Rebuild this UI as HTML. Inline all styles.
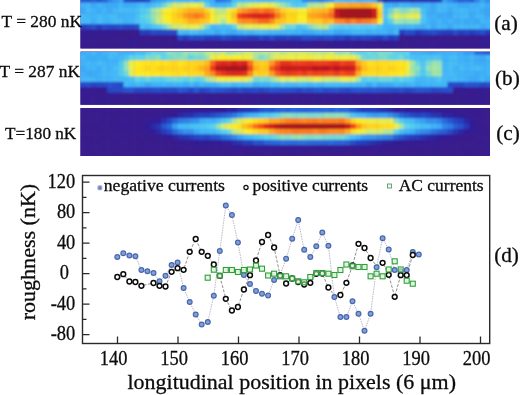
<!DOCTYPE html>
<html><head><meta charset="utf-8"><title>figure</title>
<style>html,body{margin:0;padding:0;background:#fff}body{width:520px;height:395px;overflow:hidden}</style></head>
<body>
<svg width="520" height="395" viewBox="0 0 520 395" style="display:block">
<rect width="520" height="395" fill="#fff"/>
<defs><clipPath id="ca"><rect x="80.5" y="0" width="409.5" height="48.5"/></clipPath><clipPath id="cb"><rect x="80.5" y="51.9" width="409.5" height="52.9"/></clipPath><clipPath id="cc"><rect x="80.5" y="108" width="409.5" height="48"/></clipPath><filter id="bl" x="-5%" y="-20%" width="110%" height="140%"><feGaussianBlur stdDeviation="1.1"/></filter></defs>
<rect x="80.5" y="0" width="409.5" height="48.3" fill="#3a1a8c"/>
<rect x="80.5" y="51.5" width="409.5" height="53.2" fill="#3a1a8c"/>
<rect x="80.5" y="108" width="409.5" height="48" fill="#3a1a8c"/>
<g clip-path="url(#ca)"><g filter="url(#bl)"><rect x="75.3" y="-5.2" width="10.8" height="8.1" fill="#2858d2"/><rect x="85.7" y="-5.2" width="5.8" height="8.1" fill="#2855d0"/><rect x="91.1" y="-5.2" width="5.8" height="8.1" fill="#2963d9"/><rect x="96.5" y="-5.2" width="5.8" height="8.1" fill="#2856d0"/><rect x="101.9" y="-5.2" width="5.8" height="8.1" fill="#2962d9"/><rect x="107.3" y="-5.2" width="5.8" height="8.1" fill="#3183e8"/><rect x="112.7" y="-5.2" width="5.8" height="8.1" fill="#389af0"/><rect x="118.1" y="-5.2" width="5.8" height="8.1" fill="#3ca6f4"/><rect x="123.5" y="-5.2" width="5.8" height="8.1" fill="#2750cc"/><rect x="128.9" y="-5.2" width="5.8" height="8.1" fill="#274ac8"/><rect x="134.3" y="-5.2" width="5.8" height="8.1" fill="#2642c3"/><rect x="139.7" y="-5.2" width="5.8" height="8.1" fill="#2744c4"/><rect x="145.1" y="-5.2" width="5.8" height="8.1" fill="#274ecb"/><rect x="150.5" y="-5.2" width="5.8" height="8.1" fill="#3592ed"/><rect x="155.9" y="-5.2" width="5.8" height="8.1" fill="#399df1"/><rect x="161.3" y="-5.2" width="5.8" height="8.1" fill="#3ba3f3"/><rect x="166.7" y="-5.2" width="5.8" height="8.1" fill="#3fb1f8"/><rect x="172.1" y="-5.2" width="5.8" height="8.1" fill="#43b8f8"/><rect x="177.5" y="-5.2" width="5.8" height="8.1" fill="#40b4f9"/><rect x="182.9" y="-5.2" width="5.8" height="8.1" fill="#3fb2f8"/><rect x="188.3" y="-5.2" width="5.8" height="8.1" fill="#46bcf6"/><rect x="193.7" y="-5.2" width="5.8" height="8.1" fill="#3eaef7"/><rect x="199.1" y="-5.2" width="5.8" height="8.1" fill="#47bdf6"/><rect x="204.5" y="-5.2" width="5.8" height="8.1" fill="#42b7f8"/><rect x="209.9" y="-5.2" width="5.8" height="8.1" fill="#3daaf6"/><rect x="215.3" y="-5.2" width="5.8" height="8.1" fill="#2b71e2"/><rect x="220.7" y="-5.2" width="5.8" height="8.1" fill="#2d77e4"/><rect x="226.1" y="-5.2" width="5.8" height="8.1" fill="#3185e9"/><rect x="231.5" y="-5.2" width="5.8" height="8.1" fill="#47bdf6"/><rect x="236.9" y="-5.2" width="5.8" height="8.1" fill="#4bc2f4"/><rect x="242.3" y="-5.2" width="5.8" height="8.1" fill="#4cc3f4"/><rect x="247.7" y="-5.2" width="5.8" height="8.1" fill="#49bff5"/><rect x="253.1" y="-5.2" width="5.8" height="8.1" fill="#4bc1f4"/><rect x="258.5" y="-5.2" width="5.8" height="8.1" fill="#46bbf7"/><rect x="263.9" y="-5.2" width="5.8" height="8.1" fill="#46bbf7"/><rect x="269.3" y="-5.2" width="5.8" height="8.1" fill="#47bdf6"/><rect x="274.7" y="-5.2" width="5.8" height="8.1" fill="#4cc3f4"/><rect x="280.1" y="-5.2" width="5.8" height="8.1" fill="#4ac0f5"/><rect x="285.5" y="-5.2" width="5.8" height="8.1" fill="#48bef5"/><rect x="290.9" y="-5.2" width="5.8" height="8.1" fill="#4bc2f4"/><rect x="296.3" y="-5.2" width="5.8" height="8.1" fill="#4ac0f5"/><rect x="301.7" y="-5.2" width="5.8" height="8.1" fill="#338aeb"/><rect x="307.1" y="-5.2" width="5.8" height="8.1" fill="#3287e9"/><rect x="312.5" y="-5.2" width="5.8" height="8.1" fill="#3287ea"/><rect x="317.9" y="-5.2" width="5.8" height="8.1" fill="#2f7de6"/><rect x="323.3" y="-5.2" width="5.8" height="8.1" fill="#338aeb"/><rect x="328.7" y="-5.2" width="5.8" height="8.1" fill="#399df1"/><rect x="334.1" y="-5.2" width="5.8" height="8.1" fill="#49bff5"/><rect x="339.5" y="-5.2" width="5.8" height="8.1" fill="#47bcf6"/><rect x="344.9" y="-5.2" width="5.8" height="8.1" fill="#41b6f8"/><rect x="350.3" y="-5.2" width="5.8" height="8.1" fill="#48bef6"/><rect x="355.7" y="-5.2" width="5.8" height="8.1" fill="#3faff7"/><rect x="361.1" y="-5.2" width="5.8" height="8.1" fill="#41b5f9"/><rect x="366.5" y="-5.2" width="5.8" height="8.1" fill="#44b8f8"/><rect x="371.9" y="-5.2" width="5.8" height="8.1" fill="#3dabf6"/><rect x="377.3" y="-5.2" width="5.8" height="8.1" fill="#2856d0"/><rect x="382.7" y="-5.2" width="5.8" height="8.1" fill="#2c2aa6"/><rect x="388.1" y="-5.2" width="5.8" height="8.1" fill="#2837b7"/><rect x="393.5" y="-5.2" width="5.8" height="8.1" fill="#2839ba"/><rect x="398.9" y="-5.2" width="5.8" height="8.1" fill="#2935b5"/><rect x="404.3" y="-5.2" width="5.8" height="8.1" fill="#273bbd"/><rect x="409.7" y="-5.2" width="5.8" height="8.1" fill="#2b2fae"/><rect x="415.1" y="-5.2" width="5.8" height="8.1" fill="#2837b8"/><rect x="420.5" y="-5.2" width="5.8" height="8.1" fill="#2935b5"/><rect x="425.9" y="-5.2" width="5.8" height="8.1" fill="#2935b5"/><rect x="431.3" y="-5.2" width="5.8" height="8.1" fill="#2a32b1"/><rect x="436.7" y="-5.2" width="5.8" height="8.1" fill="#273bbc"/><rect x="442.1" y="-5.2" width="5.8" height="8.1" fill="#399df1"/><rect x="447.5" y="-5.2" width="5.8" height="8.1" fill="#338aeb"/><rect x="452.9" y="-5.2" width="5.8" height="8.1" fill="#2b71e2"/><rect x="458.3" y="-5.2" width="5.8" height="8.1" fill="#295cd5"/><rect x="463.7" y="-5.2" width="5.8" height="8.1" fill="#2965db"/><rect x="469.1" y="-5.2" width="5.8" height="8.1" fill="#295dd5"/><rect x="474.5" y="-5.2" width="5.8" height="8.1" fill="#3185e9"/><rect x="479.9" y="-5.2" width="5.8" height="8.1" fill="#3ba4f4"/><rect x="485.3" y="-5.2" width="9.9" height="8.1" fill="#348eec"/><rect x="75.3" y="2.5" width="10.8" height="5.8" fill="#3fb1f8"/><rect x="85.7" y="2.5" width="5.8" height="5.8" fill="#42b6f8"/><rect x="91.1" y="2.5" width="5.8" height="5.8" fill="#3ca7f4"/><rect x="96.5" y="2.5" width="5.8" height="5.8" fill="#40b3f9"/><rect x="101.9" y="2.5" width="5.8" height="5.8" fill="#3dabf6"/><rect x="107.3" y="2.5" width="5.8" height="5.8" fill="#3daaf5"/><rect x="112.7" y="2.5" width="5.8" height="5.8" fill="#3ca8f5"/><rect x="118.1" y="2.5" width="5.8" height="5.8" fill="#43b8f8"/><rect x="123.5" y="2.5" width="5.8" height="5.8" fill="#3daaf6"/><rect x="128.9" y="2.5" width="5.8" height="5.8" fill="#3eaef7"/><rect x="134.3" y="2.5" width="5.8" height="5.8" fill="#40b5f9"/><rect x="139.7" y="2.5" width="5.8" height="5.8" fill="#47bdf6"/><rect x="145.1" y="2.5" width="5.8" height="5.8" fill="#41b5f9"/><rect x="150.5" y="2.5" width="5.8" height="5.8" fill="#48bef6"/><rect x="155.9" y="2.5" width="5.8" height="5.8" fill="#50c8f2"/><rect x="161.3" y="2.5" width="5.8" height="5.8" fill="#6cd8dd"/><rect x="166.7" y="2.5" width="5.8" height="5.8" fill="#a7e6a3"/><rect x="172.1" y="2.5" width="5.8" height="5.8" fill="#dbec60"/><rect x="177.5" y="2.5" width="5.8" height="5.8" fill="#cceb74"/><rect x="182.9" y="2.5" width="5.8" height="5.8" fill="#e3ed56"/><rect x="188.3" y="2.5" width="5.8" height="5.8" fill="#e8ee4f"/><rect x="193.7" y="2.5" width="5.8" height="5.8" fill="#eaee4c"/><rect x="199.1" y="2.5" width="5.8" height="5.8" fill="#d9ec62"/><rect x="204.5" y="2.5" width="5.8" height="5.8" fill="#5bd4ed"/><rect x="209.9" y="2.5" width="5.8" height="5.8" fill="#44b9f7"/><rect x="215.3" y="2.5" width="5.8" height="5.8" fill="#41b5f9"/><rect x="220.7" y="2.5" width="5.8" height="5.8" fill="#41b5f9"/><rect x="226.1" y="2.5" width="5.8" height="5.8" fill="#47bcf6"/><rect x="231.5" y="2.5" width="5.8" height="5.8" fill="#61d6e7"/><rect x="236.9" y="2.5" width="5.8" height="5.8" fill="#bae98a"/><rect x="242.3" y="2.5" width="5.8" height="5.8" fill="#bee985"/><rect x="247.7" y="2.5" width="5.8" height="5.8" fill="#dced5f"/><rect x="253.1" y="2.5" width="5.8" height="5.8" fill="#e1ed59"/><rect x="258.5" y="2.5" width="5.8" height="5.8" fill="#ebee4a"/><rect x="263.9" y="2.5" width="5.8" height="5.8" fill="#f1ed3c"/><rect x="269.3" y="2.5" width="5.8" height="5.8" fill="#ebee49"/><rect x="274.7" y="2.5" width="5.8" height="5.8" fill="#c3ea7f"/><rect x="280.1" y="2.5" width="5.8" height="5.8" fill="#a0e5aa"/><rect x="285.5" y="2.5" width="5.8" height="5.8" fill="#7cdccd"/><rect x="290.9" y="2.5" width="5.8" height="5.8" fill="#54ccf1"/><rect x="296.3" y="2.5" width="5.8" height="5.8" fill="#53cbf1"/><rect x="301.7" y="2.5" width="5.8" height="5.8" fill="#57d1ef"/><rect x="307.1" y="2.5" width="5.8" height="5.8" fill="#a8e6a2"/><rect x="312.5" y="2.5" width="5.8" height="5.8" fill="#b8e88d"/><rect x="317.9" y="2.5" width="5.8" height="5.8" fill="#b4e892"/><rect x="323.3" y="2.5" width="5.8" height="5.8" fill="#d7ec66"/><rect x="328.7" y="2.5" width="5.8" height="5.8" fill="#f8ed2e"/><rect x="334.1" y="2.5" width="5.8" height="5.8" fill="#ffaf1e"/><rect x="339.5" y="2.5" width="5.8" height="5.8" fill="#ffab1e"/><rect x="344.9" y="2.5" width="5.8" height="5.8" fill="#ffab1e"/><rect x="350.3" y="2.5" width="5.8" height="5.8" fill="#ffa71e"/><rect x="355.7" y="2.5" width="5.8" height="5.8" fill="#ffa81e"/><rect x="361.1" y="2.5" width="5.8" height="5.8" fill="#ffa31e"/><rect x="366.5" y="2.5" width="5.8" height="5.8" fill="#ffab1e"/><rect x="371.9" y="2.5" width="5.8" height="5.8" fill="#ffc61e"/><rect x="377.3" y="2.5" width="5.8" height="5.8" fill="#eeed42"/><rect x="382.7" y="2.5" width="5.8" height="5.8" fill="#3fb2f8"/><rect x="388.1" y="2.5" width="5.8" height="5.8" fill="#3fb1f8"/><rect x="393.5" y="2.5" width="5.8" height="5.8" fill="#3ca8f5"/><rect x="398.9" y="2.5" width="5.8" height="5.8" fill="#44b9f7"/><rect x="404.3" y="2.5" width="5.8" height="5.8" fill="#42b6f8"/><rect x="409.7" y="2.5" width="5.8" height="5.8" fill="#3dabf6"/><rect x="415.1" y="2.5" width="5.8" height="5.8" fill="#3eaef7"/><rect x="420.5" y="2.5" width="5.8" height="5.8" fill="#3fb0f8"/><rect x="425.9" y="2.5" width="5.8" height="5.8" fill="#3fb0f8"/><rect x="431.3" y="2.5" width="5.8" height="5.8" fill="#3da9f5"/><rect x="436.7" y="2.5" width="5.8" height="5.8" fill="#44b8f7"/><rect x="442.1" y="2.5" width="5.8" height="5.8" fill="#45baf7"/><rect x="447.5" y="2.5" width="5.8" height="5.8" fill="#40b3f9"/><rect x="452.9" y="2.5" width="5.8" height="5.8" fill="#40b4f9"/><rect x="458.3" y="2.5" width="5.8" height="5.8" fill="#3ca8f5"/><rect x="463.7" y="2.5" width="5.8" height="5.8" fill="#3ca9f5"/><rect x="469.1" y="2.5" width="5.8" height="5.8" fill="#3fb0f7"/><rect x="474.5" y="2.5" width="5.8" height="5.8" fill="#3eadf7"/><rect x="479.9" y="2.5" width="5.8" height="5.8" fill="#43b8f8"/><rect x="485.3" y="2.5" width="9.9" height="5.8" fill="#3dabf6"/><rect x="75.3" y="7.9" width="10.8" height="5.8" fill="#3ca7f5"/><rect x="85.7" y="7.9" width="5.8" height="5.8" fill="#45baf7"/><rect x="91.1" y="7.9" width="5.8" height="5.8" fill="#41b5f9"/><rect x="96.5" y="7.9" width="5.8" height="5.8" fill="#3eacf6"/><rect x="101.9" y="7.9" width="5.8" height="5.8" fill="#41b6f8"/><rect x="107.3" y="7.9" width="5.8" height="5.8" fill="#3daaf6"/><rect x="112.7" y="7.9" width="5.8" height="5.8" fill="#42b6f8"/><rect x="118.1" y="7.9" width="5.8" height="5.8" fill="#47bcf6"/><rect x="123.5" y="7.9" width="5.8" height="5.8" fill="#46bbf7"/><rect x="128.9" y="7.9" width="5.8" height="5.8" fill="#44b9f7"/><rect x="134.3" y="7.9" width="5.8" height="5.8" fill="#48bef6"/><rect x="139.7" y="7.9" width="5.8" height="5.8" fill="#52caf1"/><rect x="145.1" y="7.9" width="5.8" height="5.8" fill="#58d2ef"/><rect x="150.5" y="7.9" width="5.8" height="5.8" fill="#99e3b0"/><rect x="155.9" y="7.9" width="5.8" height="5.8" fill="#bee986"/><rect x="161.3" y="7.9" width="5.8" height="5.8" fill="#f0ed3f"/><rect x="166.7" y="7.9" width="5.8" height="5.8" fill="#fdec23"/><rect x="172.1" y="7.9" width="5.8" height="5.8" fill="#ffdf1e"/><rect x="177.5" y="7.9" width="5.8" height="5.8" fill="#ffce1e"/><rect x="182.9" y="7.9" width="5.8" height="5.8" fill="#ffbe1e"/><rect x="188.3" y="7.9" width="5.8" height="5.8" fill="#ffb01e"/><rect x="193.7" y="7.9" width="5.8" height="5.8" fill="#ffb11e"/><rect x="199.1" y="7.9" width="5.8" height="5.8" fill="#ffb41e"/><rect x="204.5" y="7.9" width="5.8" height="5.8" fill="#ffd31e"/><rect x="209.9" y="7.9" width="5.8" height="5.8" fill="#ebee4a"/><rect x="215.3" y="7.9" width="5.8" height="5.8" fill="#c0e983"/><rect x="220.7" y="7.9" width="5.8" height="5.8" fill="#b2e894"/><rect x="226.1" y="7.9" width="5.8" height="5.8" fill="#ebee4a"/><rect x="231.5" y="7.9" width="5.8" height="5.8" fill="#ffdc1e"/><rect x="236.9" y="7.9" width="5.8" height="5.8" fill="#ffac1e"/><rect x="242.3" y="7.9" width="5.8" height="5.8" fill="#ff931e"/><rect x="247.7" y="7.9" width="5.8" height="5.8" fill="#fd7f1e"/><rect x="253.1" y="7.9" width="5.8" height="5.8" fill="#fb711e"/><rect x="258.5" y="7.9" width="5.8" height="5.8" fill="#fd7d1e"/><rect x="263.9" y="7.9" width="5.8" height="5.8" fill="#fa671e"/><rect x="269.3" y="7.9" width="5.8" height="5.8" fill="#fc781e"/><rect x="274.7" y="7.9" width="5.8" height="5.8" fill="#ffa91e"/><rect x="280.1" y="7.9" width="5.8" height="5.8" fill="#ffd21e"/><rect x="285.5" y="7.9" width="5.8" height="5.8" fill="#ffdf1e"/><rect x="290.9" y="7.9" width="5.8" height="5.8" fill="#ffe11e"/><rect x="296.3" y="7.9" width="5.8" height="5.8" fill="#f5ed33"/><rect x="301.7" y="7.9" width="5.8" height="5.8" fill="#f5ed33"/><rect x="307.1" y="7.9" width="5.8" height="5.8" fill="#ffcd1e"/><rect x="312.5" y="7.9" width="5.8" height="5.8" fill="#ffbf1e"/><rect x="317.9" y="7.9" width="5.8" height="5.8" fill="#ffb91e"/><rect x="323.3" y="7.9" width="5.8" height="5.8" fill="#ffb91e"/><rect x="328.7" y="7.9" width="5.8" height="5.8" fill="#fe881e"/><rect x="334.1" y="7.9" width="5.8" height="5.8" fill="#c11a1d"/><rect x="339.5" y="7.9" width="5.8" height="5.8" fill="#ac151c"/><rect x="344.9" y="7.9" width="5.8" height="5.8" fill="#a5141c"/><rect x="350.3" y="7.9" width="5.8" height="5.8" fill="#a5141c"/><rect x="355.7" y="7.9" width="5.8" height="5.8" fill="#a5141c"/><rect x="361.1" y="7.9" width="5.8" height="5.8" fill="#a5141c"/><rect x="366.5" y="7.9" width="5.8" height="5.8" fill="#a5141c"/><rect x="371.9" y="7.9" width="5.8" height="5.8" fill="#d71f1e"/><rect x="377.3" y="7.9" width="5.8" height="5.8" fill="#ffd31e"/><rect x="382.7" y="7.9" width="5.8" height="5.8" fill="#4bc1f5"/><rect x="388.1" y="7.9" width="5.8" height="5.8" fill="#65d7e3"/><rect x="393.5" y="7.9" width="5.8" height="5.8" fill="#a6e6a4"/><rect x="398.9" y="7.9" width="5.8" height="5.8" fill="#88dfc1"/><rect x="404.3" y="7.9" width="5.8" height="5.8" fill="#8be0be"/><rect x="409.7" y="7.9" width="5.8" height="5.8" fill="#abe79d"/><rect x="415.1" y="7.9" width="5.8" height="5.8" fill="#a1e5a9"/><rect x="420.5" y="7.9" width="5.8" height="5.8" fill="#4ac1f5"/><rect x="425.9" y="7.9" width="5.8" height="5.8" fill="#3fb0f7"/><rect x="431.3" y="7.9" width="5.8" height="5.8" fill="#3daaf6"/><rect x="436.7" y="7.9" width="5.8" height="5.8" fill="#44b9f7"/><rect x="442.1" y="7.9" width="5.8" height="5.8" fill="#43b8f8"/><rect x="447.5" y="7.9" width="5.8" height="5.8" fill="#3daaf6"/><rect x="452.9" y="7.9" width="5.8" height="5.8" fill="#43b8f8"/><rect x="458.3" y="7.9" width="5.8" height="5.8" fill="#45baf7"/><rect x="463.7" y="7.9" width="5.8" height="5.8" fill="#42b6f8"/><rect x="469.1" y="7.9" width="5.8" height="5.8" fill="#3fb0f8"/><rect x="474.5" y="7.9" width="5.8" height="5.8" fill="#41b5f9"/><rect x="479.9" y="7.9" width="5.8" height="5.8" fill="#3daaf5"/><rect x="485.3" y="7.9" width="9.9" height="5.8" fill="#3ca6f4"/><rect x="75.3" y="13.3" width="10.8" height="5.8" fill="#45baf7"/><rect x="85.7" y="13.3" width="5.8" height="5.8" fill="#42b6f8"/><rect x="91.1" y="13.3" width="5.8" height="5.8" fill="#41b5f9"/><rect x="96.5" y="13.3" width="5.8" height="5.8" fill="#45bbf7"/><rect x="101.9" y="13.3" width="5.8" height="5.8" fill="#41b5f9"/><rect x="107.3" y="13.3" width="5.8" height="5.8" fill="#45bbf7"/><rect x="112.7" y="13.3" width="5.8" height="5.8" fill="#45baf7"/><rect x="118.1" y="13.3" width="5.8" height="5.8" fill="#3fb1f8"/><rect x="123.5" y="13.3" width="5.8" height="5.8" fill="#40b3f9"/><rect x="128.9" y="13.3" width="5.8" height="5.8" fill="#40b4f9"/><rect x="134.3" y="13.3" width="5.8" height="5.8" fill="#49bff5"/><rect x="139.7" y="13.3" width="5.8" height="5.8" fill="#57d1ef"/><rect x="145.1" y="13.3" width="5.8" height="5.8" fill="#68d7e0"/><rect x="150.5" y="13.3" width="5.8" height="5.8" fill="#9ae3b0"/><rect x="155.9" y="13.3" width="5.8" height="5.8" fill="#bae98a"/><rect x="161.3" y="13.3" width="5.8" height="5.8" fill="#f6ed32"/><rect x="166.7" y="13.3" width="5.8" height="5.8" fill="#ffea1e"/><rect x="172.1" y="13.3" width="5.8" height="5.8" fill="#ffd21e"/><rect x="177.5" y="13.3" width="5.8" height="5.8" fill="#ffbf1e"/><rect x="182.9" y="13.3" width="5.8" height="5.8" fill="#ff991e"/><rect x="188.3" y="13.3" width="5.8" height="5.8" fill="#ff891e"/><rect x="193.7" y="13.3" width="5.8" height="5.8" fill="#fc771e"/><rect x="199.1" y="13.3" width="5.8" height="5.8" fill="#ff8a1e"/><rect x="204.5" y="13.3" width="5.8" height="5.8" fill="#ffb91e"/><rect x="209.9" y="13.3" width="5.8" height="5.8" fill="#fbec26"/><rect x="215.3" y="13.3" width="5.8" height="5.8" fill="#d8ec64"/><rect x="220.7" y="13.3" width="5.8" height="5.8" fill="#e5ee53"/><rect x="226.1" y="13.3" width="5.8" height="5.8" fill="#faec29"/><rect x="231.5" y="13.3" width="5.8" height="5.8" fill="#ffc01e"/><rect x="236.9" y="13.3" width="5.8" height="5.8" fill="#f2421e"/><rect x="242.3" y="13.3" width="5.8" height="5.8" fill="#e7331e"/><rect x="247.7" y="13.3" width="5.8" height="5.8" fill="#e0291e"/><rect x="253.1" y="13.3" width="5.8" height="5.8" fill="#d9211e"/><rect x="258.5" y="13.3" width="5.8" height="5.8" fill="#d9211e"/><rect x="263.9" y="13.3" width="5.8" height="5.8" fill="#da221e"/><rect x="269.3" y="13.3" width="5.8" height="5.8" fill="#e5311e"/><rect x="274.7" y="13.3" width="5.8" height="5.8" fill="#fc791e"/><rect x="280.1" y="13.3" width="5.8" height="5.8" fill="#ffac1e"/><rect x="285.5" y="13.3" width="5.8" height="5.8" fill="#ffd41e"/><rect x="290.9" y="13.3" width="5.8" height="5.8" fill="#ffd01e"/><rect x="296.3" y="13.3" width="5.8" height="5.8" fill="#ffec1e"/><rect x="301.7" y="13.3" width="5.8" height="5.8" fill="#ffec1e"/><rect x="307.1" y="13.3" width="5.8" height="5.8" fill="#ffab1e"/><rect x="312.5" y="13.3" width="5.8" height="5.8" fill="#ffa31e"/><rect x="317.9" y="13.3" width="5.8" height="5.8" fill="#ff961e"/><rect x="323.3" y="13.3" width="5.8" height="5.8" fill="#ff891e"/><rect x="328.7" y="13.3" width="5.8" height="5.8" fill="#fa6c1e"/><rect x="334.1" y="13.3" width="5.8" height="5.8" fill="#c61b1d"/><rect x="339.5" y="13.3" width="5.8" height="5.8" fill="#a5141c"/><rect x="344.9" y="13.3" width="5.8" height="5.8" fill="#a5141c"/><rect x="350.3" y="13.3" width="5.8" height="5.8" fill="#a5141c"/><rect x="355.7" y="13.3" width="5.8" height="5.8" fill="#a5141c"/><rect x="361.1" y="13.3" width="5.8" height="5.8" fill="#a5141c"/><rect x="366.5" y="13.3" width="5.8" height="5.8" fill="#a5141c"/><rect x="371.9" y="13.3" width="5.8" height="5.8" fill="#cc1c1e"/><rect x="377.3" y="13.3" width="5.8" height="5.8" fill="#ffd01e"/><rect x="382.7" y="13.3" width="5.8" height="5.8" fill="#4fc7f3"/><rect x="388.1" y="13.3" width="5.8" height="5.8" fill="#9de4ad"/><rect x="393.5" y="13.3" width="5.8" height="5.8" fill="#e9ee4e"/><rect x="398.9" y="13.3" width="5.8" height="5.8" fill="#cbeb75"/><rect x="404.3" y="13.3" width="5.8" height="5.8" fill="#deed5c"/><rect x="409.7" y="13.3" width="5.8" height="5.8" fill="#ebee49"/><rect x="415.1" y="13.3" width="5.8" height="5.8" fill="#ebee4a"/><rect x="420.5" y="13.3" width="5.8" height="5.8" fill="#4fc7f2"/><rect x="425.9" y="13.3" width="5.8" height="5.8" fill="#3fb2f8"/><rect x="431.3" y="13.3" width="5.8" height="5.8" fill="#3fb2f8"/><rect x="436.7" y="13.3" width="5.8" height="5.8" fill="#3ca8f5"/><rect x="442.1" y="13.3" width="5.8" height="5.8" fill="#3eadf7"/><rect x="447.5" y="13.3" width="5.8" height="5.8" fill="#3ca8f5"/><rect x="452.9" y="13.3" width="5.8" height="5.8" fill="#42b6f8"/><rect x="458.3" y="13.3" width="5.8" height="5.8" fill="#43b8f8"/><rect x="463.7" y="13.3" width="5.8" height="5.8" fill="#44b9f7"/><rect x="469.1" y="13.3" width="5.8" height="5.8" fill="#3daaf6"/><rect x="474.5" y="13.3" width="5.8" height="5.8" fill="#42b7f8"/><rect x="479.9" y="13.3" width="5.8" height="5.8" fill="#42b6f8"/><rect x="485.3" y="13.3" width="9.9" height="5.8" fill="#3daaf6"/><rect x="75.3" y="18.7" width="10.8" height="5.8" fill="#44b9f7"/><rect x="85.7" y="18.7" width="5.8" height="5.8" fill="#45baf7"/><rect x="91.1" y="18.7" width="5.8" height="5.8" fill="#3eaef7"/><rect x="96.5" y="18.7" width="5.8" height="5.8" fill="#46bbf7"/><rect x="101.9" y="18.7" width="5.8" height="5.8" fill="#40b4f9"/><rect x="107.3" y="18.7" width="5.8" height="5.8" fill="#41b5f9"/><rect x="112.7" y="18.7" width="5.8" height="5.8" fill="#47bcf6"/><rect x="118.1" y="18.7" width="5.8" height="5.8" fill="#45baf7"/><rect x="123.5" y="18.7" width="5.8" height="5.8" fill="#3fb0f8"/><rect x="128.9" y="18.7" width="5.8" height="5.8" fill="#42b6f8"/><rect x="134.3" y="18.7" width="5.8" height="5.8" fill="#4bc2f4"/><rect x="139.7" y="18.7" width="5.8" height="5.8" fill="#53cbf1"/><rect x="145.1" y="18.7" width="5.8" height="5.8" fill="#59d3ee"/><rect x="150.5" y="18.7" width="5.8" height="5.8" fill="#86dec3"/><rect x="155.9" y="18.7" width="5.8" height="5.8" fill="#cdeb73"/><rect x="161.3" y="18.7" width="5.8" height="5.8" fill="#e6ee52"/><rect x="166.7" y="18.7" width="5.8" height="5.8" fill="#ffea1e"/><rect x="172.1" y="18.7" width="5.8" height="5.8" fill="#ffda1e"/><rect x="177.5" y="18.7" width="5.8" height="5.8" fill="#ffd81e"/><rect x="182.9" y="18.7" width="5.8" height="5.8" fill="#ffca1e"/><rect x="188.3" y="18.7" width="5.8" height="5.8" fill="#ffb11e"/><rect x="193.7" y="18.7" width="5.8" height="5.8" fill="#ffb41e"/><rect x="199.1" y="18.7" width="5.8" height="5.8" fill="#ffc51e"/><rect x="204.5" y="18.7" width="5.8" height="5.8" fill="#ffcd1e"/><rect x="209.9" y="18.7" width="5.8" height="5.8" fill="#f4ed37"/><rect x="215.3" y="18.7" width="5.8" height="5.8" fill="#e0ed5a"/><rect x="220.7" y="18.7" width="5.8" height="5.8" fill="#ace79d"/><rect x="226.1" y="18.7" width="5.8" height="5.8" fill="#efed40"/><rect x="231.5" y="18.7" width="5.8" height="5.8" fill="#ffda1e"/><rect x="236.9" y="18.7" width="5.8" height="5.8" fill="#ff971e"/><rect x="242.3" y="18.7" width="5.8" height="5.8" fill="#ff8c1e"/><rect x="247.7" y="18.7" width="5.8" height="5.8" fill="#ff8c1e"/><rect x="253.1" y="18.7" width="5.8" height="5.8" fill="#fd7d1e"/><rect x="258.5" y="18.7" width="5.8" height="5.8" fill="#fa671e"/><rect x="263.9" y="18.7" width="5.8" height="5.8" fill="#fa661e"/><rect x="269.3" y="18.7" width="5.8" height="5.8" fill="#ff8d1e"/><rect x="274.7" y="18.7" width="5.8" height="5.8" fill="#ffbf1e"/><rect x="280.1" y="18.7" width="5.8" height="5.8" fill="#ffc91e"/><rect x="285.5" y="18.7" width="5.8" height="5.8" fill="#ffd91e"/><rect x="290.9" y="18.7" width="5.8" height="5.8" fill="#ffda1e"/><rect x="296.3" y="18.7" width="5.8" height="5.8" fill="#f4ed35"/><rect x="301.7" y="18.7" width="5.8" height="5.8" fill="#f4ed36"/><rect x="307.1" y="18.7" width="5.8" height="5.8" fill="#ffcc1e"/><rect x="312.5" y="18.7" width="5.8" height="5.8" fill="#ffca1e"/><rect x="317.9" y="18.7" width="5.8" height="5.8" fill="#ffcc1e"/><rect x="323.3" y="18.7" width="5.8" height="5.8" fill="#ffb41e"/><rect x="328.7" y="18.7" width="5.8" height="5.8" fill="#ffc01e"/><rect x="334.1" y="18.7" width="5.8" height="5.8" fill="#ff8b1e"/><rect x="339.5" y="18.7" width="5.8" height="5.8" fill="#fe871e"/><rect x="344.9" y="18.7" width="5.8" height="5.8" fill="#fa6c1e"/><rect x="350.3" y="18.7" width="5.8" height="5.8" fill="#fe871e"/><rect x="355.7" y="18.7" width="5.8" height="5.8" fill="#fa6c1e"/><rect x="361.1" y="18.7" width="5.8" height="5.8" fill="#fc7a1e"/><rect x="366.5" y="18.7" width="5.8" height="5.8" fill="#fd7e1e"/><rect x="371.9" y="18.7" width="5.8" height="5.8" fill="#ff971e"/><rect x="377.3" y="18.7" width="5.8" height="5.8" fill="#feec20"/><rect x="382.7" y="18.7" width="5.8" height="5.8" fill="#47bdf6"/><rect x="388.1" y="18.7" width="5.8" height="5.8" fill="#58d2ef"/><rect x="393.5" y="18.7" width="5.8" height="5.8" fill="#a5e6a5"/><rect x="398.9" y="18.7" width="5.8" height="5.8" fill="#98e3b2"/><rect x="404.3" y="18.7" width="5.8" height="5.8" fill="#93e2b6"/><rect x="409.7" y="18.7" width="5.8" height="5.8" fill="#99e3b1"/><rect x="415.1" y="18.7" width="5.8" height="5.8" fill="#95e2b4"/><rect x="420.5" y="18.7" width="5.8" height="5.8" fill="#4cc3f4"/><rect x="425.9" y="18.7" width="5.8" height="5.8" fill="#41b5f9"/><rect x="431.3" y="18.7" width="5.8" height="5.8" fill="#3eaff7"/><rect x="436.7" y="18.7" width="5.8" height="5.8" fill="#43b7f8"/><rect x="442.1" y="18.7" width="5.8" height="5.8" fill="#3eaef7"/><rect x="447.5" y="18.7" width="5.8" height="5.8" fill="#40b4f9"/><rect x="452.9" y="18.7" width="5.8" height="5.8" fill="#3dabf6"/><rect x="458.3" y="18.7" width="5.8" height="5.8" fill="#3fb0f8"/><rect x="463.7" y="18.7" width="5.8" height="5.8" fill="#3ca7f4"/><rect x="469.1" y="18.7" width="5.8" height="5.8" fill="#3eadf7"/><rect x="474.5" y="18.7" width="5.8" height="5.8" fill="#3ca6f4"/><rect x="479.9" y="18.7" width="5.8" height="5.8" fill="#42b7f8"/><rect x="485.3" y="18.7" width="9.9" height="5.8" fill="#41b5f9"/><rect x="75.3" y="24.1" width="10.8" height="5.8" fill="#263fc0"/><rect x="85.7" y="24.1" width="5.8" height="5.8" fill="#2746c5"/><rect x="91.1" y="24.1" width="5.8" height="5.8" fill="#2851cd"/><rect x="96.5" y="24.1" width="5.8" height="5.8" fill="#263ec0"/><rect x="101.9" y="24.1" width="5.8" height="5.8" fill="#274fcc"/><rect x="107.3" y="24.1" width="5.8" height="5.8" fill="#2746c6"/><rect x="112.7" y="24.1" width="5.8" height="5.8" fill="#2748c7"/><rect x="118.1" y="24.1" width="5.8" height="5.8" fill="#2851cd"/><rect x="123.5" y="24.1" width="5.8" height="5.8" fill="#2747c6"/><rect x="128.9" y="24.1" width="5.8" height="5.8" fill="#274ac8"/><rect x="134.3" y="24.1" width="5.8" height="5.8" fill="#274fcc"/><rect x="139.7" y="24.1" width="5.8" height="5.8" fill="#49c0f5"/><rect x="145.1" y="24.1" width="5.8" height="5.8" fill="#45baf7"/><rect x="150.5" y="24.1" width="5.8" height="5.8" fill="#4ec6f3"/><rect x="155.9" y="24.1" width="5.8" height="5.8" fill="#54cdf0"/><rect x="161.3" y="24.1" width="5.8" height="5.8" fill="#6fd9d9"/><rect x="166.7" y="24.1" width="5.8" height="5.8" fill="#a3e6a7"/><rect x="172.1" y="24.1" width="5.8" height="5.8" fill="#d3eb6b"/><rect x="177.5" y="24.1" width="5.8" height="5.8" fill="#d3ec6a"/><rect x="182.9" y="24.1" width="5.8" height="5.8" fill="#e7ee51"/><rect x="188.3" y="24.1" width="5.8" height="5.8" fill="#e9ee4d"/><rect x="193.7" y="24.1" width="5.8" height="5.8" fill="#edee46"/><rect x="199.1" y="24.1" width="5.8" height="5.8" fill="#c8ea79"/><rect x="204.5" y="24.1" width="5.8" height="5.8" fill="#6ed9da"/><rect x="209.9" y="24.1" width="5.8" height="5.8" fill="#45baf7"/><rect x="215.3" y="24.1" width="5.8" height="5.8" fill="#48bef5"/><rect x="220.7" y="24.1" width="5.8" height="5.8" fill="#48bef5"/><rect x="226.1" y="24.1" width="5.8" height="5.8" fill="#4ac0f5"/><rect x="231.5" y="24.1" width="5.8" height="5.8" fill="#5ed5ea"/><rect x="236.9" y="24.1" width="5.8" height="5.8" fill="#c7ea7a"/><rect x="242.3" y="24.1" width="5.8" height="5.8" fill="#dbec60"/><rect x="247.7" y="24.1" width="5.8" height="5.8" fill="#e9ee4f"/><rect x="253.1" y="24.1" width="5.8" height="5.8" fill="#e1ed58"/><rect x="258.5" y="24.1" width="5.8" height="5.8" fill="#ecee48"/><rect x="263.9" y="24.1" width="5.8" height="5.8" fill="#ebee4a"/><rect x="269.3" y="24.1" width="5.8" height="5.8" fill="#f1ed3d"/><rect x="274.7" y="24.1" width="5.8" height="5.8" fill="#e3ed56"/><rect x="280.1" y="24.1" width="5.8" height="5.8" fill="#a3e5a7"/><rect x="285.5" y="24.1" width="5.8" height="5.8" fill="#6ad8de"/><rect x="290.9" y="24.1" width="5.8" height="5.8" fill="#6ed9da"/><rect x="296.3" y="24.1" width="5.8" height="5.8" fill="#4dc4f3"/><rect x="301.7" y="24.1" width="5.8" height="5.8" fill="#53ccf1"/><rect x="307.1" y="24.1" width="5.8" height="5.8" fill="#7adcce"/><rect x="312.5" y="24.1" width="5.8" height="5.8" fill="#a3e5a7"/><rect x="317.9" y="24.1" width="5.8" height="5.8" fill="#b9e88b"/><rect x="323.3" y="24.1" width="5.8" height="5.8" fill="#bae88b"/><rect x="328.7" y="24.1" width="5.8" height="5.8" fill="#6cd8dd"/><rect x="334.1" y="24.1" width="5.8" height="5.8" fill="#58d2ef"/><rect x="339.5" y="24.1" width="5.8" height="5.8" fill="#54ccf1"/><rect x="344.9" y="24.1" width="5.8" height="5.8" fill="#56cff0"/><rect x="350.3" y="24.1" width="5.8" height="5.8" fill="#54cdf0"/><rect x="355.7" y="24.1" width="5.8" height="5.8" fill="#58d1ef"/><rect x="361.1" y="24.1" width="5.8" height="5.8" fill="#54ccf1"/><rect x="366.5" y="24.1" width="5.8" height="5.8" fill="#54ccf1"/><rect x="371.9" y="24.1" width="5.8" height="5.8" fill="#56cff0"/><rect x="377.3" y="24.1" width="5.8" height="5.8" fill="#4dc4f3"/><rect x="382.7" y="24.1" width="5.8" height="5.8" fill="#41b6f8"/><rect x="388.1" y="24.1" width="5.8" height="5.8" fill="#41b5f9"/><rect x="393.5" y="24.1" width="5.8" height="5.8" fill="#44b9f7"/><rect x="398.9" y="24.1" width="5.8" height="5.8" fill="#43b7f8"/><rect x="404.3" y="24.1" width="5.8" height="5.8" fill="#43b8f8"/><rect x="409.7" y="24.1" width="5.8" height="5.8" fill="#45baf7"/><rect x="415.1" y="24.1" width="5.8" height="5.8" fill="#40b4f9"/><rect x="420.5" y="24.1" width="5.8" height="5.8" fill="#3fb0f8"/><rect x="425.9" y="24.1" width="5.8" height="5.8" fill="#45baf7"/><rect x="431.3" y="24.1" width="5.8" height="5.8" fill="#3daaf6"/><rect x="436.7" y="24.1" width="5.8" height="5.8" fill="#42b7f8"/><rect x="442.1" y="24.1" width="5.8" height="5.8" fill="#41b6f8"/><rect x="447.5" y="24.1" width="5.8" height="5.8" fill="#3ca7f5"/><rect x="452.9" y="24.1" width="5.8" height="5.8" fill="#43b8f8"/><rect x="458.3" y="24.1" width="5.8" height="5.8" fill="#44b9f7"/><rect x="463.7" y="24.1" width="5.8" height="5.8" fill="#41b6f8"/><rect x="469.1" y="24.1" width="5.8" height="5.8" fill="#42b7f8"/><rect x="474.5" y="24.1" width="5.8" height="5.8" fill="#43b8f8"/><rect x="479.9" y="24.1" width="5.8" height="5.8" fill="#3daaf6"/><rect x="485.3" y="24.1" width="9.9" height="5.8" fill="#40b4f9"/><rect x="75.3" y="29.5" width="10.8" height="5.8" fill="#371b8f"/><rect x="85.7" y="29.5" width="5.8" height="5.8" fill="#351c92"/><rect x="91.1" y="29.5" width="5.8" height="5.8" fill="#351c91"/><rect x="96.5" y="29.5" width="5.8" height="5.8" fill="#351c92"/><rect x="101.9" y="29.5" width="5.8" height="5.8" fill="#371b90"/><rect x="107.3" y="29.5" width="5.8" height="5.8" fill="#351c92"/><rect x="112.7" y="29.5" width="5.8" height="5.8" fill="#361b90"/><rect x="118.1" y="29.5" width="5.8" height="5.8" fill="#361c91"/><rect x="123.5" y="29.5" width="5.8" height="5.8" fill="#391a8d"/><rect x="128.9" y="29.5" width="5.8" height="5.8" fill="#3a1a8c"/><rect x="134.3" y="29.5" width="5.8" height="5.8" fill="#3a1a8c"/><rect x="139.7" y="29.5" width="5.8" height="5.8" fill="#2641c2"/><rect x="145.1" y="29.5" width="5.8" height="5.8" fill="#273bbc"/><rect x="150.5" y="29.5" width="5.8" height="5.8" fill="#274cca"/><rect x="155.9" y="29.5" width="5.8" height="5.8" fill="#2746c5"/><rect x="161.3" y="29.5" width="5.8" height="5.8" fill="#2748c7"/><rect x="166.7" y="29.5" width="5.8" height="5.8" fill="#2748c7"/><rect x="172.1" y="29.5" width="5.8" height="5.8" fill="#274bc9"/><rect x="177.5" y="29.5" width="5.8" height="5.8" fill="#47bcf6"/><rect x="182.9" y="29.5" width="5.8" height="5.8" fill="#43b7f8"/><rect x="188.3" y="29.5" width="5.8" height="5.8" fill="#4bc2f4"/><rect x="193.7" y="29.5" width="5.8" height="5.8" fill="#48bef6"/><rect x="199.1" y="29.5" width="5.8" height="5.8" fill="#43b8f8"/><rect x="204.5" y="29.5" width="5.8" height="5.8" fill="#41b5f9"/><rect x="209.9" y="29.5" width="5.8" height="5.8" fill="#42b6f8"/><rect x="215.3" y="29.5" width="5.8" height="5.8" fill="#3ca8f5"/><rect x="220.7" y="29.5" width="5.8" height="5.8" fill="#42b7f8"/><rect x="226.1" y="29.5" width="5.8" height="5.8" fill="#3eadf7"/><rect x="231.5" y="29.5" width="5.8" height="5.8" fill="#3da9f5"/><rect x="236.9" y="29.5" width="5.8" height="5.8" fill="#41b5f9"/><rect x="242.3" y="29.5" width="5.8" height="5.8" fill="#47bcf6"/><rect x="247.7" y="29.5" width="5.8" height="5.8" fill="#41b6f8"/><rect x="253.1" y="29.5" width="5.8" height="5.8" fill="#47bdf6"/><rect x="258.5" y="29.5" width="5.8" height="5.8" fill="#4ac1f5"/><rect x="263.9" y="29.5" width="5.8" height="5.8" fill="#46bbf7"/><rect x="269.3" y="29.5" width="5.8" height="5.8" fill="#44b9f7"/><rect x="274.7" y="29.5" width="5.8" height="5.8" fill="#43b7f8"/><rect x="280.1" y="29.5" width="5.8" height="5.8" fill="#43b8f8"/><rect x="285.5" y="29.5" width="5.8" height="5.8" fill="#43b8f8"/><rect x="290.9" y="29.5" width="5.8" height="5.8" fill="#41b6f8"/><rect x="296.3" y="29.5" width="5.8" height="5.8" fill="#42b6f8"/><rect x="301.7" y="29.5" width="5.8" height="5.8" fill="#3ca9f5"/><rect x="307.1" y="29.5" width="5.8" height="5.8" fill="#3eadf7"/><rect x="312.5" y="29.5" width="5.8" height="5.8" fill="#3fb1f8"/><rect x="317.9" y="29.5" width="5.8" height="5.8" fill="#45baf7"/><rect x="323.3" y="29.5" width="5.8" height="5.8" fill="#40b4f9"/><rect x="328.7" y="29.5" width="5.8" height="5.8" fill="#42b6f8"/><rect x="334.1" y="29.5" width="5.8" height="5.8" fill="#3ca7f5"/><rect x="339.5" y="29.5" width="5.8" height="5.8" fill="#3ca8f5"/><rect x="344.9" y="29.5" width="5.8" height="5.8" fill="#3eaef7"/><rect x="350.3" y="29.5" width="5.8" height="5.8" fill="#42b7f8"/><rect x="355.7" y="29.5" width="5.8" height="5.8" fill="#42b7f8"/><rect x="361.1" y="29.5" width="5.8" height="5.8" fill="#42b7f8"/><rect x="366.5" y="29.5" width="5.8" height="5.8" fill="#3eaff7"/><rect x="371.9" y="29.5" width="5.8" height="5.8" fill="#40b5f9"/><rect x="377.3" y="29.5" width="5.8" height="5.8" fill="#40b3f9"/><rect x="382.7" y="29.5" width="5.8" height="5.8" fill="#40b3f9"/><rect x="388.1" y="29.5" width="5.8" height="5.8" fill="#3da9f5"/><rect x="393.5" y="29.5" width="5.8" height="5.8" fill="#44b9f7"/><rect x="398.9" y="29.5" width="5.8" height="5.8" fill="#263dbf"/><rect x="404.3" y="29.5" width="5.8" height="5.8" fill="#274fcc"/><rect x="409.7" y="29.5" width="5.8" height="5.8" fill="#274ecb"/><rect x="415.1" y="29.5" width="5.8" height="5.8" fill="#2839ba"/><rect x="420.5" y="29.5" width="5.8" height="5.8" fill="#2643c3"/><rect x="425.9" y="29.5" width="5.8" height="5.8" fill="#274cc9"/><rect x="431.3" y="29.5" width="5.8" height="5.8" fill="#274fcc"/><rect x="436.7" y="29.5" width="5.8" height="5.8" fill="#2643c3"/><rect x="442.1" y="29.5" width="5.8" height="5.8" fill="#263ec0"/><rect x="447.5" y="29.5" width="5.8" height="5.8" fill="#263dbf"/><rect x="452.9" y="29.5" width="5.8" height="5.8" fill="#274fcb"/><rect x="458.3" y="29.5" width="5.8" height="5.8" fill="#263dbf"/><rect x="463.7" y="29.5" width="5.8" height="5.8" fill="#2746c5"/><rect x="469.1" y="29.5" width="5.8" height="5.8" fill="#273cbd"/><rect x="474.5" y="29.5" width="5.8" height="5.8" fill="#2745c5"/><rect x="479.9" y="29.5" width="5.8" height="5.8" fill="#274fcc"/><rect x="485.3" y="29.5" width="9.9" height="5.8" fill="#273bbd"/><rect x="75.3" y="34.9" width="10.8" height="5.8" fill="#351c92"/><rect x="85.7" y="34.9" width="5.8" height="5.8" fill="#371b8f"/><rect x="91.1" y="34.9" width="5.8" height="5.8" fill="#351c92"/><rect x="96.5" y="34.9" width="5.8" height="5.8" fill="#361c91"/><rect x="101.9" y="34.9" width="5.8" height="5.8" fill="#391a8d"/><rect x="107.3" y="34.9" width="5.8" height="5.8" fill="#351c92"/><rect x="112.7" y="34.9" width="5.8" height="5.8" fill="#381b8f"/><rect x="118.1" y="34.9" width="5.8" height="5.8" fill="#3a1a8c"/><rect x="123.5" y="34.9" width="5.8" height="5.8" fill="#3a1a8c"/><rect x="128.9" y="34.9" width="5.8" height="5.8" fill="#381b8f"/><rect x="134.3" y="34.9" width="5.8" height="5.8" fill="#381b8f"/><rect x="139.7" y="34.9" width="5.8" height="5.8" fill="#391a8d"/><rect x="145.1" y="34.9" width="5.8" height="5.8" fill="#3a1a8c"/><rect x="150.5" y="34.9" width="5.8" height="5.8" fill="#391b8e"/><rect x="155.9" y="34.9" width="5.8" height="5.8" fill="#391b8e"/><rect x="161.3" y="34.9" width="5.8" height="5.8" fill="#351c92"/><rect x="166.7" y="34.9" width="5.8" height="5.8" fill="#3a1a8c"/><rect x="172.1" y="34.9" width="5.8" height="5.8" fill="#361c91"/><rect x="177.5" y="34.9" width="5.8" height="5.8" fill="#274cca"/><rect x="182.9" y="34.9" width="5.8" height="5.8" fill="#273bbd"/><rect x="188.3" y="34.9" width="5.8" height="5.8" fill="#274ecb"/><rect x="193.7" y="34.9" width="5.8" height="5.8" fill="#2749c8"/><rect x="199.1" y="34.9" width="5.8" height="5.8" fill="#274ecb"/><rect x="204.5" y="34.9" width="5.8" height="5.8" fill="#263fc1"/><rect x="209.9" y="34.9" width="5.8" height="5.8" fill="#2641c2"/><rect x="215.3" y="34.9" width="5.8" height="5.8" fill="#2641c2"/><rect x="220.7" y="34.9" width="5.8" height="5.8" fill="#2750cc"/><rect x="226.1" y="34.9" width="5.8" height="5.8" fill="#2746c6"/><rect x="231.5" y="34.9" width="5.8" height="5.8" fill="#2641c2"/><rect x="236.9" y="34.9" width="5.8" height="5.8" fill="#2642c3"/><rect x="242.3" y="34.9" width="5.8" height="5.8" fill="#263fc0"/><rect x="247.7" y="34.9" width="5.8" height="5.8" fill="#273abb"/><rect x="253.1" y="34.9" width="5.8" height="5.8" fill="#273bbc"/><rect x="258.5" y="34.9" width="5.8" height="5.8" fill="#274cca"/><rect x="263.9" y="34.9" width="5.8" height="5.8" fill="#263fc1"/><rect x="269.3" y="34.9" width="5.8" height="5.8" fill="#274ecb"/><rect x="274.7" y="34.9" width="5.8" height="5.8" fill="#263ec0"/><rect x="280.1" y="34.9" width="5.8" height="5.8" fill="#263ec0"/><rect x="285.5" y="34.9" width="5.8" height="5.8" fill="#2744c4"/><rect x="290.9" y="34.9" width="5.8" height="5.8" fill="#263dbe"/><rect x="296.3" y="34.9" width="5.8" height="5.8" fill="#2641c2"/><rect x="301.7" y="34.9" width="5.8" height="5.8" fill="#274fcc"/><rect x="307.1" y="34.9" width="5.8" height="5.8" fill="#274dca"/><rect x="312.5" y="34.9" width="5.8" height="5.8" fill="#274bc9"/><rect x="317.9" y="34.9" width="5.8" height="5.8" fill="#2747c6"/><rect x="323.3" y="34.9" width="5.8" height="5.8" fill="#274ecb"/><rect x="328.7" y="34.9" width="5.8" height="5.8" fill="#274fcb"/><rect x="334.1" y="34.9" width="5.8" height="5.8" fill="#2745c5"/><rect x="339.5" y="34.9" width="5.8" height="5.8" fill="#2749c8"/><rect x="344.9" y="34.9" width="5.8" height="5.8" fill="#273abb"/><rect x="350.3" y="34.9" width="5.8" height="5.8" fill="#274ac8"/><rect x="355.7" y="34.9" width="5.8" height="5.8" fill="#2643c3"/><rect x="361.1" y="34.9" width="5.8" height="5.8" fill="#274ac8"/><rect x="366.5" y="34.9" width="5.8" height="5.8" fill="#2747c7"/><rect x="371.9" y="34.9" width="5.8" height="5.8" fill="#263fc1"/><rect x="377.3" y="34.9" width="5.8" height="5.8" fill="#273abb"/><rect x="382.7" y="34.9" width="5.8" height="5.8" fill="#274ecb"/><rect x="388.1" y="34.9" width="5.8" height="5.8" fill="#273bbd"/><rect x="393.5" y="34.9" width="5.8" height="5.8" fill="#2643c4"/><rect x="398.9" y="34.9" width="5.8" height="5.8" fill="#391b8e"/><rect x="404.3" y="34.9" width="5.8" height="5.8" fill="#391a8d"/><rect x="409.7" y="34.9" width="5.8" height="5.8" fill="#361c91"/><rect x="415.1" y="34.9" width="5.8" height="5.8" fill="#341c93"/><rect x="420.5" y="34.9" width="5.8" height="5.8" fill="#391a8d"/><rect x="425.9" y="34.9" width="5.8" height="5.8" fill="#361b90"/><rect x="431.3" y="34.9" width="5.8" height="5.8" fill="#391a8d"/><rect x="436.7" y="34.9" width="5.8" height="5.8" fill="#371b8f"/><rect x="442.1" y="34.9" width="5.8" height="5.8" fill="#381b8e"/><rect x="447.5" y="34.9" width="5.8" height="5.8" fill="#3a1a8c"/><rect x="452.9" y="34.9" width="5.8" height="5.8" fill="#3a1a8c"/><rect x="458.3" y="34.9" width="5.8" height="5.8" fill="#391a8d"/><rect x="463.7" y="34.9" width="5.8" height="5.8" fill="#351c92"/><rect x="469.1" y="34.9" width="5.8" height="5.8" fill="#381b8f"/><rect x="474.5" y="34.9" width="5.8" height="5.8" fill="#391a8d"/><rect x="479.9" y="34.9" width="5.8" height="5.8" fill="#351c92"/><rect x="485.3" y="34.9" width="9.9" height="5.8" fill="#341c93"/><rect x="75.3" y="40.3" width="10.8" height="5.8" fill="#381b8f"/><rect x="85.7" y="40.3" width="5.8" height="5.8" fill="#3a1a8c"/><rect x="91.1" y="40.3" width="5.8" height="5.8" fill="#3a1a8d"/><rect x="96.5" y="40.3" width="5.8" height="5.8" fill="#3a1a8c"/><rect x="101.9" y="40.3" width="5.8" height="5.8" fill="#391b8e"/><rect x="107.3" y="40.3" width="5.8" height="5.8" fill="#3a1a8c"/><rect x="112.7" y="40.3" width="5.8" height="5.8" fill="#391a8d"/><rect x="118.1" y="40.3" width="5.8" height="5.8" fill="#391a8d"/><rect x="123.5" y="40.3" width="5.8" height="5.8" fill="#371b90"/><rect x="128.9" y="40.3" width="5.8" height="5.8" fill="#351c92"/><rect x="134.3" y="40.3" width="5.8" height="5.8" fill="#361c91"/><rect x="139.7" y="40.3" width="5.8" height="5.8" fill="#381b8e"/><rect x="145.1" y="40.3" width="5.8" height="5.8" fill="#381b8e"/><rect x="150.5" y="40.3" width="5.8" height="5.8" fill="#371b8f"/><rect x="155.9" y="40.3" width="5.8" height="5.8" fill="#381b8e"/><rect x="161.3" y="40.3" width="5.8" height="5.8" fill="#391b8e"/><rect x="166.7" y="40.3" width="5.8" height="5.8" fill="#3a1a8c"/><rect x="172.1" y="40.3" width="5.8" height="5.8" fill="#391a8d"/><rect x="177.5" y="40.3" width="5.8" height="5.8" fill="#341c93"/><rect x="182.9" y="40.3" width="5.8" height="5.8" fill="#3a1a8c"/><rect x="188.3" y="40.3" width="5.8" height="5.8" fill="#371b8f"/><rect x="193.7" y="40.3" width="5.8" height="5.8" fill="#371b90"/><rect x="199.1" y="40.3" width="5.8" height="5.8" fill="#351c92"/><rect x="204.5" y="40.3" width="5.8" height="5.8" fill="#391a8d"/><rect x="209.9" y="40.3" width="5.8" height="5.8" fill="#391a8d"/><rect x="215.3" y="40.3" width="5.8" height="5.8" fill="#391a8d"/><rect x="220.7" y="40.3" width="5.8" height="5.8" fill="#381b8e"/><rect x="226.1" y="40.3" width="5.8" height="5.8" fill="#381b8f"/><rect x="231.5" y="40.3" width="5.8" height="5.8" fill="#341c93"/><rect x="236.9" y="40.3" width="5.8" height="5.8" fill="#351c92"/><rect x="242.3" y="40.3" width="5.8" height="5.8" fill="#351c92"/><rect x="247.7" y="40.3" width="5.8" height="5.8" fill="#3a1a8c"/><rect x="253.1" y="40.3" width="5.8" height="5.8" fill="#3a1a8c"/><rect x="258.5" y="40.3" width="5.8" height="5.8" fill="#361c91"/><rect x="263.9" y="40.3" width="5.8" height="5.8" fill="#351c92"/><rect x="269.3" y="40.3" width="5.8" height="5.8" fill="#381b8f"/><rect x="274.7" y="40.3" width="5.8" height="5.8" fill="#371b90"/><rect x="280.1" y="40.3" width="5.8" height="5.8" fill="#3a1a8c"/><rect x="285.5" y="40.3" width="5.8" height="5.8" fill="#381b8e"/><rect x="290.9" y="40.3" width="5.8" height="5.8" fill="#351c92"/><rect x="296.3" y="40.3" width="5.8" height="5.8" fill="#351c92"/><rect x="301.7" y="40.3" width="5.8" height="5.8" fill="#351c92"/><rect x="307.1" y="40.3" width="5.8" height="5.8" fill="#341c93"/><rect x="312.5" y="40.3" width="5.8" height="5.8" fill="#391a8d"/><rect x="317.9" y="40.3" width="5.8" height="5.8" fill="#3a1a8c"/><rect x="323.3" y="40.3" width="5.8" height="5.8" fill="#3a1a8c"/><rect x="328.7" y="40.3" width="5.8" height="5.8" fill="#371b8f"/><rect x="334.1" y="40.3" width="5.8" height="5.8" fill="#361b90"/><rect x="339.5" y="40.3" width="5.8" height="5.8" fill="#351c93"/><rect x="344.9" y="40.3" width="5.8" height="5.8" fill="#361c91"/><rect x="350.3" y="40.3" width="5.8" height="5.8" fill="#371b90"/><rect x="355.7" y="40.3" width="5.8" height="5.8" fill="#361c91"/><rect x="361.1" y="40.3" width="5.8" height="5.8" fill="#381b8f"/><rect x="366.5" y="40.3" width="5.8" height="5.8" fill="#371b8f"/><rect x="371.9" y="40.3" width="5.8" height="5.8" fill="#3a1a8c"/><rect x="377.3" y="40.3" width="5.8" height="5.8" fill="#361c91"/><rect x="382.7" y="40.3" width="5.8" height="5.8" fill="#391a8d"/><rect x="388.1" y="40.3" width="5.8" height="5.8" fill="#351c92"/><rect x="393.5" y="40.3" width="5.8" height="5.8" fill="#371b90"/><rect x="398.9" y="40.3" width="5.8" height="5.8" fill="#391a8d"/><rect x="404.3" y="40.3" width="5.8" height="5.8" fill="#3a1a8c"/><rect x="409.7" y="40.3" width="5.8" height="5.8" fill="#391a8d"/><rect x="415.1" y="40.3" width="5.8" height="5.8" fill="#371b90"/><rect x="420.5" y="40.3" width="5.8" height="5.8" fill="#361c91"/><rect x="425.9" y="40.3" width="5.8" height="5.8" fill="#3a1a8c"/><rect x="431.3" y="40.3" width="5.8" height="5.8" fill="#3a1a8c"/><rect x="436.7" y="40.3" width="5.8" height="5.8" fill="#371b8f"/><rect x="442.1" y="40.3" width="5.8" height="5.8" fill="#371b90"/><rect x="447.5" y="40.3" width="5.8" height="5.8" fill="#381b8e"/><rect x="452.9" y="40.3" width="5.8" height="5.8" fill="#391a8d"/><rect x="458.3" y="40.3" width="5.8" height="5.8" fill="#371b90"/><rect x="463.7" y="40.3" width="5.8" height="5.8" fill="#3a1a8c"/><rect x="469.1" y="40.3" width="5.8" height="5.8" fill="#391a8d"/><rect x="474.5" y="40.3" width="5.8" height="5.8" fill="#381b8f"/><rect x="479.9" y="40.3" width="5.8" height="5.8" fill="#341c93"/><rect x="485.3" y="40.3" width="9.9" height="5.8" fill="#371b90"/><rect x="75.3" y="45.7" width="10.8" height="8.0" fill="#351c92"/><rect x="85.7" y="45.7" width="5.8" height="8.0" fill="#381b8f"/><rect x="91.1" y="45.7" width="5.8" height="8.0" fill="#391a8d"/><rect x="96.5" y="45.7" width="5.8" height="8.0" fill="#391a8d"/><rect x="101.9" y="45.7" width="5.8" height="8.0" fill="#341c93"/><rect x="107.3" y="45.7" width="5.8" height="8.0" fill="#361c91"/><rect x="112.7" y="45.7" width="5.8" height="8.0" fill="#391a8d"/><rect x="118.1" y="45.7" width="5.8" height="8.0" fill="#3a1a8c"/><rect x="123.5" y="45.7" width="5.8" height="8.0" fill="#381b8f"/><rect x="128.9" y="45.7" width="5.8" height="8.0" fill="#361b90"/><rect x="134.3" y="45.7" width="5.8" height="8.0" fill="#381b8e"/><rect x="139.7" y="45.7" width="5.8" height="8.0" fill="#391a8d"/><rect x="145.1" y="45.7" width="5.8" height="8.0" fill="#361b90"/><rect x="150.5" y="45.7" width="5.8" height="8.0" fill="#351c92"/><rect x="155.9" y="45.7" width="5.8" height="8.0" fill="#391a8d"/><rect x="161.3" y="45.7" width="5.8" height="8.0" fill="#3a1a8c"/><rect x="166.7" y="45.7" width="5.8" height="8.0" fill="#391b8e"/><rect x="172.1" y="45.7" width="5.8" height="8.0" fill="#381b8e"/><rect x="177.5" y="45.7" width="5.8" height="8.0" fill="#361b90"/><rect x="182.9" y="45.7" width="5.8" height="8.0" fill="#3a1a8d"/><rect x="188.3" y="45.7" width="5.8" height="8.0" fill="#361c91"/><rect x="193.7" y="45.7" width="5.8" height="8.0" fill="#361c91"/><rect x="199.1" y="45.7" width="5.8" height="8.0" fill="#371b8f"/><rect x="204.5" y="45.7" width="5.8" height="8.0" fill="#391a8d"/><rect x="209.9" y="45.7" width="5.8" height="8.0" fill="#341c93"/><rect x="215.3" y="45.7" width="5.8" height="8.0" fill="#391a8d"/><rect x="220.7" y="45.7" width="5.8" height="8.0" fill="#351c92"/><rect x="226.1" y="45.7" width="5.8" height="8.0" fill="#391a8d"/><rect x="231.5" y="45.7" width="5.8" height="8.0" fill="#391a8d"/><rect x="236.9" y="45.7" width="5.8" height="8.0" fill="#361c91"/><rect x="242.3" y="45.7" width="5.8" height="8.0" fill="#391a8d"/><rect x="247.7" y="45.7" width="5.8" height="8.0" fill="#341c93"/><rect x="253.1" y="45.7" width="5.8" height="8.0" fill="#381b8f"/><rect x="258.5" y="45.7" width="5.8" height="8.0" fill="#3a1a8c"/><rect x="263.9" y="45.7" width="5.8" height="8.0" fill="#391a8d"/><rect x="269.3" y="45.7" width="5.8" height="8.0" fill="#381b8e"/><rect x="274.7" y="45.7" width="5.8" height="8.0" fill="#361b90"/><rect x="280.1" y="45.7" width="5.8" height="8.0" fill="#351c93"/><rect x="285.5" y="45.7" width="5.8" height="8.0" fill="#3a1a8c"/><rect x="290.9" y="45.7" width="5.8" height="8.0" fill="#381b8e"/><rect x="296.3" y="45.7" width="5.8" height="8.0" fill="#391a8d"/><rect x="301.7" y="45.7" width="5.8" height="8.0" fill="#341c93"/><rect x="307.1" y="45.7" width="5.8" height="8.0" fill="#3a1a8c"/><rect x="312.5" y="45.7" width="5.8" height="8.0" fill="#3a1a8c"/><rect x="317.9" y="45.7" width="5.8" height="8.0" fill="#3a1a8c"/><rect x="323.3" y="45.7" width="5.8" height="8.0" fill="#381b8e"/><rect x="328.7" y="45.7" width="5.8" height="8.0" fill="#351c92"/><rect x="334.1" y="45.7" width="5.8" height="8.0" fill="#351c92"/><rect x="339.5" y="45.7" width="5.8" height="8.0" fill="#361c91"/><rect x="344.9" y="45.7" width="5.8" height="8.0" fill="#341c93"/><rect x="350.3" y="45.7" width="5.8" height="8.0" fill="#351c92"/><rect x="355.7" y="45.7" width="5.8" height="8.0" fill="#391b8e"/><rect x="361.1" y="45.7" width="5.8" height="8.0" fill="#3a1a8c"/><rect x="366.5" y="45.7" width="5.8" height="8.0" fill="#351c92"/><rect x="371.9" y="45.7" width="5.8" height="8.0" fill="#361c91"/><rect x="377.3" y="45.7" width="5.8" height="8.0" fill="#3a1a8c"/><rect x="382.7" y="45.7" width="5.8" height="8.0" fill="#361b90"/><rect x="388.1" y="45.7" width="5.8" height="8.0" fill="#381b8e"/><rect x="393.5" y="45.7" width="5.8" height="8.0" fill="#381b8e"/><rect x="398.9" y="45.7" width="5.8" height="8.0" fill="#391b8e"/><rect x="404.3" y="45.7" width="5.8" height="8.0" fill="#3a1a8c"/><rect x="409.7" y="45.7" width="5.8" height="8.0" fill="#3a1a8c"/><rect x="415.1" y="45.7" width="5.8" height="8.0" fill="#391a8d"/><rect x="420.5" y="45.7" width="5.8" height="8.0" fill="#381b8e"/><rect x="425.9" y="45.7" width="5.8" height="8.0" fill="#341c93"/><rect x="431.3" y="45.7" width="5.8" height="8.0" fill="#3a1a8c"/><rect x="436.7" y="45.7" width="5.8" height="8.0" fill="#341c93"/><rect x="442.1" y="45.7" width="5.8" height="8.0" fill="#391a8d"/><rect x="447.5" y="45.7" width="5.8" height="8.0" fill="#381b8e"/><rect x="452.9" y="45.7" width="5.8" height="8.0" fill="#351c92"/><rect x="458.3" y="45.7" width="5.8" height="8.0" fill="#351c92"/><rect x="463.7" y="45.7" width="5.8" height="8.0" fill="#381b8e"/><rect x="469.1" y="45.7" width="5.8" height="8.0" fill="#3a1a8c"/><rect x="474.5" y="45.7" width="5.8" height="8.0" fill="#381b8f"/><rect x="479.9" y="45.7" width="5.8" height="8.0" fill="#381b8e"/><rect x="485.3" y="45.7" width="9.9" height="8.0" fill="#351c92"/></g></g>
<g clip-path="url(#cb)"><g filter="url(#bl)"><rect x="75.3" y="46.7" width="10.8" height="8.6" fill="#3eacf6"/><rect x="85.7" y="46.7" width="5.8" height="8.6" fill="#3fb2f8"/><rect x="91.1" y="46.7" width="5.8" height="8.6" fill="#45bbf7"/><rect x="96.5" y="46.7" width="5.8" height="8.6" fill="#3dabf6"/><rect x="101.9" y="46.7" width="5.8" height="8.6" fill="#41b6f8"/><rect x="107.3" y="46.7" width="5.8" height="8.6" fill="#46bbf7"/><rect x="112.7" y="46.7" width="5.8" height="8.6" fill="#46bbf7"/><rect x="118.1" y="46.7" width="5.8" height="8.6" fill="#3fb1f8"/><rect x="123.5" y="46.7" width="5.8" height="8.6" fill="#3fb2f8"/><rect x="128.9" y="46.7" width="5.8" height="8.6" fill="#40b4f9"/><rect x="134.3" y="46.7" width="5.8" height="8.6" fill="#49bff5"/><rect x="139.7" y="46.7" width="5.8" height="8.6" fill="#46bcf6"/><rect x="145.1" y="46.7" width="5.8" height="8.6" fill="#53cbf1"/><rect x="150.5" y="46.7" width="5.8" height="8.6" fill="#64d6e4"/><rect x="155.9" y="46.7" width="5.8" height="8.6" fill="#5ad4ee"/><rect x="161.3" y="46.7" width="5.8" height="8.6" fill="#5ed5ea"/><rect x="166.7" y="46.7" width="5.8" height="8.6" fill="#8ee0bc"/><rect x="172.1" y="46.7" width="5.8" height="8.6" fill="#85dec4"/><rect x="177.5" y="46.7" width="5.8" height="8.6" fill="#7bdcce"/><rect x="182.9" y="46.7" width="5.8" height="8.6" fill="#9ee4ac"/><rect x="188.3" y="46.7" width="5.8" height="8.6" fill="#92e1b8"/><rect x="193.7" y="46.7" width="5.8" height="8.6" fill="#99e3b0"/><rect x="199.1" y="46.7" width="5.8" height="8.6" fill="#91e1b8"/><rect x="204.5" y="46.7" width="5.8" height="8.6" fill="#bbe989"/><rect x="209.9" y="46.7" width="5.8" height="8.6" fill="#c5ea7d"/><rect x="215.3" y="46.7" width="5.8" height="8.6" fill="#b7e88f"/><rect x="220.7" y="46.7" width="5.8" height="8.6" fill="#c8ea78"/><rect x="226.1" y="46.7" width="5.8" height="8.6" fill="#98e3b2"/><rect x="231.5" y="46.7" width="5.8" height="8.6" fill="#a5e6a5"/><rect x="236.9" y="46.7" width="5.8" height="8.6" fill="#b3e894"/><rect x="242.3" y="46.7" width="5.8" height="8.6" fill="#ceeb72"/><rect x="247.7" y="46.7" width="5.8" height="8.6" fill="#ceeb70"/><rect x="253.1" y="46.7" width="5.8" height="8.6" fill="#b1e796"/><rect x="258.5" y="46.7" width="5.8" height="8.6" fill="#abe79d"/><rect x="263.9" y="46.7" width="5.8" height="8.6" fill="#b6e890"/><rect x="269.3" y="46.7" width="5.8" height="8.6" fill="#bae98a"/><rect x="274.7" y="46.7" width="5.8" height="8.6" fill="#d3eb6b"/><rect x="280.1" y="46.7" width="5.8" height="8.6" fill="#ace79c"/><rect x="285.5" y="46.7" width="5.8" height="8.6" fill="#ceeb71"/><rect x="290.9" y="46.7" width="5.8" height="8.6" fill="#cceb74"/><rect x="296.3" y="46.7" width="5.8" height="8.6" fill="#d1eb6d"/><rect x="301.7" y="46.7" width="5.8" height="8.6" fill="#d0eb6f"/><rect x="307.1" y="46.7" width="5.8" height="8.6" fill="#c8ea78"/><rect x="312.5" y="46.7" width="5.8" height="8.6" fill="#bae98a"/><rect x="317.9" y="46.7" width="5.8" height="8.6" fill="#bbe989"/><rect x="323.3" y="46.7" width="5.8" height="8.6" fill="#bee985"/><rect x="328.7" y="46.7" width="5.8" height="8.6" fill="#d1eb6d"/><rect x="334.1" y="46.7" width="5.8" height="8.6" fill="#9de4ad"/><rect x="339.5" y="46.7" width="5.8" height="8.6" fill="#95e2b5"/><rect x="344.9" y="46.7" width="5.8" height="8.6" fill="#a4e6a6"/><rect x="350.3" y="46.7" width="5.8" height="8.6" fill="#7adccf"/><rect x="355.7" y="46.7" width="5.8" height="8.6" fill="#61d6e7"/><rect x="361.1" y="46.7" width="5.8" height="8.6" fill="#5ad4ee"/><rect x="366.5" y="46.7" width="5.8" height="8.6" fill="#71dad7"/><rect x="371.9" y="46.7" width="5.8" height="8.6" fill="#61d6e7"/><rect x="377.3" y="46.7" width="5.8" height="8.6" fill="#81ddc8"/><rect x="382.7" y="46.7" width="5.8" height="8.6" fill="#78dbd1"/><rect x="388.1" y="46.7" width="5.8" height="8.6" fill="#7adccf"/><rect x="393.5" y="46.7" width="5.8" height="8.6" fill="#58d1ef"/><rect x="398.9" y="46.7" width="5.8" height="8.6" fill="#58d1ef"/><rect x="404.3" y="46.7" width="5.8" height="8.6" fill="#5dd5eb"/><rect x="409.7" y="46.7" width="5.8" height="8.6" fill="#40b4f9"/><rect x="415.1" y="46.7" width="5.8" height="8.6" fill="#42b6f8"/><rect x="420.5" y="46.7" width="5.8" height="8.6" fill="#3fb0f8"/><rect x="425.9" y="46.7" width="5.8" height="8.6" fill="#3ca9f5"/><rect x="431.3" y="46.7" width="5.8" height="8.6" fill="#3eacf6"/><rect x="436.7" y="46.7" width="5.8" height="8.6" fill="#3fb1f8"/><rect x="442.1" y="46.7" width="5.8" height="8.6" fill="#3fb1f8"/><rect x="447.5" y="46.7" width="5.8" height="8.6" fill="#3fb2f8"/><rect x="452.9" y="46.7" width="5.8" height="8.6" fill="#40b3f9"/><rect x="458.3" y="46.7" width="5.8" height="8.6" fill="#3eadf7"/><rect x="463.7" y="46.7" width="5.8" height="8.6" fill="#399cf1"/><rect x="469.1" y="46.7" width="5.8" height="8.6" fill="#3aa2f3"/><rect x="474.5" y="46.7" width="5.8" height="8.6" fill="#2a6de0"/><rect x="479.9" y="46.7" width="5.8" height="8.6" fill="#2a68dd"/><rect x="485.3" y="46.7" width="9.9" height="8.6" fill="#295cd5"/><rect x="75.3" y="54.9" width="10.8" height="5.8" fill="#43b7f8"/><rect x="85.7" y="54.9" width="5.8" height="5.8" fill="#3eadf6"/><rect x="91.1" y="54.9" width="5.8" height="5.8" fill="#3eaff7"/><rect x="96.5" y="54.9" width="5.8" height="5.8" fill="#3faff7"/><rect x="101.9" y="54.9" width="5.8" height="5.8" fill="#3eaef7"/><rect x="107.3" y="54.9" width="5.8" height="5.8" fill="#45bbf7"/><rect x="112.7" y="54.9" width="5.8" height="5.8" fill="#43b7f8"/><rect x="118.1" y="54.9" width="5.8" height="5.8" fill="#44b9f7"/><rect x="123.5" y="54.9" width="5.8" height="5.8" fill="#4cc3f4"/><rect x="128.9" y="54.9" width="5.8" height="5.8" fill="#5bd4ed"/><rect x="134.3" y="54.9" width="5.8" height="5.8" fill="#5ed5ea"/><rect x="139.7" y="54.9" width="5.8" height="5.8" fill="#5ad4ee"/><rect x="145.1" y="54.9" width="5.8" height="5.8" fill="#7fddca"/><rect x="150.5" y="54.9" width="5.8" height="5.8" fill="#7adccf"/><rect x="155.9" y="54.9" width="5.8" height="5.8" fill="#8de0bc"/><rect x="161.3" y="54.9" width="5.8" height="5.8" fill="#5ed5ea"/><rect x="166.7" y="54.9" width="5.8" height="5.8" fill="#73dad6"/><rect x="172.1" y="54.9" width="5.8" height="5.8" fill="#87dfc2"/><rect x="177.5" y="54.9" width="5.8" height="5.8" fill="#89dfc0"/><rect x="182.9" y="54.9" width="5.8" height="5.8" fill="#8ee0bc"/><rect x="188.3" y="54.9" width="5.8" height="5.8" fill="#5fd5e9"/><rect x="193.7" y="54.9" width="5.8" height="5.8" fill="#73dad6"/><rect x="199.1" y="54.9" width="5.8" height="5.8" fill="#7adccf"/><rect x="204.5" y="54.9" width="5.8" height="5.8" fill="#9be4ae"/><rect x="209.9" y="54.9" width="5.8" height="5.8" fill="#ebee4a"/><rect x="215.3" y="54.9" width="5.8" height="5.8" fill="#f2ed3b"/><rect x="220.7" y="54.9" width="5.8" height="5.8" fill="#fbec27"/><rect x="226.1" y="54.9" width="5.8" height="5.8" fill="#f4ed35"/><rect x="231.5" y="54.9" width="5.8" height="5.8" fill="#faec28"/><rect x="236.9" y="54.9" width="5.8" height="5.8" fill="#f5ed33"/><rect x="242.3" y="54.9" width="5.8" height="5.8" fill="#f2ed3a"/><rect x="247.7" y="54.9" width="5.8" height="5.8" fill="#e9ee4e"/><rect x="253.1" y="54.9" width="5.8" height="5.8" fill="#abe79d"/><rect x="258.5" y="54.9" width="5.8" height="5.8" fill="#7bdccd"/><rect x="263.9" y="54.9" width="5.8" height="5.8" fill="#94e2b6"/><rect x="269.3" y="54.9" width="5.8" height="5.8" fill="#cbeb74"/><rect x="274.7" y="54.9" width="5.8" height="5.8" fill="#e3ed57"/><rect x="280.1" y="54.9" width="5.8" height="5.8" fill="#efed41"/><rect x="285.5" y="54.9" width="5.8" height="5.8" fill="#ecee47"/><rect x="290.9" y="54.9" width="5.8" height="5.8" fill="#edee46"/><rect x="296.3" y="54.9" width="5.8" height="5.8" fill="#edee44"/><rect x="301.7" y="54.9" width="5.8" height="5.8" fill="#f2ed3b"/><rect x="307.1" y="54.9" width="5.8" height="5.8" fill="#f2ed3a"/><rect x="312.5" y="54.9" width="5.8" height="5.8" fill="#edee46"/><rect x="317.9" y="54.9" width="5.8" height="5.8" fill="#eaee4b"/><rect x="323.3" y="54.9" width="5.8" height="5.8" fill="#eeed43"/><rect x="328.7" y="54.9" width="5.8" height="5.8" fill="#f3ed39"/><rect x="334.1" y="54.9" width="5.8" height="5.8" fill="#ecee46"/><rect x="339.5" y="54.9" width="5.8" height="5.8" fill="#eeed43"/><rect x="344.9" y="54.9" width="5.8" height="5.8" fill="#edee46"/><rect x="350.3" y="54.9" width="5.8" height="5.8" fill="#f1ed3d"/><rect x="355.7" y="54.9" width="5.8" height="5.8" fill="#c2e980"/><rect x="361.1" y="54.9" width="5.8" height="5.8" fill="#72dad7"/><rect x="366.5" y="54.9" width="5.8" height="5.8" fill="#64d6e5"/><rect x="371.9" y="54.9" width="5.8" height="5.8" fill="#71d9d8"/><rect x="377.3" y="54.9" width="5.8" height="5.8" fill="#78dbd1"/><rect x="382.7" y="54.9" width="5.8" height="5.8" fill="#7cdccd"/><rect x="388.1" y="54.9" width="5.8" height="5.8" fill="#5dd5eb"/><rect x="393.5" y="54.9" width="5.8" height="5.8" fill="#5fd5e9"/><rect x="398.9" y="54.9" width="5.8" height="5.8" fill="#74dad4"/><rect x="404.3" y="54.9" width="5.8" height="5.8" fill="#56cff0"/><rect x="409.7" y="54.9" width="5.8" height="5.8" fill="#4cc3f4"/><rect x="415.1" y="54.9" width="5.8" height="5.8" fill="#49bff5"/><rect x="420.5" y="54.9" width="5.8" height="5.8" fill="#4bc1f4"/><rect x="425.9" y="54.9" width="5.8" height="5.8" fill="#4cc3f4"/><rect x="431.3" y="54.9" width="5.8" height="5.8" fill="#4ec6f3"/><rect x="436.7" y="54.9" width="5.8" height="5.8" fill="#4cc3f4"/><rect x="442.1" y="54.9" width="5.8" height="5.8" fill="#41b5f9"/><rect x="447.5" y="54.9" width="5.8" height="5.8" fill="#45bbf7"/><rect x="452.9" y="54.9" width="5.8" height="5.8" fill="#47bcf6"/><rect x="458.3" y="54.9" width="5.8" height="5.8" fill="#40b3f9"/><rect x="463.7" y="54.9" width="5.8" height="5.8" fill="#3eaef7"/><rect x="469.1" y="54.9" width="5.8" height="5.8" fill="#43b8f8"/><rect x="474.5" y="54.9" width="5.8" height="5.8" fill="#3eadf7"/><rect x="479.9" y="54.9" width="5.8" height="5.8" fill="#3ca7f5"/><rect x="485.3" y="54.9" width="9.9" height="5.8" fill="#44b9f7"/><rect x="75.3" y="60.3" width="10.8" height="5.8" fill="#40b3f9"/><rect x="85.7" y="60.3" width="5.8" height="5.8" fill="#44b9f7"/><rect x="91.1" y="60.3" width="5.8" height="5.8" fill="#41b5f9"/><rect x="96.5" y="60.3" width="5.8" height="5.8" fill="#46bcf6"/><rect x="101.9" y="60.3" width="5.8" height="5.8" fill="#43b7f8"/><rect x="107.3" y="60.3" width="5.8" height="5.8" fill="#40b4f9"/><rect x="112.7" y="60.3" width="5.8" height="5.8" fill="#40b3f9"/><rect x="118.1" y="60.3" width="5.8" height="5.8" fill="#50c8f2"/><rect x="123.5" y="60.3" width="5.8" height="5.8" fill="#91e1b8"/><rect x="128.9" y="60.3" width="5.8" height="5.8" fill="#f0ed3e"/><rect x="134.3" y="60.3" width="5.8" height="5.8" fill="#f8ed2d"/><rect x="139.7" y="60.3" width="5.8" height="5.8" fill="#ffe51e"/><rect x="145.1" y="60.3" width="5.8" height="5.8" fill="#ffe41e"/><rect x="150.5" y="60.3" width="5.8" height="5.8" fill="#ffe01e"/><rect x="155.9" y="60.3" width="5.8" height="5.8" fill="#ffe51e"/><rect x="161.3" y="60.3" width="5.8" height="5.8" fill="#ffe21e"/><rect x="166.7" y="60.3" width="5.8" height="5.8" fill="#ffde1e"/><rect x="172.1" y="60.3" width="5.8" height="5.8" fill="#ffd81e"/><rect x="177.5" y="60.3" width="5.8" height="5.8" fill="#ffe31e"/><rect x="182.9" y="60.3" width="5.8" height="5.8" fill="#ffdd1e"/><rect x="188.3" y="60.3" width="5.8" height="5.8" fill="#ffd71e"/><rect x="193.7" y="60.3" width="5.8" height="5.8" fill="#ffd21e"/><rect x="199.1" y="60.3" width="5.8" height="5.8" fill="#ffd31e"/><rect x="204.5" y="60.3" width="5.8" height="5.8" fill="#ffbe1e"/><rect x="209.9" y="60.3" width="5.8" height="5.8" fill="#fa681e"/><rect x="215.3" y="60.3" width="5.8" height="5.8" fill="#e4301e"/><rect x="220.7" y="60.3" width="5.8" height="5.8" fill="#de281e"/><rect x="226.1" y="60.3" width="5.8" height="5.8" fill="#e42f1e"/><rect x="231.5" y="60.3" width="5.8" height="5.8" fill="#d71e1e"/><rect x="236.9" y="60.3" width="5.8" height="5.8" fill="#df291e"/><rect x="242.3" y="60.3" width="5.8" height="5.8" fill="#d9201e"/><rect x="247.7" y="60.3" width="5.8" height="5.8" fill="#fb6f1e"/><rect x="253.1" y="60.3" width="5.8" height="5.8" fill="#ffc71e"/><rect x="258.5" y="60.3" width="5.8" height="5.8" fill="#ffd21e"/><rect x="263.9" y="60.3" width="5.8" height="5.8" fill="#ffca1e"/><rect x="269.3" y="60.3" width="5.8" height="5.8" fill="#ff9d1e"/><rect x="274.7" y="60.3" width="5.8" height="5.8" fill="#f85a1e"/><rect x="280.1" y="60.3" width="5.8" height="5.8" fill="#e7331e"/><rect x="285.5" y="60.3" width="5.8" height="5.8" fill="#e7331e"/><rect x="290.9" y="60.3" width="5.8" height="5.8" fill="#f1401e"/><rect x="296.3" y="60.3" width="5.8" height="5.8" fill="#f03f1e"/><rect x="301.7" y="60.3" width="5.8" height="5.8" fill="#ed3c1e"/><rect x="307.1" y="60.3" width="5.8" height="5.8" fill="#ec391e"/><rect x="312.5" y="60.3" width="5.8" height="5.8" fill="#ee3c1e"/><rect x="317.9" y="60.3" width="5.8" height="5.8" fill="#f2411e"/><rect x="323.3" y="60.3" width="5.8" height="5.8" fill="#f03f1e"/><rect x="328.7" y="60.3" width="5.8" height="5.8" fill="#e9351e"/><rect x="334.1" y="60.3" width="5.8" height="5.8" fill="#e6321e"/><rect x="339.5" y="60.3" width="5.8" height="5.8" fill="#f3431e"/><rect x="344.9" y="60.3" width="5.8" height="5.8" fill="#eb391e"/><rect x="350.3" y="60.3" width="5.8" height="5.8" fill="#f0401e"/><rect x="355.7" y="60.3" width="5.8" height="5.8" fill="#ffa91e"/><rect x="361.1" y="60.3" width="5.8" height="5.8" fill="#ffcd1e"/><rect x="366.5" y="60.3" width="5.8" height="5.8" fill="#ffe11e"/><rect x="371.9" y="60.3" width="5.8" height="5.8" fill="#ffdc1e"/><rect x="377.3" y="60.3" width="5.8" height="5.8" fill="#ffdd1e"/><rect x="382.7" y="60.3" width="5.8" height="5.8" fill="#ffdd1e"/><rect x="388.1" y="60.3" width="5.8" height="5.8" fill="#ffe21e"/><rect x="393.5" y="60.3" width="5.8" height="5.8" fill="#ffe21e"/><rect x="398.9" y="60.3" width="5.8" height="5.8" fill="#ffe51e"/><rect x="404.3" y="60.3" width="5.8" height="5.8" fill="#f0ed3e"/><rect x="409.7" y="60.3" width="5.8" height="5.8" fill="#a7e6a3"/><rect x="415.1" y="60.3" width="5.8" height="5.8" fill="#64d6e5"/><rect x="420.5" y="60.3" width="5.8" height="5.8" fill="#50c7f2"/><rect x="425.9" y="60.3" width="5.8" height="5.8" fill="#78dbd1"/><rect x="431.3" y="60.3" width="5.8" height="5.8" fill="#99e3b1"/><rect x="436.7" y="60.3" width="5.8" height="5.8" fill="#92e1b8"/><rect x="442.1" y="60.3" width="5.8" height="5.8" fill="#42b7f8"/><rect x="447.5" y="60.3" width="5.8" height="5.8" fill="#47bdf6"/><rect x="452.9" y="60.3" width="5.8" height="5.8" fill="#47bcf6"/><rect x="458.3" y="60.3" width="5.8" height="5.8" fill="#43b7f8"/><rect x="463.7" y="60.3" width="5.8" height="5.8" fill="#3fb2f8"/><rect x="469.1" y="60.3" width="5.8" height="5.8" fill="#42b6f8"/><rect x="474.5" y="60.3" width="5.8" height="5.8" fill="#3eadf6"/><rect x="479.9" y="60.3" width="5.8" height="5.8" fill="#3dacf6"/><rect x="485.3" y="60.3" width="9.9" height="5.8" fill="#40b3f9"/><rect x="75.3" y="65.7" width="10.8" height="5.8" fill="#3daaf5"/><rect x="85.7" y="65.7" width="5.8" height="5.8" fill="#41b5f9"/><rect x="91.1" y="65.7" width="5.8" height="5.8" fill="#42b6f8"/><rect x="96.5" y="65.7" width="5.8" height="5.8" fill="#3eaef7"/><rect x="101.9" y="65.7" width="5.8" height="5.8" fill="#45baf7"/><rect x="107.3" y="65.7" width="5.8" height="5.8" fill="#40b3f9"/><rect x="112.7" y="65.7" width="5.8" height="5.8" fill="#47bdf6"/><rect x="118.1" y="65.7" width="5.8" height="5.8" fill="#53ccf1"/><rect x="123.5" y="65.7" width="5.8" height="5.8" fill="#96e2b4"/><rect x="128.9" y="65.7" width="5.8" height="5.8" fill="#eaee4c"/><rect x="134.3" y="65.7" width="5.8" height="5.8" fill="#ffe81e"/><rect x="139.7" y="65.7" width="5.8" height="5.8" fill="#ffe21e"/><rect x="145.1" y="65.7" width="5.8" height="5.8" fill="#ffd51e"/><rect x="150.5" y="65.7" width="5.8" height="5.8" fill="#ffdf1e"/><rect x="155.9" y="65.7" width="5.8" height="5.8" fill="#ffd41e"/><rect x="161.3" y="65.7" width="5.8" height="5.8" fill="#ffd11e"/><rect x="166.7" y="65.7" width="5.8" height="5.8" fill="#ffd41e"/><rect x="172.1" y="65.7" width="5.8" height="5.8" fill="#ffd21e"/><rect x="177.5" y="65.7" width="5.8" height="5.8" fill="#ffda1e"/><rect x="182.9" y="65.7" width="5.8" height="5.8" fill="#ffce1e"/><rect x="188.3" y="65.7" width="5.8" height="5.8" fill="#ffd51e"/><rect x="193.7" y="65.7" width="5.8" height="5.8" fill="#ffca1e"/><rect x="199.1" y="65.7" width="5.8" height="5.8" fill="#ffb31e"/><rect x="204.5" y="65.7" width="5.8" height="5.8" fill="#ff9d1e"/><rect x="209.9" y="65.7" width="5.8" height="5.8" fill="#ee3d1e"/><rect x="215.3" y="65.7" width="5.8" height="5.8" fill="#b9181d"/><rect x="220.7" y="65.7" width="5.8" height="5.8" fill="#b2171d"/><rect x="226.1" y="65.7" width="5.8" height="5.8" fill="#a9151c"/><rect x="231.5" y="65.7" width="5.8" height="5.8" fill="#a5141c"/><rect x="236.9" y="65.7" width="5.8" height="5.8" fill="#ae161c"/><rect x="242.3" y="65.7" width="5.8" height="5.8" fill="#a5141c"/><rect x="247.7" y="65.7" width="5.8" height="5.8" fill="#f4441e"/><rect x="253.1" y="65.7" width="5.8" height="5.8" fill="#ffb01e"/><rect x="258.5" y="65.7" width="5.8" height="5.8" fill="#ffc71e"/><rect x="263.9" y="65.7" width="5.8" height="5.8" fill="#ffc01e"/><rect x="269.3" y="65.7" width="5.8" height="5.8" fill="#f8591e"/><rect x="274.7" y="65.7" width="5.8" height="5.8" fill="#e5301e"/><rect x="280.1" y="65.7" width="5.8" height="5.8" fill="#ca1b1d"/><rect x="285.5" y="65.7" width="5.8" height="5.8" fill="#c41a1d"/><rect x="290.9" y="65.7" width="5.8" height="5.8" fill="#c91b1d"/><rect x="296.3" y="65.7" width="5.8" height="5.8" fill="#d01d1e"/><rect x="301.7" y="65.7" width="5.8" height="5.8" fill="#cc1c1e"/><rect x="307.1" y="65.7" width="5.8" height="5.8" fill="#cd1c1e"/><rect x="312.5" y="65.7" width="5.8" height="5.8" fill="#b9181d"/><rect x="317.9" y="65.7" width="5.8" height="5.8" fill="#c0191d"/><rect x="323.3" y="65.7" width="5.8" height="5.8" fill="#ba181d"/><rect x="328.7" y="65.7" width="5.8" height="5.8" fill="#cd1c1e"/><rect x="334.1" y="65.7" width="5.8" height="5.8" fill="#bd191d"/><rect x="339.5" y="65.7" width="5.8" height="5.8" fill="#ce1c1e"/><rect x="344.9" y="65.7" width="5.8" height="5.8" fill="#c41a1d"/><rect x="350.3" y="65.7" width="5.8" height="5.8" fill="#d31d1e"/><rect x="355.7" y="65.7" width="5.8" height="5.8" fill="#fc751e"/><rect x="361.1" y="65.7" width="5.8" height="5.8" fill="#ffbc1e"/><rect x="366.5" y="65.7" width="5.8" height="5.8" fill="#ffd31e"/><rect x="371.9" y="65.7" width="5.8" height="5.8" fill="#ffd51e"/><rect x="377.3" y="65.7" width="5.8" height="5.8" fill="#ffd11e"/><rect x="382.7" y="65.7" width="5.8" height="5.8" fill="#ffdd1e"/><rect x="388.1" y="65.7" width="5.8" height="5.8" fill="#ffd11e"/><rect x="393.5" y="65.7" width="5.8" height="5.8" fill="#ffd81e"/><rect x="398.9" y="65.7" width="5.8" height="5.8" fill="#ffe11e"/><rect x="404.3" y="65.7" width="5.8" height="5.8" fill="#f9ec2a"/><rect x="409.7" y="65.7" width="5.8" height="5.8" fill="#9ee4ac"/><rect x="415.1" y="65.7" width="5.8" height="5.8" fill="#8be0bf"/><rect x="420.5" y="65.7" width="5.8" height="5.8" fill="#52caf1"/><rect x="425.9" y="65.7" width="5.8" height="5.8" fill="#97e3b3"/><rect x="431.3" y="65.7" width="5.8" height="5.8" fill="#ace79c"/><rect x="436.7" y="65.7" width="5.8" height="5.8" fill="#9be4af"/><rect x="442.1" y="65.7" width="5.8" height="5.8" fill="#42b6f8"/><rect x="447.5" y="65.7" width="5.8" height="5.8" fill="#47bdf6"/><rect x="452.9" y="65.7" width="5.8" height="5.8" fill="#3fb2f8"/><rect x="458.3" y="65.7" width="5.8" height="5.8" fill="#47bcf6"/><rect x="463.7" y="65.7" width="5.8" height="5.8" fill="#40b4f9"/><rect x="469.1" y="65.7" width="5.8" height="5.8" fill="#44b8f8"/><rect x="474.5" y="65.7" width="5.8" height="5.8" fill="#46bcf6"/><rect x="479.9" y="65.7" width="5.8" height="5.8" fill="#42b6f8"/><rect x="485.3" y="65.7" width="9.9" height="5.8" fill="#42b6f8"/><rect x="75.3" y="71.1" width="10.8" height="5.8" fill="#3fb0f8"/><rect x="85.7" y="71.1" width="5.8" height="5.8" fill="#3da9f5"/><rect x="91.1" y="71.1" width="5.8" height="5.8" fill="#3dacf6"/><rect x="96.5" y="71.1" width="5.8" height="5.8" fill="#3fb1f8"/><rect x="101.9" y="71.1" width="5.8" height="5.8" fill="#44b9f7"/><rect x="107.3" y="71.1" width="5.8" height="5.8" fill="#43b8f8"/><rect x="112.7" y="71.1" width="5.8" height="5.8" fill="#45baf7"/><rect x="118.1" y="71.1" width="5.8" height="5.8" fill="#53ccf1"/><rect x="123.5" y="71.1" width="5.8" height="5.8" fill="#72dad7"/><rect x="128.9" y="71.1" width="5.8" height="5.8" fill="#e2ed58"/><rect x="134.3" y="71.1" width="5.8" height="5.8" fill="#fdec22"/><rect x="139.7" y="71.1" width="5.8" height="5.8" fill="#fbec26"/><rect x="145.1" y="71.1" width="5.8" height="5.8" fill="#ffec1e"/><rect x="150.5" y="71.1" width="5.8" height="5.8" fill="#ffe51e"/><rect x="155.9" y="71.1" width="5.8" height="5.8" fill="#ffe81e"/><rect x="161.3" y="71.1" width="5.8" height="5.8" fill="#ffe41e"/><rect x="166.7" y="71.1" width="5.8" height="5.8" fill="#ffe51e"/><rect x="172.1" y="71.1" width="5.8" height="5.8" fill="#ffdf1e"/><rect x="177.5" y="71.1" width="5.8" height="5.8" fill="#ffde1e"/><rect x="182.9" y="71.1" width="5.8" height="5.8" fill="#ffe31e"/><rect x="188.3" y="71.1" width="5.8" height="5.8" fill="#ffdc1e"/><rect x="193.7" y="71.1" width="5.8" height="5.8" fill="#ffdb1e"/><rect x="199.1" y="71.1" width="5.8" height="5.8" fill="#ffd71e"/><rect x="204.5" y="71.1" width="5.8" height="5.8" fill="#ffad1e"/><rect x="209.9" y="71.1" width="5.8" height="5.8" fill="#ff8c1e"/><rect x="215.3" y="71.1" width="5.8" height="5.8" fill="#f64a1e"/><rect x="220.7" y="71.1" width="5.8" height="5.8" fill="#eb381e"/><rect x="226.1" y="71.1" width="5.8" height="5.8" fill="#e22c1e"/><rect x="231.5" y="71.1" width="5.8" height="5.8" fill="#de281e"/><rect x="236.9" y="71.1" width="5.8" height="5.8" fill="#df291e"/><rect x="242.3" y="71.1" width="5.8" height="5.8" fill="#e7331e"/><rect x="247.7" y="71.1" width="5.8" height="5.8" fill="#fe871e"/><rect x="253.1" y="71.1" width="5.8" height="5.8" fill="#ffd61e"/><rect x="258.5" y="71.1" width="5.8" height="5.8" fill="#ffce1e"/><rect x="263.9" y="71.1" width="5.8" height="5.8" fill="#ffd11e"/><rect x="269.3" y="71.1" width="5.8" height="5.8" fill="#ffa21e"/><rect x="274.7" y="71.1" width="5.8" height="5.8" fill="#f85e1e"/><rect x="280.1" y="71.1" width="5.8" height="5.8" fill="#f3431e"/><rect x="285.5" y="71.1" width="5.8" height="5.8" fill="#eb391e"/><rect x="290.9" y="71.1" width="5.8" height="5.8" fill="#ee3d1e"/><rect x="296.3" y="71.1" width="5.8" height="5.8" fill="#f5471e"/><rect x="301.7" y="71.1" width="5.8" height="5.8" fill="#ec3a1e"/><rect x="307.1" y="71.1" width="5.8" height="5.8" fill="#f64e1e"/><rect x="312.5" y="71.1" width="5.8" height="5.8" fill="#f1411e"/><rect x="317.9" y="71.1" width="5.8" height="5.8" fill="#f3441e"/><rect x="323.3" y="71.1" width="5.8" height="5.8" fill="#f5481e"/><rect x="328.7" y="71.1" width="5.8" height="5.8" fill="#f64e1e"/><rect x="334.1" y="71.1" width="5.8" height="5.8" fill="#ee3c1e"/><rect x="339.5" y="71.1" width="5.8" height="5.8" fill="#f6501e"/><rect x="344.9" y="71.1" width="5.8" height="5.8" fill="#f1411e"/><rect x="350.3" y="71.1" width="5.8" height="5.8" fill="#f3441e"/><rect x="355.7" y="71.1" width="5.8" height="5.8" fill="#ffae1e"/><rect x="361.1" y="71.1" width="5.8" height="5.8" fill="#ffd91e"/><rect x="366.5" y="71.1" width="5.8" height="5.8" fill="#ffdc1e"/><rect x="371.9" y="71.1" width="5.8" height="5.8" fill="#ffdf1e"/><rect x="377.3" y="71.1" width="5.8" height="5.8" fill="#ffde1e"/><rect x="382.7" y="71.1" width="5.8" height="5.8" fill="#ffdd1e"/><rect x="388.1" y="71.1" width="5.8" height="5.8" fill="#ffe71e"/><rect x="393.5" y="71.1" width="5.8" height="5.8" fill="#ffe51e"/><rect x="398.9" y="71.1" width="5.8" height="5.8" fill="#ffeb1e"/><rect x="404.3" y="71.1" width="5.8" height="5.8" fill="#eaee4b"/><rect x="409.7" y="71.1" width="5.8" height="5.8" fill="#afe798"/><rect x="415.1" y="71.1" width="5.8" height="5.8" fill="#73dad6"/><rect x="420.5" y="71.1" width="5.8" height="5.8" fill="#52caf1"/><rect x="425.9" y="71.1" width="5.8" height="5.8" fill="#73dad5"/><rect x="431.3" y="71.1" width="5.8" height="5.8" fill="#a1e5a9"/><rect x="436.7" y="71.1" width="5.8" height="5.8" fill="#9ce4ae"/><rect x="442.1" y="71.1" width="5.8" height="5.8" fill="#44b9f7"/><rect x="447.5" y="71.1" width="5.8" height="5.8" fill="#47bcf6"/><rect x="452.9" y="71.1" width="5.8" height="5.8" fill="#43b8f8"/><rect x="458.3" y="71.1" width="5.8" height="5.8" fill="#40b4f9"/><rect x="463.7" y="71.1" width="5.8" height="5.8" fill="#3fb0f8"/><rect x="469.1" y="71.1" width="5.8" height="5.8" fill="#3fb2f8"/><rect x="474.5" y="71.1" width="5.8" height="5.8" fill="#3dabf6"/><rect x="479.9" y="71.1" width="5.8" height="5.8" fill="#3fb1f8"/><rect x="485.3" y="71.1" width="9.9" height="5.8" fill="#43b7f8"/><rect x="75.3" y="76.5" width="10.8" height="5.8" fill="#42b7f8"/><rect x="85.7" y="76.5" width="5.8" height="5.8" fill="#44b9f7"/><rect x="91.1" y="76.5" width="5.8" height="5.8" fill="#43b7f8"/><rect x="96.5" y="76.5" width="5.8" height="5.8" fill="#3fb0f7"/><rect x="101.9" y="76.5" width="5.8" height="5.8" fill="#42b6f8"/><rect x="107.3" y="76.5" width="5.8" height="5.8" fill="#41b5f9"/><rect x="112.7" y="76.5" width="5.8" height="5.8" fill="#44b9f7"/><rect x="118.1" y="76.5" width="5.8" height="5.8" fill="#45baf7"/><rect x="123.5" y="76.5" width="5.8" height="5.8" fill="#45bbf7"/><rect x="128.9" y="76.5" width="5.8" height="5.8" fill="#49bff5"/><rect x="134.3" y="76.5" width="5.8" height="5.8" fill="#62d6e6"/><rect x="139.7" y="76.5" width="5.8" height="5.8" fill="#55cef0"/><rect x="145.1" y="76.5" width="5.8" height="5.8" fill="#6bd8dd"/><rect x="150.5" y="76.5" width="5.8" height="5.8" fill="#55cef0"/><rect x="155.9" y="76.5" width="5.8" height="5.8" fill="#57d1ef"/><rect x="161.3" y="76.5" width="5.8" height="5.8" fill="#57d1ef"/><rect x="166.7" y="76.5" width="5.8" height="5.8" fill="#69d8e0"/><rect x="172.1" y="76.5" width="5.8" height="5.8" fill="#75dad4"/><rect x="177.5" y="76.5" width="5.8" height="5.8" fill="#6bd8de"/><rect x="182.9" y="76.5" width="5.8" height="5.8" fill="#59d3ee"/><rect x="188.3" y="76.5" width="5.8" height="5.8" fill="#73dad5"/><rect x="193.7" y="76.5" width="5.8" height="5.8" fill="#5bd4ee"/><rect x="199.1" y="76.5" width="5.8" height="5.8" fill="#65d7e3"/><rect x="204.5" y="76.5" width="5.8" height="5.8" fill="#a5e6a5"/><rect x="209.9" y="76.5" width="5.8" height="5.8" fill="#c1e982"/><rect x="215.3" y="76.5" width="5.8" height="5.8" fill="#ebee4a"/><rect x="220.7" y="76.5" width="5.8" height="5.8" fill="#efed41"/><rect x="226.1" y="76.5" width="5.8" height="5.8" fill="#f3ed38"/><rect x="231.5" y="76.5" width="5.8" height="5.8" fill="#edee46"/><rect x="236.9" y="76.5" width="5.8" height="5.8" fill="#f1ed3c"/><rect x="242.3" y="76.5" width="5.8" height="5.8" fill="#efed41"/><rect x="247.7" y="76.5" width="5.8" height="5.8" fill="#d0eb6f"/><rect x="253.1" y="76.5" width="5.8" height="5.8" fill="#74dad5"/><rect x="258.5" y="76.5" width="5.8" height="5.8" fill="#82dec7"/><rect x="263.9" y="76.5" width="5.8" height="5.8" fill="#77dbd2"/><rect x="269.3" y="76.5" width="5.8" height="5.8" fill="#9be4ae"/><rect x="274.7" y="76.5" width="5.8" height="5.8" fill="#c0e983"/><rect x="280.1" y="76.5" width="5.8" height="5.8" fill="#eaee4d"/><rect x="285.5" y="76.5" width="5.8" height="5.8" fill="#d1eb6d"/><rect x="290.9" y="76.5" width="5.8" height="5.8" fill="#edee45"/><rect x="296.3" y="76.5" width="5.8" height="5.8" fill="#d5ec68"/><rect x="301.7" y="76.5" width="5.8" height="5.8" fill="#cfeb70"/><rect x="307.1" y="76.5" width="5.8" height="5.8" fill="#d3eb6b"/><rect x="312.5" y="76.5" width="5.8" height="5.8" fill="#edee45"/><rect x="317.9" y="76.5" width="5.8" height="5.8" fill="#e0ed5a"/><rect x="323.3" y="76.5" width="5.8" height="5.8" fill="#d5ec68"/><rect x="328.7" y="76.5" width="5.8" height="5.8" fill="#cfeb70"/><rect x="334.1" y="76.5" width="5.8" height="5.8" fill="#d0eb6f"/><rect x="339.5" y="76.5" width="5.8" height="5.8" fill="#eaee4b"/><rect x="344.9" y="76.5" width="5.8" height="5.8" fill="#eaee4c"/><rect x="350.3" y="76.5" width="5.8" height="5.8" fill="#e6ee53"/><rect x="355.7" y="76.5" width="5.8" height="5.8" fill="#aee79a"/><rect x="361.1" y="76.5" width="5.8" height="5.8" fill="#59d3ee"/><rect x="366.5" y="76.5" width="5.8" height="5.8" fill="#65d7e4"/><rect x="371.9" y="76.5" width="5.8" height="5.8" fill="#59d3ee"/><rect x="377.3" y="76.5" width="5.8" height="5.8" fill="#6ed9db"/><rect x="382.7" y="76.5" width="5.8" height="5.8" fill="#6dd8dc"/><rect x="388.1" y="76.5" width="5.8" height="5.8" fill="#70d9d9"/><rect x="393.5" y="76.5" width="5.8" height="5.8" fill="#55cef0"/><rect x="398.9" y="76.5" width="5.8" height="5.8" fill="#66d7e2"/><rect x="404.3" y="76.5" width="5.8" height="5.8" fill="#58d1ef"/><rect x="409.7" y="76.5" width="5.8" height="5.8" fill="#51c9f2"/><rect x="415.1" y="76.5" width="5.8" height="5.8" fill="#45baf7"/><rect x="420.5" y="76.5" width="5.8" height="5.8" fill="#42b7f8"/><rect x="425.9" y="76.5" width="5.8" height="5.8" fill="#48bdf6"/><rect x="431.3" y="76.5" width="5.8" height="5.8" fill="#47bcf6"/><rect x="436.7" y="76.5" width="5.8" height="5.8" fill="#4fc7f3"/><rect x="442.1" y="76.5" width="5.8" height="5.8" fill="#45baf7"/><rect x="447.5" y="76.5" width="5.8" height="5.8" fill="#43b7f8"/><rect x="452.9" y="76.5" width="5.8" height="5.8" fill="#45baf7"/><rect x="458.3" y="76.5" width="5.8" height="5.8" fill="#42b7f8"/><rect x="463.7" y="76.5" width="5.8" height="5.8" fill="#3fb0f8"/><rect x="469.1" y="76.5" width="5.8" height="5.8" fill="#3daaf6"/><rect x="474.5" y="76.5" width="5.8" height="5.8" fill="#3daaf6"/><rect x="479.9" y="76.5" width="5.8" height="5.8" fill="#43b8f8"/><rect x="485.3" y="76.5" width="9.9" height="5.8" fill="#3dacf6"/><rect x="75.3" y="81.9" width="10.8" height="5.8" fill="#274cc9"/><rect x="85.7" y="81.9" width="5.8" height="5.8" fill="#274ecb"/><rect x="91.1" y="81.9" width="5.8" height="5.8" fill="#2745c5"/><rect x="96.5" y="81.9" width="5.8" height="5.8" fill="#274ac8"/><rect x="101.9" y="81.9" width="5.8" height="5.8" fill="#274bc9"/><rect x="107.3" y="81.9" width="5.8" height="5.8" fill="#2855d0"/><rect x="112.7" y="81.9" width="5.8" height="5.8" fill="#274dca"/><rect x="118.1" y="81.9" width="5.8" height="5.8" fill="#274cc9"/><rect x="123.5" y="81.9" width="5.8" height="5.8" fill="#45baf7"/><rect x="128.9" y="81.9" width="5.8" height="5.8" fill="#40b4f9"/><rect x="134.3" y="81.9" width="5.8" height="5.8" fill="#44b9f7"/><rect x="139.7" y="81.9" width="5.8" height="5.8" fill="#41b6f8"/><rect x="145.1" y="81.9" width="5.8" height="5.8" fill="#3ca7f5"/><rect x="150.5" y="81.9" width="5.8" height="5.8" fill="#3fb2f8"/><rect x="155.9" y="81.9" width="5.8" height="5.8" fill="#40b3f9"/><rect x="161.3" y="81.9" width="5.8" height="5.8" fill="#43b8f8"/><rect x="166.7" y="81.9" width="5.8" height="5.8" fill="#3fb0f8"/><rect x="172.1" y="81.9" width="5.8" height="5.8" fill="#42b7f8"/><rect x="177.5" y="81.9" width="5.8" height="5.8" fill="#41b5f9"/><rect x="182.9" y="81.9" width="5.8" height="5.8" fill="#3eadf6"/><rect x="188.3" y="81.9" width="5.8" height="5.8" fill="#44b9f7"/><rect x="193.7" y="81.9" width="5.8" height="5.8" fill="#3daaf5"/><rect x="199.1" y="81.9" width="5.8" height="5.8" fill="#45baf7"/><rect x="204.5" y="81.9" width="5.8" height="5.8" fill="#3fb2f8"/><rect x="209.9" y="81.9" width="5.8" height="5.8" fill="#40b3f9"/><rect x="215.3" y="81.9" width="5.8" height="5.8" fill="#44b9f7"/><rect x="220.7" y="81.9" width="5.8" height="5.8" fill="#4bc1f5"/><rect x="226.1" y="81.9" width="5.8" height="5.8" fill="#4dc4f4"/><rect x="231.5" y="81.9" width="5.8" height="5.8" fill="#43b7f8"/><rect x="236.9" y="81.9" width="5.8" height="5.8" fill="#48bdf6"/><rect x="242.3" y="81.9" width="5.8" height="5.8" fill="#48bdf6"/><rect x="247.7" y="81.9" width="5.8" height="5.8" fill="#48bef6"/><rect x="253.1" y="81.9" width="5.8" height="5.8" fill="#3eaff7"/><rect x="258.5" y="81.9" width="5.8" height="5.8" fill="#41b5f8"/><rect x="263.9" y="81.9" width="5.8" height="5.8" fill="#40b3f9"/><rect x="269.3" y="81.9" width="5.8" height="5.8" fill="#47bdf6"/><rect x="274.7" y="81.9" width="5.8" height="5.8" fill="#43b8f8"/><rect x="280.1" y="81.9" width="5.8" height="5.8" fill="#4cc2f4"/><rect x="285.5" y="81.9" width="5.8" height="5.8" fill="#45baf7"/><rect x="290.9" y="81.9" width="5.8" height="5.8" fill="#44b9f7"/><rect x="296.3" y="81.9" width="5.8" height="5.8" fill="#49bff5"/><rect x="301.7" y="81.9" width="5.8" height="5.8" fill="#47bdf6"/><rect x="307.1" y="81.9" width="5.8" height="5.8" fill="#43b8f8"/><rect x="312.5" y="81.9" width="5.8" height="5.8" fill="#48bef5"/><rect x="317.9" y="81.9" width="5.8" height="5.8" fill="#43b7f8"/><rect x="323.3" y="81.9" width="5.8" height="5.8" fill="#4ac0f5"/><rect x="328.7" y="81.9" width="5.8" height="5.8" fill="#49bff5"/><rect x="334.1" y="81.9" width="5.8" height="5.8" fill="#4ac0f5"/><rect x="339.5" y="81.9" width="5.8" height="5.8" fill="#48bef5"/><rect x="344.9" y="81.9" width="5.8" height="5.8" fill="#46bbf7"/><rect x="350.3" y="81.9" width="5.8" height="5.8" fill="#45bbf7"/><rect x="355.7" y="81.9" width="5.8" height="5.8" fill="#42b7f8"/><rect x="361.1" y="81.9" width="5.8" height="5.8" fill="#45baf7"/><rect x="366.5" y="81.9" width="5.8" height="5.8" fill="#3da9f5"/><rect x="371.9" y="81.9" width="5.8" height="5.8" fill="#44b9f7"/><rect x="377.3" y="81.9" width="5.8" height="5.8" fill="#3ca7f5"/><rect x="382.7" y="81.9" width="5.8" height="5.8" fill="#3eacf6"/><rect x="388.1" y="81.9" width="5.8" height="5.8" fill="#3eaef7"/><rect x="393.5" y="81.9" width="5.8" height="5.8" fill="#44b9f7"/><rect x="398.9" y="81.9" width="5.8" height="5.8" fill="#40b4f9"/><rect x="404.3" y="81.9" width="5.8" height="5.8" fill="#3fb1f8"/><rect x="409.7" y="81.9" width="5.8" height="5.8" fill="#44b9f7"/><rect x="415.1" y="81.9" width="5.8" height="5.8" fill="#3eadf7"/><rect x="420.5" y="81.9" width="5.8" height="5.8" fill="#40b3f9"/><rect x="425.9" y="81.9" width="5.8" height="5.8" fill="#40b5f9"/><rect x="431.3" y="81.9" width="5.8" height="5.8" fill="#43b7f8"/><rect x="436.7" y="81.9" width="5.8" height="5.8" fill="#43b7f8"/><rect x="442.1" y="81.9" width="5.8" height="5.8" fill="#42b6f8"/><rect x="447.5" y="81.9" width="5.8" height="5.8" fill="#274cca"/><rect x="452.9" y="81.9" width="5.8" height="5.8" fill="#274cca"/><rect x="458.3" y="81.9" width="5.8" height="5.8" fill="#2748c7"/><rect x="463.7" y="81.9" width="5.8" height="5.8" fill="#2858d2"/><rect x="469.1" y="81.9" width="5.8" height="5.8" fill="#2854cf"/><rect x="474.5" y="81.9" width="5.8" height="5.8" fill="#2856d0"/><rect x="479.9" y="81.9" width="5.8" height="5.8" fill="#2748c7"/><rect x="485.3" y="81.9" width="9.9" height="5.8" fill="#274fcb"/><rect x="75.3" y="87.3" width="10.8" height="5.8" fill="#361c91"/><rect x="85.7" y="87.3" width="5.8" height="5.8" fill="#371b90"/><rect x="91.1" y="87.3" width="5.8" height="5.8" fill="#3a1a8c"/><rect x="96.5" y="87.3" width="5.8" height="5.8" fill="#381b8f"/><rect x="101.9" y="87.3" width="5.8" height="5.8" fill="#351c92"/><rect x="107.3" y="87.3" width="5.8" height="5.8" fill="#274ac8"/><rect x="112.7" y="87.3" width="5.8" height="5.8" fill="#2749c7"/><rect x="118.1" y="87.3" width="5.8" height="5.8" fill="#274bc9"/><rect x="123.5" y="87.3" width="5.8" height="5.8" fill="#2855d0"/><rect x="128.9" y="87.3" width="5.8" height="5.8" fill="#2858d2"/><rect x="134.3" y="87.3" width="5.8" height="5.8" fill="#2748c7"/><rect x="139.7" y="87.3" width="5.8" height="5.8" fill="#2748c7"/><rect x="145.1" y="87.3" width="5.8" height="5.8" fill="#274ac8"/><rect x="150.5" y="87.3" width="5.8" height="5.8" fill="#274cca"/><rect x="155.9" y="87.3" width="5.8" height="5.8" fill="#2851cd"/><rect x="161.3" y="87.3" width="5.8" height="5.8" fill="#2748c7"/><rect x="166.7" y="87.3" width="5.8" height="5.8" fill="#274cca"/><rect x="172.1" y="87.3" width="5.8" height="5.8" fill="#2749c7"/><rect x="177.5" y="87.3" width="5.8" height="5.8" fill="#285bd4"/><rect x="182.9" y="87.3" width="5.8" height="5.8" fill="#2855d0"/><rect x="188.3" y="87.3" width="5.8" height="5.8" fill="#2746c6"/><rect x="193.7" y="87.3" width="5.8" height="5.8" fill="#285bd4"/><rect x="199.1" y="87.3" width="5.8" height="5.8" fill="#2746c6"/><rect x="204.5" y="87.3" width="5.8" height="5.8" fill="#274dca"/><rect x="209.9" y="87.3" width="5.8" height="5.8" fill="#285cd4"/><rect x="215.3" y="87.3" width="5.8" height="5.8" fill="#2857d1"/><rect x="220.7" y="87.3" width="5.8" height="5.8" fill="#2856d0"/><rect x="226.1" y="87.3" width="5.8" height="5.8" fill="#274ecb"/><rect x="231.5" y="87.3" width="5.8" height="5.8" fill="#2749c7"/><rect x="236.9" y="87.3" width="5.8" height="5.8" fill="#2853cf"/><rect x="242.3" y="87.3" width="5.8" height="5.8" fill="#2747c6"/><rect x="247.7" y="87.3" width="5.8" height="5.8" fill="#2749c8"/><rect x="253.1" y="87.3" width="5.8" height="5.8" fill="#274dcb"/><rect x="258.5" y="87.3" width="5.8" height="5.8" fill="#2745c5"/><rect x="263.9" y="87.3" width="5.8" height="5.8" fill="#274ecb"/><rect x="269.3" y="87.3" width="5.8" height="5.8" fill="#2857d1"/><rect x="274.7" y="87.3" width="5.8" height="5.8" fill="#2855d0"/><rect x="280.1" y="87.3" width="5.8" height="5.8" fill="#2850cc"/><rect x="285.5" y="87.3" width="5.8" height="5.8" fill="#2853cf"/><rect x="290.9" y="87.3" width="5.8" height="5.8" fill="#274fcc"/><rect x="296.3" y="87.3" width="5.8" height="5.8" fill="#2747c6"/><rect x="301.7" y="87.3" width="5.8" height="5.8" fill="#2852ce"/><rect x="307.1" y="87.3" width="5.8" height="5.8" fill="#274ecb"/><rect x="312.5" y="87.3" width="5.8" height="5.8" fill="#2856d0"/><rect x="317.9" y="87.3" width="5.8" height="5.8" fill="#285ad3"/><rect x="323.3" y="87.3" width="5.8" height="5.8" fill="#274ecb"/><rect x="328.7" y="87.3" width="5.8" height="5.8" fill="#2852ce"/><rect x="334.1" y="87.3" width="5.8" height="5.8" fill="#2856d0"/><rect x="339.5" y="87.3" width="5.8" height="5.8" fill="#274ecb"/><rect x="344.9" y="87.3" width="5.8" height="5.8" fill="#2749c8"/><rect x="350.3" y="87.3" width="5.8" height="5.8" fill="#2855d0"/><rect x="355.7" y="87.3" width="5.8" height="5.8" fill="#2859d3"/><rect x="361.1" y="87.3" width="5.8" height="5.8" fill="#2857d1"/><rect x="366.5" y="87.3" width="5.8" height="5.8" fill="#2855d0"/><rect x="371.9" y="87.3" width="5.8" height="5.8" fill="#2858d2"/><rect x="377.3" y="87.3" width="5.8" height="5.8" fill="#2854cf"/><rect x="382.7" y="87.3" width="5.8" height="5.8" fill="#2853cf"/><rect x="388.1" y="87.3" width="5.8" height="5.8" fill="#274fcc"/><rect x="393.5" y="87.3" width="5.8" height="5.8" fill="#274cc9"/><rect x="398.9" y="87.3" width="5.8" height="5.8" fill="#2853ce"/><rect x="404.3" y="87.3" width="5.8" height="5.8" fill="#2746c6"/><rect x="409.7" y="87.3" width="5.8" height="5.8" fill="#274ecb"/><rect x="415.1" y="87.3" width="5.8" height="5.8" fill="#2857d1"/><rect x="420.5" y="87.3" width="5.8" height="5.8" fill="#2855d0"/><rect x="425.9" y="87.3" width="5.8" height="5.8" fill="#2853cf"/><rect x="431.3" y="87.3" width="5.8" height="5.8" fill="#274ac8"/><rect x="436.7" y="87.3" width="5.8" height="5.8" fill="#274ecb"/><rect x="442.1" y="87.3" width="5.8" height="5.8" fill="#274fcc"/><rect x="447.5" y="87.3" width="5.8" height="5.8" fill="#2853ce"/><rect x="452.9" y="87.3" width="5.8" height="5.8" fill="#381b8e"/><rect x="458.3" y="87.3" width="5.8" height="5.8" fill="#361b90"/><rect x="463.7" y="87.3" width="5.8" height="5.8" fill="#351c92"/><rect x="469.1" y="87.3" width="5.8" height="5.8" fill="#3a1a8c"/><rect x="474.5" y="87.3" width="5.8" height="5.8" fill="#361b90"/><rect x="479.9" y="87.3" width="5.8" height="5.8" fill="#361c91"/><rect x="485.3" y="87.3" width="9.9" height="5.8" fill="#381b8e"/><rect x="75.3" y="92.7" width="10.8" height="5.8" fill="#381b8f"/><rect x="85.7" y="92.7" width="5.8" height="5.8" fill="#341c93"/><rect x="91.1" y="92.7" width="5.8" height="5.8" fill="#3a1a8c"/><rect x="96.5" y="92.7" width="5.8" height="5.8" fill="#371b8f"/><rect x="101.9" y="92.7" width="5.8" height="5.8" fill="#3a1a8c"/><rect x="107.3" y="92.7" width="5.8" height="5.8" fill="#361c91"/><rect x="112.7" y="92.7" width="5.8" height="5.8" fill="#351c93"/><rect x="118.1" y="92.7" width="5.8" height="5.8" fill="#371b8f"/><rect x="123.5" y="92.7" width="5.8" height="5.8" fill="#3a1a8c"/><rect x="128.9" y="92.7" width="5.8" height="5.8" fill="#371b90"/><rect x="134.3" y="92.7" width="5.8" height="5.8" fill="#371b8f"/><rect x="139.7" y="92.7" width="5.8" height="5.8" fill="#361c91"/><rect x="145.1" y="92.7" width="5.8" height="5.8" fill="#371b8f"/><rect x="150.5" y="92.7" width="5.8" height="5.8" fill="#371b90"/><rect x="155.9" y="92.7" width="5.8" height="5.8" fill="#351c92"/><rect x="161.3" y="92.7" width="5.8" height="5.8" fill="#371b8f"/><rect x="166.7" y="92.7" width="5.8" height="5.8" fill="#381b8e"/><rect x="172.1" y="92.7" width="5.8" height="5.8" fill="#351c93"/><rect x="177.5" y="92.7" width="5.8" height="5.8" fill="#391a8d"/><rect x="182.9" y="92.7" width="5.8" height="5.8" fill="#361b90"/><rect x="188.3" y="92.7" width="5.8" height="5.8" fill="#381b8e"/><rect x="193.7" y="92.7" width="5.8" height="5.8" fill="#361c91"/><rect x="199.1" y="92.7" width="5.8" height="5.8" fill="#3a1a8c"/><rect x="204.5" y="92.7" width="5.8" height="5.8" fill="#341c93"/><rect x="209.9" y="92.7" width="5.8" height="5.8" fill="#381b8e"/><rect x="215.3" y="92.7" width="5.8" height="5.8" fill="#3a1a8c"/><rect x="220.7" y="92.7" width="5.8" height="5.8" fill="#391a8d"/><rect x="226.1" y="92.7" width="5.8" height="5.8" fill="#381b8e"/><rect x="231.5" y="92.7" width="5.8" height="5.8" fill="#3a1a8c"/><rect x="236.9" y="92.7" width="5.8" height="5.8" fill="#381b8e"/><rect x="242.3" y="92.7" width="5.8" height="5.8" fill="#381b8e"/><rect x="247.7" y="92.7" width="5.8" height="5.8" fill="#361c91"/><rect x="253.1" y="92.7" width="5.8" height="5.8" fill="#381b8e"/><rect x="258.5" y="92.7" width="5.8" height="5.8" fill="#391a8d"/><rect x="263.9" y="92.7" width="5.8" height="5.8" fill="#391a8d"/><rect x="269.3" y="92.7" width="5.8" height="5.8" fill="#361c91"/><rect x="274.7" y="92.7" width="5.8" height="5.8" fill="#351c93"/><rect x="280.1" y="92.7" width="5.8" height="5.8" fill="#371b8f"/><rect x="285.5" y="92.7" width="5.8" height="5.8" fill="#391a8d"/><rect x="290.9" y="92.7" width="5.8" height="5.8" fill="#351c91"/><rect x="296.3" y="92.7" width="5.8" height="5.8" fill="#381b8e"/><rect x="301.7" y="92.7" width="5.8" height="5.8" fill="#391a8d"/><rect x="307.1" y="92.7" width="5.8" height="5.8" fill="#3a1a8c"/><rect x="312.5" y="92.7" width="5.8" height="5.8" fill="#361c91"/><rect x="317.9" y="92.7" width="5.8" height="5.8" fill="#351c91"/><rect x="323.3" y="92.7" width="5.8" height="5.8" fill="#371b90"/><rect x="328.7" y="92.7" width="5.8" height="5.8" fill="#381b8f"/><rect x="334.1" y="92.7" width="5.8" height="5.8" fill="#371b8f"/><rect x="339.5" y="92.7" width="5.8" height="5.8" fill="#391a8d"/><rect x="344.9" y="92.7" width="5.8" height="5.8" fill="#341c93"/><rect x="350.3" y="92.7" width="5.8" height="5.8" fill="#381b8e"/><rect x="355.7" y="92.7" width="5.8" height="5.8" fill="#371b90"/><rect x="361.1" y="92.7" width="5.8" height="5.8" fill="#351c92"/><rect x="366.5" y="92.7" width="5.8" height="5.8" fill="#351c92"/><rect x="371.9" y="92.7" width="5.8" height="5.8" fill="#381b8f"/><rect x="377.3" y="92.7" width="5.8" height="5.8" fill="#391a8d"/><rect x="382.7" y="92.7" width="5.8" height="5.8" fill="#371b8f"/><rect x="388.1" y="92.7" width="5.8" height="5.8" fill="#3a1a8c"/><rect x="393.5" y="92.7" width="5.8" height="5.8" fill="#351c92"/><rect x="398.9" y="92.7" width="5.8" height="5.8" fill="#381b8e"/><rect x="404.3" y="92.7" width="5.8" height="5.8" fill="#351c92"/><rect x="409.7" y="92.7" width="5.8" height="5.8" fill="#391a8d"/><rect x="415.1" y="92.7" width="5.8" height="5.8" fill="#381b8e"/><rect x="420.5" y="92.7" width="5.8" height="5.8" fill="#391a8d"/><rect x="425.9" y="92.7" width="5.8" height="5.8" fill="#381b8e"/><rect x="431.3" y="92.7" width="5.8" height="5.8" fill="#3a1a8c"/><rect x="436.7" y="92.7" width="5.8" height="5.8" fill="#3a1a8c"/><rect x="442.1" y="92.7" width="5.8" height="5.8" fill="#361c91"/><rect x="447.5" y="92.7" width="5.8" height="5.8" fill="#391a8d"/><rect x="452.9" y="92.7" width="5.8" height="5.8" fill="#391a8d"/><rect x="458.3" y="92.7" width="5.8" height="5.8" fill="#391a8d"/><rect x="463.7" y="92.7" width="5.8" height="5.8" fill="#381b8f"/><rect x="469.1" y="92.7" width="5.8" height="5.8" fill="#381b8e"/><rect x="474.5" y="92.7" width="5.8" height="5.8" fill="#371b90"/><rect x="479.9" y="92.7" width="5.8" height="5.8" fill="#361b90"/><rect x="485.3" y="92.7" width="9.9" height="5.8" fill="#381b8e"/><rect x="75.3" y="98.1" width="10.8" height="5.8" fill="#351c92"/><rect x="85.7" y="98.1" width="5.8" height="5.8" fill="#351c92"/><rect x="91.1" y="98.1" width="5.8" height="5.8" fill="#3a1a8c"/><rect x="96.5" y="98.1" width="5.8" height="5.8" fill="#351c92"/><rect x="101.9" y="98.1" width="5.8" height="5.8" fill="#351c92"/><rect x="107.3" y="98.1" width="5.8" height="5.8" fill="#361c91"/><rect x="112.7" y="98.1" width="5.8" height="5.8" fill="#3a1a8c"/><rect x="118.1" y="98.1" width="5.8" height="5.8" fill="#351c92"/><rect x="123.5" y="98.1" width="5.8" height="5.8" fill="#371b90"/><rect x="128.9" y="98.1" width="5.8" height="5.8" fill="#3a1a8c"/><rect x="134.3" y="98.1" width="5.8" height="5.8" fill="#3a1a8c"/><rect x="139.7" y="98.1" width="5.8" height="5.8" fill="#341c93"/><rect x="145.1" y="98.1" width="5.8" height="5.8" fill="#361b90"/><rect x="150.5" y="98.1" width="5.8" height="5.8" fill="#391a8d"/><rect x="155.9" y="98.1" width="5.8" height="5.8" fill="#3a1a8c"/><rect x="161.3" y="98.1" width="5.8" height="5.8" fill="#3a1a8c"/><rect x="166.7" y="98.1" width="5.8" height="5.8" fill="#391a8d"/><rect x="172.1" y="98.1" width="5.8" height="5.8" fill="#361c91"/><rect x="177.5" y="98.1" width="5.8" height="5.8" fill="#391b8e"/><rect x="182.9" y="98.1" width="5.8" height="5.8" fill="#3a1a8c"/><rect x="188.3" y="98.1" width="5.8" height="5.8" fill="#351c92"/><rect x="193.7" y="98.1" width="5.8" height="5.8" fill="#361c91"/><rect x="199.1" y="98.1" width="5.8" height="5.8" fill="#3a1a8c"/><rect x="204.5" y="98.1" width="5.8" height="5.8" fill="#351c92"/><rect x="209.9" y="98.1" width="5.8" height="5.8" fill="#371b90"/><rect x="215.3" y="98.1" width="5.8" height="5.8" fill="#361c91"/><rect x="220.7" y="98.1" width="5.8" height="5.8" fill="#361b90"/><rect x="226.1" y="98.1" width="5.8" height="5.8" fill="#351c92"/><rect x="231.5" y="98.1" width="5.8" height="5.8" fill="#361c91"/><rect x="236.9" y="98.1" width="5.8" height="5.8" fill="#351c92"/><rect x="242.3" y="98.1" width="5.8" height="5.8" fill="#3a1a8d"/><rect x="247.7" y="98.1" width="5.8" height="5.8" fill="#361c91"/><rect x="253.1" y="98.1" width="5.8" height="5.8" fill="#371b8f"/><rect x="258.5" y="98.1" width="5.8" height="5.8" fill="#361c91"/><rect x="263.9" y="98.1" width="5.8" height="5.8" fill="#381b8f"/><rect x="269.3" y="98.1" width="5.8" height="5.8" fill="#351c92"/><rect x="274.7" y="98.1" width="5.8" height="5.8" fill="#371b8f"/><rect x="280.1" y="98.1" width="5.8" height="5.8" fill="#391a8d"/><rect x="285.5" y="98.1" width="5.8" height="5.8" fill="#391a8d"/><rect x="290.9" y="98.1" width="5.8" height="5.8" fill="#3a1a8c"/><rect x="296.3" y="98.1" width="5.8" height="5.8" fill="#381b8f"/><rect x="301.7" y="98.1" width="5.8" height="5.8" fill="#3a1a8c"/><rect x="307.1" y="98.1" width="5.8" height="5.8" fill="#381b8f"/><rect x="312.5" y="98.1" width="5.8" height="5.8" fill="#3a1a8c"/><rect x="317.9" y="98.1" width="5.8" height="5.8" fill="#381b8f"/><rect x="323.3" y="98.1" width="5.8" height="5.8" fill="#381b8f"/><rect x="328.7" y="98.1" width="5.8" height="5.8" fill="#371b8f"/><rect x="334.1" y="98.1" width="5.8" height="5.8" fill="#351c92"/><rect x="339.5" y="98.1" width="5.8" height="5.8" fill="#3a1a8c"/><rect x="344.9" y="98.1" width="5.8" height="5.8" fill="#351c92"/><rect x="350.3" y="98.1" width="5.8" height="5.8" fill="#381b8f"/><rect x="355.7" y="98.1" width="5.8" height="5.8" fill="#371b90"/><rect x="361.1" y="98.1" width="5.8" height="5.8" fill="#361b90"/><rect x="366.5" y="98.1" width="5.8" height="5.8" fill="#351c92"/><rect x="371.9" y="98.1" width="5.8" height="5.8" fill="#381b8e"/><rect x="377.3" y="98.1" width="5.8" height="5.8" fill="#381b8e"/><rect x="382.7" y="98.1" width="5.8" height="5.8" fill="#341c93"/><rect x="388.1" y="98.1" width="5.8" height="5.8" fill="#3a1a8c"/><rect x="393.5" y="98.1" width="5.8" height="5.8" fill="#371b90"/><rect x="398.9" y="98.1" width="5.8" height="5.8" fill="#371b90"/><rect x="404.3" y="98.1" width="5.8" height="5.8" fill="#3a1a8c"/><rect x="409.7" y="98.1" width="5.8" height="5.8" fill="#371b90"/><rect x="415.1" y="98.1" width="5.8" height="5.8" fill="#361b90"/><rect x="420.5" y="98.1" width="5.8" height="5.8" fill="#351c92"/><rect x="425.9" y="98.1" width="5.8" height="5.8" fill="#391b8e"/><rect x="431.3" y="98.1" width="5.8" height="5.8" fill="#341c93"/><rect x="436.7" y="98.1" width="5.8" height="5.8" fill="#371b8f"/><rect x="442.1" y="98.1" width="5.8" height="5.8" fill="#381b8f"/><rect x="447.5" y="98.1" width="5.8" height="5.8" fill="#351c92"/><rect x="452.9" y="98.1" width="5.8" height="5.8" fill="#3a1a8c"/><rect x="458.3" y="98.1" width="5.8" height="5.8" fill="#361c91"/><rect x="463.7" y="98.1" width="5.8" height="5.8" fill="#371b90"/><rect x="469.1" y="98.1" width="5.8" height="5.8" fill="#391b8e"/><rect x="474.5" y="98.1" width="5.8" height="5.8" fill="#351c92"/><rect x="479.9" y="98.1" width="5.8" height="5.8" fill="#381b8e"/><rect x="485.3" y="98.1" width="9.9" height="5.8" fill="#381b8f"/><rect x="75.3" y="103.5" width="10.8" height="6.5" fill="#371b8f"/><rect x="85.7" y="103.5" width="5.8" height="6.5" fill="#361c91"/><rect x="91.1" y="103.5" width="5.8" height="6.5" fill="#391a8d"/><rect x="96.5" y="103.5" width="5.8" height="6.5" fill="#381b8e"/><rect x="101.9" y="103.5" width="5.8" height="6.5" fill="#381b8e"/><rect x="107.3" y="103.5" width="5.8" height="6.5" fill="#371b8f"/><rect x="112.7" y="103.5" width="5.8" height="6.5" fill="#351c92"/><rect x="118.1" y="103.5" width="5.8" height="6.5" fill="#391a8d"/><rect x="123.5" y="103.5" width="5.8" height="6.5" fill="#351c92"/><rect x="128.9" y="103.5" width="5.8" height="6.5" fill="#381b8e"/><rect x="134.3" y="103.5" width="5.8" height="6.5" fill="#371b8f"/><rect x="139.7" y="103.5" width="5.8" height="6.5" fill="#391a8d"/><rect x="145.1" y="103.5" width="5.8" height="6.5" fill="#371b8f"/><rect x="150.5" y="103.5" width="5.8" height="6.5" fill="#341c93"/><rect x="155.9" y="103.5" width="5.8" height="6.5" fill="#361b90"/><rect x="161.3" y="103.5" width="5.8" height="6.5" fill="#361c91"/><rect x="166.7" y="103.5" width="5.8" height="6.5" fill="#391b8e"/><rect x="172.1" y="103.5" width="5.8" height="6.5" fill="#391b8e"/><rect x="177.5" y="103.5" width="5.8" height="6.5" fill="#391a8d"/><rect x="182.9" y="103.5" width="5.8" height="6.5" fill="#371b90"/><rect x="188.3" y="103.5" width="5.8" height="6.5" fill="#371b90"/><rect x="193.7" y="103.5" width="5.8" height="6.5" fill="#361c91"/><rect x="199.1" y="103.5" width="5.8" height="6.5" fill="#3a1a8c"/><rect x="204.5" y="103.5" width="5.8" height="6.5" fill="#361c91"/><rect x="209.9" y="103.5" width="5.8" height="6.5" fill="#351c92"/><rect x="215.3" y="103.5" width="5.8" height="6.5" fill="#371b8f"/><rect x="220.7" y="103.5" width="5.8" height="6.5" fill="#3a1a8c"/><rect x="226.1" y="103.5" width="5.8" height="6.5" fill="#391a8d"/><rect x="231.5" y="103.5" width="5.8" height="6.5" fill="#3a1a8c"/><rect x="236.9" y="103.5" width="5.8" height="6.5" fill="#3a1a8d"/><rect x="242.3" y="103.5" width="5.8" height="6.5" fill="#351c92"/><rect x="247.7" y="103.5" width="5.8" height="6.5" fill="#371b90"/><rect x="253.1" y="103.5" width="5.8" height="6.5" fill="#361b90"/><rect x="258.5" y="103.5" width="5.8" height="6.5" fill="#361c91"/><rect x="263.9" y="103.5" width="5.8" height="6.5" fill="#351c92"/><rect x="269.3" y="103.5" width="5.8" height="6.5" fill="#371b90"/><rect x="274.7" y="103.5" width="5.8" height="6.5" fill="#371b90"/><rect x="280.1" y="103.5" width="5.8" height="6.5" fill="#371b90"/><rect x="285.5" y="103.5" width="5.8" height="6.5" fill="#361c91"/><rect x="290.9" y="103.5" width="5.8" height="6.5" fill="#371b90"/><rect x="296.3" y="103.5" width="5.8" height="6.5" fill="#361b90"/><rect x="301.7" y="103.5" width="5.8" height="6.5" fill="#391a8d"/><rect x="307.1" y="103.5" width="5.8" height="6.5" fill="#361b90"/><rect x="312.5" y="103.5" width="5.8" height="6.5" fill="#381b8f"/><rect x="317.9" y="103.5" width="5.8" height="6.5" fill="#361c91"/><rect x="323.3" y="103.5" width="5.8" height="6.5" fill="#3a1a8c"/><rect x="328.7" y="103.5" width="5.8" height="6.5" fill="#3a1a8c"/><rect x="334.1" y="103.5" width="5.8" height="6.5" fill="#3a1a8c"/><rect x="339.5" y="103.5" width="5.8" height="6.5" fill="#361c91"/><rect x="344.9" y="103.5" width="5.8" height="6.5" fill="#351c92"/><rect x="350.3" y="103.5" width="5.8" height="6.5" fill="#361b90"/><rect x="355.7" y="103.5" width="5.8" height="6.5" fill="#381b8e"/><rect x="361.1" y="103.5" width="5.8" height="6.5" fill="#351c92"/><rect x="366.5" y="103.5" width="5.8" height="6.5" fill="#361c91"/><rect x="371.9" y="103.5" width="5.8" height="6.5" fill="#371b8f"/><rect x="377.3" y="103.5" width="5.8" height="6.5" fill="#391a8d"/><rect x="382.7" y="103.5" width="5.8" height="6.5" fill="#391a8d"/><rect x="388.1" y="103.5" width="5.8" height="6.5" fill="#381b8e"/><rect x="393.5" y="103.5" width="5.8" height="6.5" fill="#391b8e"/><rect x="398.9" y="103.5" width="5.8" height="6.5" fill="#381b8e"/><rect x="404.3" y="103.5" width="5.8" height="6.5" fill="#371b90"/><rect x="409.7" y="103.5" width="5.8" height="6.5" fill="#351c92"/><rect x="415.1" y="103.5" width="5.8" height="6.5" fill="#3a1a8c"/><rect x="420.5" y="103.5" width="5.8" height="6.5" fill="#371b90"/><rect x="425.9" y="103.5" width="5.8" height="6.5" fill="#3a1a8c"/><rect x="431.3" y="103.5" width="5.8" height="6.5" fill="#3a1a8c"/><rect x="436.7" y="103.5" width="5.8" height="6.5" fill="#351c91"/><rect x="442.1" y="103.5" width="5.8" height="6.5" fill="#371b90"/><rect x="447.5" y="103.5" width="5.8" height="6.5" fill="#351c92"/><rect x="452.9" y="103.5" width="5.8" height="6.5" fill="#381b8f"/><rect x="458.3" y="103.5" width="5.8" height="6.5" fill="#3a1a8c"/><rect x="463.7" y="103.5" width="5.8" height="6.5" fill="#381b8e"/><rect x="469.1" y="103.5" width="5.8" height="6.5" fill="#371b90"/><rect x="474.5" y="103.5" width="5.8" height="6.5" fill="#351c93"/><rect x="479.9" y="103.5" width="5.8" height="6.5" fill="#341c93"/><rect x="485.3" y="103.5" width="9.9" height="6.5" fill="#381b8f"/></g></g>
<g clip-path="url(#cc)"><g filter="url(#bl)"><rect x="75.3" y="102.8" width="10.8" height="10.4" fill="#3a1a8c"/><rect x="85.7" y="102.8" width="5.8" height="10.4" fill="#3a1a8c"/><rect x="91.1" y="102.8" width="5.8" height="10.4" fill="#391a8d"/><rect x="96.5" y="102.8" width="5.8" height="10.4" fill="#3a1a8c"/><rect x="101.9" y="102.8" width="5.8" height="10.4" fill="#3a1a8c"/><rect x="107.3" y="102.8" width="5.8" height="10.4" fill="#3a1a8c"/><rect x="112.7" y="102.8" width="5.8" height="10.4" fill="#3a1a8c"/><rect x="118.1" y="102.8" width="5.8" height="10.4" fill="#391a8d"/><rect x="123.5" y="102.8" width="5.8" height="10.4" fill="#3a1a8c"/><rect x="128.9" y="102.8" width="5.8" height="10.4" fill="#381b8e"/><rect x="134.3" y="102.8" width="5.8" height="10.4" fill="#3a1a8c"/><rect x="139.7" y="102.8" width="5.8" height="10.4" fill="#381b8e"/><rect x="145.1" y="102.8" width="5.8" height="10.4" fill="#3a1a8c"/><rect x="150.5" y="102.8" width="5.8" height="10.4" fill="#3a1a8c"/><rect x="155.9" y="102.8" width="5.8" height="10.4" fill="#391a8d"/><rect x="161.3" y="102.8" width="5.8" height="10.4" fill="#3a1a8c"/><rect x="166.7" y="102.8" width="5.8" height="10.4" fill="#381b8e"/><rect x="172.1" y="102.8" width="5.8" height="10.4" fill="#3a1a8c"/><rect x="177.5" y="102.8" width="5.8" height="10.4" fill="#3a1a8c"/><rect x="182.9" y="102.8" width="5.8" height="10.4" fill="#361c91"/><rect x="188.3" y="102.8" width="5.8" height="10.4" fill="#361c91"/><rect x="193.7" y="102.8" width="5.8" height="10.4" fill="#341c93"/><rect x="199.1" y="102.8" width="5.8" height="10.4" fill="#341c93"/><rect x="204.5" y="102.8" width="5.8" height="10.4" fill="#361c91"/><rect x="209.9" y="102.8" width="5.8" height="10.4" fill="#331d94"/><rect x="215.3" y="102.8" width="5.8" height="10.4" fill="#321d96"/><rect x="220.7" y="102.8" width="5.8" height="10.4" fill="#311d96"/><rect x="226.1" y="102.8" width="5.8" height="10.4" fill="#2e25a0"/><rect x="231.5" y="102.8" width="5.8" height="10.4" fill="#2f229d"/><rect x="236.9" y="102.8" width="5.8" height="10.4" fill="#2a32b0"/><rect x="242.3" y="102.8" width="5.8" height="10.4" fill="#2837b7"/><rect x="247.7" y="102.8" width="5.8" height="10.4" fill="#2837b8"/><rect x="253.1" y="102.8" width="5.8" height="10.4" fill="#2640c2"/><rect x="258.5" y="102.8" width="5.8" height="10.4" fill="#2853ce"/><rect x="263.9" y="102.8" width="5.8" height="10.4" fill="#285cd5"/><rect x="269.3" y="102.8" width="5.8" height="10.4" fill="#2857d1"/><rect x="274.7" y="102.8" width="5.8" height="10.4" fill="#295ed6"/><rect x="280.1" y="102.8" width="5.8" height="10.4" fill="#2967dc"/><rect x="285.5" y="102.8" width="5.8" height="10.4" fill="#2960d8"/><rect x="290.9" y="102.8" width="5.8" height="10.4" fill="#2a6adf"/><rect x="296.3" y="102.8" width="5.8" height="10.4" fill="#2965db"/><rect x="301.7" y="102.8" width="5.8" height="10.4" fill="#2960d7"/><rect x="307.1" y="102.8" width="5.8" height="10.4" fill="#2965db"/><rect x="312.5" y="102.8" width="5.8" height="10.4" fill="#2a68dd"/><rect x="317.9" y="102.8" width="5.8" height="10.4" fill="#2967dc"/><rect x="323.3" y="102.8" width="5.8" height="10.4" fill="#2a6bdf"/><rect x="328.7" y="102.8" width="5.8" height="10.4" fill="#2964da"/><rect x="334.1" y="102.8" width="5.8" height="10.4" fill="#2a6ee1"/><rect x="339.5" y="102.8" width="5.8" height="10.4" fill="#2a68dd"/><rect x="344.9" y="102.8" width="5.8" height="10.4" fill="#2967dc"/><rect x="350.3" y="102.8" width="5.8" height="10.4" fill="#2859d2"/><rect x="355.7" y="102.8" width="5.8" height="10.4" fill="#2749c7"/><rect x="361.1" y="102.8" width="5.8" height="10.4" fill="#263ec0"/><rect x="366.5" y="102.8" width="5.8" height="10.4" fill="#263dbf"/><rect x="371.9" y="102.8" width="5.8" height="10.4" fill="#273cbd"/><rect x="377.3" y="102.8" width="5.8" height="10.4" fill="#2936b6"/><rect x="382.7" y="102.8" width="5.8" height="10.4" fill="#2b30ae"/><rect x="388.1" y="102.8" width="5.8" height="10.4" fill="#2d29a5"/><rect x="393.5" y="102.8" width="5.8" height="10.4" fill="#301e98"/><rect x="398.9" y="102.8" width="5.8" height="10.4" fill="#2f229d"/><rect x="404.3" y="102.8" width="5.8" height="10.4" fill="#311d96"/><rect x="409.7" y="102.8" width="5.8" height="10.4" fill="#311d96"/><rect x="415.1" y="102.8" width="5.8" height="10.4" fill="#341c93"/><rect x="420.5" y="102.8" width="5.8" height="10.4" fill="#341c93"/><rect x="425.9" y="102.8" width="5.8" height="10.4" fill="#331d94"/><rect x="431.3" y="102.8" width="5.8" height="10.4" fill="#351c92"/><rect x="436.7" y="102.8" width="5.8" height="10.4" fill="#361b90"/><rect x="442.1" y="102.8" width="5.8" height="10.4" fill="#381b8e"/><rect x="447.5" y="102.8" width="5.8" height="10.4" fill="#381b8e"/><rect x="452.9" y="102.8" width="5.8" height="10.4" fill="#371b8f"/><rect x="458.3" y="102.8" width="5.8" height="10.4" fill="#3a1a8c"/><rect x="463.7" y="102.8" width="5.8" height="10.4" fill="#391b8e"/><rect x="469.1" y="102.8" width="5.8" height="10.4" fill="#391a8d"/><rect x="474.5" y="102.8" width="5.8" height="10.4" fill="#381b8e"/><rect x="479.9" y="102.8" width="5.8" height="10.4" fill="#391b8e"/><rect x="485.3" y="102.8" width="9.9" height="10.4" fill="#3a1a8c"/><rect x="75.3" y="112.8" width="10.8" height="5.8" fill="#3a1a8c"/><rect x="85.7" y="112.8" width="5.8" height="5.8" fill="#3a1a8c"/><rect x="91.1" y="112.8" width="5.8" height="5.8" fill="#3a1a8c"/><rect x="96.5" y="112.8" width="5.8" height="5.8" fill="#3a1a8c"/><rect x="101.9" y="112.8" width="5.8" height="5.8" fill="#391b8e"/><rect x="107.3" y="112.8" width="5.8" height="5.8" fill="#381b8e"/><rect x="112.7" y="112.8" width="5.8" height="5.8" fill="#3a1a8c"/><rect x="118.1" y="112.8" width="5.8" height="5.8" fill="#381b8e"/><rect x="123.5" y="112.8" width="5.8" height="5.8" fill="#391b8e"/><rect x="128.9" y="112.8" width="5.8" height="5.8" fill="#381b8e"/><rect x="134.3" y="112.8" width="5.8" height="5.8" fill="#391a8d"/><rect x="139.7" y="112.8" width="5.8" height="5.8" fill="#3a1a8c"/><rect x="145.1" y="112.8" width="5.8" height="5.8" fill="#381b8f"/><rect x="150.5" y="112.8" width="5.8" height="5.8" fill="#371b8f"/><rect x="155.9" y="112.8" width="5.8" height="5.8" fill="#371b90"/><rect x="161.3" y="112.8" width="5.8" height="5.8" fill="#341c93"/><rect x="166.7" y="112.8" width="5.8" height="5.8" fill="#341c93"/><rect x="172.1" y="112.8" width="5.8" height="5.8" fill="#321d95"/><rect x="177.5" y="112.8" width="5.8" height="5.8" fill="#2d26a2"/><rect x="182.9" y="112.8" width="5.8" height="5.8" fill="#2b2fae"/><rect x="188.3" y="112.8" width="5.8" height="5.8" fill="#2b2eac"/><rect x="193.7" y="112.8" width="5.8" height="5.8" fill="#273cbe"/><rect x="199.1" y="112.8" width="5.8" height="5.8" fill="#2745c5"/><rect x="204.5" y="112.8" width="5.8" height="5.8" fill="#2640c2"/><rect x="209.9" y="112.8" width="5.8" height="5.8" fill="#274bc9"/><rect x="215.3" y="112.8" width="5.8" height="5.8" fill="#2856d0"/><rect x="220.7" y="112.8" width="5.8" height="5.8" fill="#2960d8"/><rect x="226.1" y="112.8" width="5.8" height="5.8" fill="#2a6adf"/><rect x="231.5" y="112.8" width="5.8" height="5.8" fill="#2e7ae5"/><rect x="236.9" y="112.8" width="5.8" height="5.8" fill="#3693ee"/><rect x="242.3" y="112.8" width="5.8" height="5.8" fill="#3da9f5"/><rect x="247.7" y="112.8" width="5.8" height="5.8" fill="#42b6f8"/><rect x="253.1" y="112.8" width="5.8" height="5.8" fill="#46bbf7"/><rect x="258.5" y="112.8" width="5.8" height="5.8" fill="#50c8f2"/><rect x="263.9" y="112.8" width="5.8" height="5.8" fill="#55cef0"/><rect x="269.3" y="112.8" width="5.8" height="5.8" fill="#57d1ef"/><rect x="274.7" y="112.8" width="5.8" height="5.8" fill="#68d7e0"/><rect x="280.1" y="112.8" width="5.8" height="5.8" fill="#84dec5"/><rect x="285.5" y="112.8" width="5.8" height="5.8" fill="#8be0be"/><rect x="290.9" y="112.8" width="5.8" height="5.8" fill="#80ddc9"/><rect x="296.3" y="112.8" width="5.8" height="5.8" fill="#7fddca"/><rect x="301.7" y="112.8" width="5.8" height="5.8" fill="#85dec4"/><rect x="307.1" y="112.8" width="5.8" height="5.8" fill="#7adccf"/><rect x="312.5" y="112.8" width="5.8" height="5.8" fill="#7ddccc"/><rect x="317.9" y="112.8" width="5.8" height="5.8" fill="#7fddca"/><rect x="323.3" y="112.8" width="5.8" height="5.8" fill="#92e1b7"/><rect x="328.7" y="112.8" width="5.8" height="5.8" fill="#8adfc0"/><rect x="334.1" y="112.8" width="5.8" height="5.8" fill="#93e2b7"/><rect x="339.5" y="112.8" width="5.8" height="5.8" fill="#90e1ba"/><rect x="344.9" y="112.8" width="5.8" height="5.8" fill="#74dad5"/><rect x="350.3" y="112.8" width="5.8" height="5.8" fill="#50c8f2"/><rect x="355.7" y="112.8" width="5.8" height="5.8" fill="#45baf7"/><rect x="361.1" y="112.8" width="5.8" height="5.8" fill="#44b8f7"/><rect x="366.5" y="112.8" width="5.8" height="5.8" fill="#3ca7f4"/><rect x="371.9" y="112.8" width="5.8" height="5.8" fill="#399ef2"/><rect x="377.3" y="112.8" width="5.8" height="5.8" fill="#3ba3f3"/><rect x="382.7" y="112.8" width="5.8" height="5.8" fill="#3aa1f3"/><rect x="388.1" y="112.8" width="5.8" height="5.8" fill="#3592ed"/><rect x="393.5" y="112.8" width="5.8" height="5.8" fill="#2f7ee6"/><rect x="398.9" y="112.8" width="5.8" height="5.8" fill="#2963d9"/><rect x="404.3" y="112.8" width="5.8" height="5.8" fill="#2856d0"/><rect x="409.7" y="112.8" width="5.8" height="5.8" fill="#2749c7"/><rect x="415.1" y="112.8" width="5.8" height="5.8" fill="#2643c4"/><rect x="420.5" y="112.8" width="5.8" height="5.8" fill="#274ac8"/><rect x="425.9" y="112.8" width="5.8" height="5.8" fill="#2640c2"/><rect x="431.3" y="112.8" width="5.8" height="5.8" fill="#2935b5"/><rect x="436.7" y="112.8" width="5.8" height="5.8" fill="#2a30ae"/><rect x="442.1" y="112.8" width="5.8" height="5.8" fill="#2e239f"/><rect x="447.5" y="112.8" width="5.8" height="5.8" fill="#2f229d"/><rect x="452.9" y="112.8" width="5.8" height="5.8" fill="#321d95"/><rect x="458.3" y="112.8" width="5.8" height="5.8" fill="#321d95"/><rect x="463.7" y="112.8" width="5.8" height="5.8" fill="#351c92"/><rect x="469.1" y="112.8" width="5.8" height="5.8" fill="#371b90"/><rect x="474.5" y="112.8" width="5.8" height="5.8" fill="#371b8f"/><rect x="479.9" y="112.8" width="5.8" height="5.8" fill="#3a1a8c"/><rect x="485.3" y="112.8" width="9.9" height="5.8" fill="#3a1a8c"/><rect x="75.3" y="118.2" width="10.8" height="5.8" fill="#3a1a8c"/><rect x="85.7" y="118.2" width="5.8" height="5.8" fill="#3a1a8c"/><rect x="91.1" y="118.2" width="5.8" height="5.8" fill="#3a1a8c"/><rect x="96.5" y="118.2" width="5.8" height="5.8" fill="#3a1a8c"/><rect x="101.9" y="118.2" width="5.8" height="5.8" fill="#391a8d"/><rect x="107.3" y="118.2" width="5.8" height="5.8" fill="#381b8f"/><rect x="112.7" y="118.2" width="5.8" height="5.8" fill="#391a8d"/><rect x="118.1" y="118.2" width="5.8" height="5.8" fill="#371b90"/><rect x="123.5" y="118.2" width="5.8" height="5.8" fill="#371b90"/><rect x="128.9" y="118.2" width="5.8" height="5.8" fill="#3a1a8c"/><rect x="134.3" y="118.2" width="5.8" height="5.8" fill="#381b8f"/><rect x="139.7" y="118.2" width="5.8" height="5.8" fill="#381b8f"/><rect x="145.1" y="118.2" width="5.8" height="5.8" fill="#371b90"/><rect x="150.5" y="118.2" width="5.8" height="5.8" fill="#311e97"/><rect x="155.9" y="118.2" width="5.8" height="5.8" fill="#301e98"/><rect x="161.3" y="118.2" width="5.8" height="5.8" fill="#2a31b0"/><rect x="166.7" y="118.2" width="5.8" height="5.8" fill="#2747c6"/><rect x="172.1" y="118.2" width="5.8" height="5.8" fill="#2964da"/><rect x="177.5" y="118.2" width="5.8" height="5.8" fill="#2e7ae5"/><rect x="182.9" y="118.2" width="5.8" height="5.8" fill="#3080e7"/><rect x="188.3" y="118.2" width="5.8" height="5.8" fill="#338ceb"/><rect x="193.7" y="118.2" width="5.8" height="5.8" fill="#3592ed"/><rect x="199.1" y="118.2" width="5.8" height="5.8" fill="#3daaf6"/><rect x="204.5" y="118.2" width="5.8" height="5.8" fill="#40b3f9"/><rect x="209.9" y="118.2" width="5.8" height="5.8" fill="#3faff7"/><rect x="215.3" y="118.2" width="5.8" height="5.8" fill="#45baf7"/><rect x="220.7" y="118.2" width="5.8" height="5.8" fill="#51c9f2"/><rect x="226.1" y="118.2" width="5.8" height="5.8" fill="#64d6e4"/><rect x="231.5" y="118.2" width="5.8" height="5.8" fill="#a6e6a4"/><rect x="236.9" y="118.2" width="5.8" height="5.8" fill="#d4ec6a"/><rect x="242.3" y="118.2" width="5.8" height="5.8" fill="#f2ed3b"/><rect x="247.7" y="118.2" width="5.8" height="5.8" fill="#faec28"/><rect x="253.1" y="118.2" width="5.8" height="5.8" fill="#ffdf1e"/><rect x="258.5" y="118.2" width="5.8" height="5.8" fill="#ffd41e"/><rect x="263.9" y="118.2" width="5.8" height="5.8" fill="#ffc91e"/><rect x="269.3" y="118.2" width="5.8" height="5.8" fill="#ffa81e"/><rect x="274.7" y="118.2" width="5.8" height="5.8" fill="#ffa81e"/><rect x="280.1" y="118.2" width="5.8" height="5.8" fill="#ff951e"/><rect x="285.5" y="118.2" width="5.8" height="5.8" fill="#fe821e"/><rect x="290.9" y="118.2" width="5.8" height="5.8" fill="#fd7d1e"/><rect x="296.3" y="118.2" width="5.8" height="5.8" fill="#fe821e"/><rect x="301.7" y="118.2" width="5.8" height="5.8" fill="#ff891e"/><rect x="307.1" y="118.2" width="5.8" height="5.8" fill="#fd811e"/><rect x="312.5" y="118.2" width="5.8" height="5.8" fill="#fd7c1e"/><rect x="317.9" y="118.2" width="5.8" height="5.8" fill="#fe881e"/><rect x="323.3" y="118.2" width="5.8" height="5.8" fill="#fd811e"/><rect x="328.7" y="118.2" width="5.8" height="5.8" fill="#fd811e"/><rect x="334.1" y="118.2" width="5.8" height="5.8" fill="#fe821e"/><rect x="339.5" y="118.2" width="5.8" height="5.8" fill="#fc791e"/><rect x="344.9" y="118.2" width="5.8" height="5.8" fill="#ffa11e"/><rect x="350.3" y="118.2" width="5.8" height="5.8" fill="#ffd31e"/><rect x="355.7" y="118.2" width="5.8" height="5.8" fill="#ffeb1e"/><rect x="361.1" y="118.2" width="5.8" height="5.8" fill="#f7ed30"/><rect x="366.5" y="118.2" width="5.8" height="5.8" fill="#eaee4c"/><rect x="371.9" y="118.2" width="5.8" height="5.8" fill="#eeed43"/><rect x="377.3" y="118.2" width="5.8" height="5.8" fill="#e9ee4e"/><rect x="382.7" y="118.2" width="5.8" height="5.8" fill="#e1ed59"/><rect x="388.1" y="118.2" width="5.8" height="5.8" fill="#ecee48"/><rect x="393.5" y="118.2" width="5.8" height="5.8" fill="#80ddc9"/><rect x="398.9" y="118.2" width="5.8" height="5.8" fill="#55cdf0"/><rect x="404.3" y="118.2" width="5.8" height="5.8" fill="#48bef6"/><rect x="409.7" y="118.2" width="5.8" height="5.8" fill="#44b9f7"/><rect x="415.1" y="118.2" width="5.8" height="5.8" fill="#3ca7f5"/><rect x="420.5" y="118.2" width="5.8" height="5.8" fill="#3aa0f2"/><rect x="425.9" y="118.2" width="5.8" height="5.8" fill="#348eec"/><rect x="431.3" y="118.2" width="5.8" height="5.8" fill="#3590ed"/><rect x="436.7" y="118.2" width="5.8" height="5.8" fill="#3082e8"/><rect x="442.1" y="118.2" width="5.8" height="5.8" fill="#2a6bdf"/><rect x="447.5" y="118.2" width="5.8" height="5.8" fill="#2857d2"/><rect x="452.9" y="118.2" width="5.8" height="5.8" fill="#2745c5"/><rect x="458.3" y="118.2" width="5.8" height="5.8" fill="#273cbd"/><rect x="463.7" y="118.2" width="5.8" height="5.8" fill="#2d27a3"/><rect x="469.1" y="118.2" width="5.8" height="5.8" fill="#331d95"/><rect x="474.5" y="118.2" width="5.8" height="5.8" fill="#391a8d"/><rect x="479.9" y="118.2" width="5.8" height="5.8" fill="#3a1a8c"/><rect x="485.3" y="118.2" width="9.9" height="5.8" fill="#3a1a8c"/><rect x="75.3" y="123.6" width="10.8" height="5.8" fill="#391a8d"/><rect x="85.7" y="123.6" width="5.8" height="5.8" fill="#391a8d"/><rect x="91.1" y="123.6" width="5.8" height="5.8" fill="#3a1a8c"/><rect x="96.5" y="123.6" width="5.8" height="5.8" fill="#371b8f"/><rect x="101.9" y="123.6" width="5.8" height="5.8" fill="#3a1a8d"/><rect x="107.3" y="123.6" width="5.8" height="5.8" fill="#391b8e"/><rect x="112.7" y="123.6" width="5.8" height="5.8" fill="#391a8d"/><rect x="118.1" y="123.6" width="5.8" height="5.8" fill="#391b8e"/><rect x="123.5" y="123.6" width="5.8" height="5.8" fill="#361c91"/><rect x="128.9" y="123.6" width="5.8" height="5.8" fill="#381b8f"/><rect x="134.3" y="123.6" width="5.8" height="5.8" fill="#381b8e"/><rect x="139.7" y="123.6" width="5.8" height="5.8" fill="#351c92"/><rect x="145.1" y="123.6" width="5.8" height="5.8" fill="#321d96"/><rect x="150.5" y="123.6" width="5.8" height="5.8" fill="#2c2aa7"/><rect x="155.9" y="123.6" width="5.8" height="5.8" fill="#2934b3"/><rect x="161.3" y="123.6" width="5.8" height="5.8" fill="#2859d2"/><rect x="166.7" y="123.6" width="5.8" height="5.8" fill="#2a6bdf"/><rect x="172.1" y="123.6" width="5.8" height="5.8" fill="#399ef2"/><rect x="177.5" y="123.6" width="5.8" height="5.8" fill="#44b9f7"/><rect x="182.9" y="123.6" width="5.8" height="5.8" fill="#45baf7"/><rect x="188.3" y="123.6" width="5.8" height="5.8" fill="#4ac0f5"/><rect x="193.7" y="123.6" width="5.8" height="5.8" fill="#4cc3f4"/><rect x="199.1" y="123.6" width="5.8" height="5.8" fill="#50c7f2"/><rect x="204.5" y="123.6" width="5.8" height="5.8" fill="#53cbf1"/><rect x="209.9" y="123.6" width="5.8" height="5.8" fill="#58d1ef"/><rect x="215.3" y="123.6" width="5.8" height="5.8" fill="#92e1b7"/><rect x="220.7" y="123.6" width="5.8" height="5.8" fill="#d5ec68"/><rect x="226.1" y="123.6" width="5.8" height="5.8" fill="#f2ed3a"/><rect x="231.5" y="123.6" width="5.8" height="5.8" fill="#faec29"/><rect x="236.9" y="123.6" width="5.8" height="5.8" fill="#ffe01e"/><rect x="242.3" y="123.6" width="5.8" height="5.8" fill="#ffbf1e"/><rect x="247.7" y="123.6" width="5.8" height="5.8" fill="#ffa01e"/><rect x="253.1" y="123.6" width="5.8" height="5.8" fill="#fb6d1e"/><rect x="258.5" y="123.6" width="5.8" height="5.8" fill="#f64f1e"/><rect x="263.9" y="123.6" width="5.8" height="5.8" fill="#e12b1e"/><rect x="269.3" y="123.6" width="5.8" height="5.8" fill="#d71f1e"/><rect x="274.7" y="123.6" width="5.8" height="5.8" fill="#ba181d"/><rect x="280.1" y="123.6" width="5.8" height="5.8" fill="#ae161c"/><rect x="285.5" y="123.6" width="5.8" height="5.8" fill="#ab151c"/><rect x="290.9" y="123.6" width="5.8" height="5.8" fill="#ad161c"/><rect x="296.3" y="123.6" width="5.8" height="5.8" fill="#a5141c"/><rect x="301.7" y="123.6" width="5.8" height="5.8" fill="#a5141c"/><rect x="307.1" y="123.6" width="5.8" height="5.8" fill="#aa151c"/><rect x="312.5" y="123.6" width="5.8" height="5.8" fill="#a6141c"/><rect x="317.9" y="123.6" width="5.8" height="5.8" fill="#a5141c"/><rect x="323.3" y="123.6" width="5.8" height="5.8" fill="#a9151c"/><rect x="328.7" y="123.6" width="5.8" height="5.8" fill="#a5141c"/><rect x="334.1" y="123.6" width="5.8" height="5.8" fill="#ab151c"/><rect x="339.5" y="123.6" width="5.8" height="5.8" fill="#aa151c"/><rect x="344.9" y="123.6" width="5.8" height="5.8" fill="#c41a1d"/><rect x="350.3" y="123.6" width="5.8" height="5.8" fill="#f5461e"/><rect x="355.7" y="123.6" width="5.8" height="5.8" fill="#ff981e"/><rect x="361.1" y="123.6" width="5.8" height="5.8" fill="#ffc71e"/><rect x="366.5" y="123.6" width="5.8" height="5.8" fill="#ffd41e"/><rect x="371.9" y="123.6" width="5.8" height="5.8" fill="#ffd31e"/><rect x="377.3" y="123.6" width="5.8" height="5.8" fill="#ffd71e"/><rect x="382.7" y="123.6" width="5.8" height="5.8" fill="#ffdc1e"/><rect x="388.1" y="123.6" width="5.8" height="5.8" fill="#ffe01e"/><rect x="393.5" y="123.6" width="5.8" height="5.8" fill="#f1ed3d"/><rect x="398.9" y="123.6" width="5.8" height="5.8" fill="#a7e6a2"/><rect x="404.3" y="123.6" width="5.8" height="5.8" fill="#5dd5eb"/><rect x="409.7" y="123.6" width="5.8" height="5.8" fill="#54cdf0"/><rect x="415.1" y="123.6" width="5.8" height="5.8" fill="#4dc4f4"/><rect x="420.5" y="123.6" width="5.8" height="5.8" fill="#47bdf6"/><rect x="425.9" y="123.6" width="5.8" height="5.8" fill="#46bcf6"/><rect x="431.3" y="123.6" width="5.8" height="5.8" fill="#3fb2f8"/><rect x="436.7" y="123.6" width="5.8" height="5.8" fill="#3daaf5"/><rect x="442.1" y="123.6" width="5.8" height="5.8" fill="#3287ea"/><rect x="447.5" y="123.6" width="5.8" height="5.8" fill="#2e7ce6"/><rect x="452.9" y="123.6" width="5.8" height="5.8" fill="#295ed6"/><rect x="458.3" y="123.6" width="5.8" height="5.8" fill="#2851cd"/><rect x="463.7" y="123.6" width="5.8" height="5.8" fill="#273abb"/><rect x="469.1" y="123.6" width="5.8" height="5.8" fill="#311e97"/><rect x="474.5" y="123.6" width="5.8" height="5.8" fill="#391a8d"/><rect x="479.9" y="123.6" width="5.8" height="5.8" fill="#371b90"/><rect x="485.3" y="123.6" width="9.9" height="5.8" fill="#3a1a8d"/><rect x="75.3" y="129.0" width="10.8" height="5.8" fill="#381b8e"/><rect x="85.7" y="129.0" width="5.8" height="5.8" fill="#3a1a8c"/><rect x="91.1" y="129.0" width="5.8" height="5.8" fill="#3a1a8c"/><rect x="96.5" y="129.0" width="5.8" height="5.8" fill="#381b8e"/><rect x="101.9" y="129.0" width="5.8" height="5.8" fill="#3a1a8c"/><rect x="107.3" y="129.0" width="5.8" height="5.8" fill="#3a1a8c"/><rect x="112.7" y="129.0" width="5.8" height="5.8" fill="#391a8d"/><rect x="118.1" y="129.0" width="5.8" height="5.8" fill="#381b8e"/><rect x="123.5" y="129.0" width="5.8" height="5.8" fill="#3a1a8c"/><rect x="128.9" y="129.0" width="5.8" height="5.8" fill="#381b8e"/><rect x="134.3" y="129.0" width="5.8" height="5.8" fill="#381b8e"/><rect x="139.7" y="129.0" width="5.8" height="5.8" fill="#371b90"/><rect x="145.1" y="129.0" width="5.8" height="5.8" fill="#361c91"/><rect x="150.5" y="129.0" width="5.8" height="5.8" fill="#311e97"/><rect x="155.9" y="129.0" width="5.8" height="5.8" fill="#2c2aa6"/><rect x="161.3" y="129.0" width="5.8" height="5.8" fill="#273bbc"/><rect x="166.7" y="129.0" width="5.8" height="5.8" fill="#274bc9"/><rect x="172.1" y="129.0" width="5.8" height="5.8" fill="#2a6ade"/><rect x="177.5" y="129.0" width="5.8" height="5.8" fill="#3081e8"/><rect x="182.9" y="129.0" width="5.8" height="5.8" fill="#3592ed"/><rect x="188.3" y="129.0" width="5.8" height="5.8" fill="#3591ed"/><rect x="193.7" y="129.0" width="5.8" height="5.8" fill="#3da9f5"/><rect x="199.1" y="129.0" width="5.8" height="5.8" fill="#40b4f9"/><rect x="204.5" y="129.0" width="5.8" height="5.8" fill="#41b5f9"/><rect x="209.9" y="129.0" width="5.8" height="5.8" fill="#44b9f7"/><rect x="215.3" y="129.0" width="5.8" height="5.8" fill="#4cc2f4"/><rect x="220.7" y="129.0" width="5.8" height="5.8" fill="#57d0ef"/><rect x="226.1" y="129.0" width="5.8" height="5.8" fill="#70d9d9"/><rect x="231.5" y="129.0" width="5.8" height="5.8" fill="#bee985"/><rect x="236.9" y="129.0" width="5.8" height="5.8" fill="#d5ec68"/><rect x="242.3" y="129.0" width="5.8" height="5.8" fill="#f2ed39"/><rect x="247.7" y="129.0" width="5.8" height="5.8" fill="#ffea1e"/><rect x="253.1" y="129.0" width="5.8" height="5.8" fill="#ffdd1e"/><rect x="258.5" y="129.0" width="5.8" height="5.8" fill="#ffcd1e"/><rect x="263.9" y="129.0" width="5.8" height="5.8" fill="#ffc81e"/><rect x="269.3" y="129.0" width="5.8" height="5.8" fill="#ffab1e"/><rect x="274.7" y="129.0" width="5.8" height="5.8" fill="#ff8f1e"/><rect x="280.1" y="129.0" width="5.8" height="5.8" fill="#fe871e"/><rect x="285.5" y="129.0" width="5.8" height="5.8" fill="#fe841e"/><rect x="290.9" y="129.0" width="5.8" height="5.8" fill="#fc781e"/><rect x="296.3" y="129.0" width="5.8" height="5.8" fill="#fc791e"/><rect x="301.7" y="129.0" width="5.8" height="5.8" fill="#fd7c1e"/><rect x="307.1" y="129.0" width="5.8" height="5.8" fill="#fc7a1e"/><rect x="312.5" y="129.0" width="5.8" height="5.8" fill="#fe881e"/><rect x="317.9" y="129.0" width="5.8" height="5.8" fill="#fc7a1e"/><rect x="323.3" y="129.0" width="5.8" height="5.8" fill="#fd7f1e"/><rect x="328.7" y="129.0" width="5.8" height="5.8" fill="#ff8e1e"/><rect x="334.1" y="129.0" width="5.8" height="5.8" fill="#ff8e1e"/><rect x="339.5" y="129.0" width="5.8" height="5.8" fill="#ff891e"/><rect x="344.9" y="129.0" width="5.8" height="5.8" fill="#ffaa1e"/><rect x="350.3" y="129.0" width="5.8" height="5.8" fill="#ffdb1e"/><rect x="355.7" y="129.0" width="5.8" height="5.8" fill="#f9ed2c"/><rect x="361.1" y="129.0" width="5.8" height="5.8" fill="#edee44"/><rect x="366.5" y="129.0" width="5.8" height="5.8" fill="#d2eb6c"/><rect x="371.9" y="129.0" width="5.8" height="5.8" fill="#d8ec65"/><rect x="377.3" y="129.0" width="5.8" height="5.8" fill="#d7ec65"/><rect x="382.7" y="129.0" width="5.8" height="5.8" fill="#b7e88e"/><rect x="388.1" y="129.0" width="5.8" height="5.8" fill="#bbe989"/><rect x="393.5" y="129.0" width="5.8" height="5.8" fill="#63d6e5"/><rect x="398.9" y="129.0" width="5.8" height="5.8" fill="#48bef6"/><rect x="404.3" y="129.0" width="5.8" height="5.8" fill="#40b4f9"/><rect x="409.7" y="129.0" width="5.8" height="5.8" fill="#3daaf6"/><rect x="415.1" y="129.0" width="5.8" height="5.8" fill="#3696ef"/><rect x="420.5" y="129.0" width="5.8" height="5.8" fill="#338aea"/><rect x="425.9" y="129.0" width="5.8" height="5.8" fill="#3184e8"/><rect x="431.3" y="129.0" width="5.8" height="5.8" fill="#2b72e2"/><rect x="436.7" y="129.0" width="5.8" height="5.8" fill="#2964da"/><rect x="442.1" y="129.0" width="5.8" height="5.8" fill="#295cd5"/><rect x="447.5" y="129.0" width="5.8" height="5.8" fill="#274ac8"/><rect x="452.9" y="129.0" width="5.8" height="5.8" fill="#2935b5"/><rect x="458.3" y="129.0" width="5.8" height="5.8" fill="#2d27a4"/><rect x="463.7" y="129.0" width="5.8" height="5.8" fill="#311e97"/><rect x="469.1" y="129.0" width="5.8" height="5.8" fill="#351c92"/><rect x="474.5" y="129.0" width="5.8" height="5.8" fill="#361b90"/><rect x="479.9" y="129.0" width="5.8" height="5.8" fill="#381b8f"/><rect x="485.3" y="129.0" width="9.9" height="5.8" fill="#381b8e"/><rect x="75.3" y="134.4" width="10.8" height="5.8" fill="#391b8e"/><rect x="85.7" y="134.4" width="5.8" height="5.8" fill="#391b8e"/><rect x="91.1" y="134.4" width="5.8" height="5.8" fill="#3a1a8c"/><rect x="96.5" y="134.4" width="5.8" height="5.8" fill="#3a1a8c"/><rect x="101.9" y="134.4" width="5.8" height="5.8" fill="#381b8e"/><rect x="107.3" y="134.4" width="5.8" height="5.8" fill="#381b8e"/><rect x="112.7" y="134.4" width="5.8" height="5.8" fill="#3a1a8c"/><rect x="118.1" y="134.4" width="5.8" height="5.8" fill="#3a1a8c"/><rect x="123.5" y="134.4" width="5.8" height="5.8" fill="#391a8d"/><rect x="128.9" y="134.4" width="5.8" height="5.8" fill="#3a1a8c"/><rect x="134.3" y="134.4" width="5.8" height="5.8" fill="#391a8d"/><rect x="139.7" y="134.4" width="5.8" height="5.8" fill="#3a1a8c"/><rect x="145.1" y="134.4" width="5.8" height="5.8" fill="#391a8d"/><rect x="150.5" y="134.4" width="5.8" height="5.8" fill="#381b8f"/><rect x="155.9" y="134.4" width="5.8" height="5.8" fill="#391b8e"/><rect x="161.3" y="134.4" width="5.8" height="5.8" fill="#361b90"/><rect x="166.7" y="134.4" width="5.8" height="5.8" fill="#301e98"/><rect x="172.1" y="134.4" width="5.8" height="5.8" fill="#2e25a0"/><rect x="177.5" y="134.4" width="5.8" height="5.8" fill="#2a32b1"/><rect x="182.9" y="134.4" width="5.8" height="5.8" fill="#2934b4"/><rect x="188.3" y="134.4" width="5.8" height="5.8" fill="#263dbf"/><rect x="193.7" y="134.4" width="5.8" height="5.8" fill="#2746c6"/><rect x="199.1" y="134.4" width="5.8" height="5.8" fill="#274dca"/><rect x="204.5" y="134.4" width="5.8" height="5.8" fill="#2746c5"/><rect x="209.9" y="134.4" width="5.8" height="5.8" fill="#2854cf"/><rect x="215.3" y="134.4" width="5.8" height="5.8" fill="#2859d2"/><rect x="220.7" y="134.4" width="5.8" height="5.8" fill="#2a6de0"/><rect x="226.1" y="134.4" width="5.8" height="5.8" fill="#2d77e4"/><rect x="231.5" y="134.4" width="5.8" height="5.8" fill="#338beb"/><rect x="236.9" y="134.4" width="5.8" height="5.8" fill="#3aa1f3"/><rect x="242.3" y="134.4" width="5.8" height="5.8" fill="#3fb2f8"/><rect x="247.7" y="134.4" width="5.8" height="5.8" fill="#45baf7"/><rect x="253.1" y="134.4" width="5.8" height="5.8" fill="#4dc4f4"/><rect x="258.5" y="134.4" width="5.8" height="5.8" fill="#52caf1"/><rect x="263.9" y="134.4" width="5.8" height="5.8" fill="#5cd5ec"/><rect x="269.3" y="134.4" width="5.8" height="5.8" fill="#63d6e5"/><rect x="274.7" y="134.4" width="5.8" height="5.8" fill="#74dad4"/><rect x="280.1" y="134.4" width="5.8" height="5.8" fill="#90e1b9"/><rect x="285.5" y="134.4" width="5.8" height="5.8" fill="#85dec5"/><rect x="290.9" y="134.4" width="5.8" height="5.8" fill="#93e2b6"/><rect x="296.3" y="134.4" width="5.8" height="5.8" fill="#9ee4ab"/><rect x="301.7" y="134.4" width="5.8" height="5.8" fill="#8ee0bc"/><rect x="307.1" y="134.4" width="5.8" height="5.8" fill="#83dec6"/><rect x="312.5" y="134.4" width="5.8" height="5.8" fill="#87dfc2"/><rect x="317.9" y="134.4" width="5.8" height="5.8" fill="#87dfc2"/><rect x="323.3" y="134.4" width="5.8" height="5.8" fill="#78dbd1"/><rect x="328.7" y="134.4" width="5.8" height="5.8" fill="#75dad4"/><rect x="334.1" y="134.4" width="5.8" height="5.8" fill="#73dad6"/><rect x="339.5" y="134.4" width="5.8" height="5.8" fill="#76dbd3"/><rect x="344.9" y="134.4" width="5.8" height="5.8" fill="#59d3ee"/><rect x="350.3" y="134.4" width="5.8" height="5.8" fill="#4cc2f4"/><rect x="355.7" y="134.4" width="5.8" height="5.8" fill="#41b5f9"/><rect x="361.1" y="134.4" width="5.8" height="5.8" fill="#399ff2"/><rect x="366.5" y="134.4" width="5.8" height="5.8" fill="#3799f0"/><rect x="371.9" y="134.4" width="5.8" height="5.8" fill="#3798ef"/><rect x="377.3" y="134.4" width="5.8" height="5.8" fill="#348eec"/><rect x="382.7" y="134.4" width="5.8" height="5.8" fill="#3287e9"/><rect x="388.1" y="134.4" width="5.8" height="5.8" fill="#3082e8"/><rect x="393.5" y="134.4" width="5.8" height="5.8" fill="#2962d9"/><rect x="398.9" y="134.4" width="5.8" height="5.8" fill="#2856d0"/><rect x="404.3" y="134.4" width="5.8" height="5.8" fill="#2744c4"/><rect x="409.7" y="134.4" width="5.8" height="5.8" fill="#263fc1"/><rect x="415.1" y="134.4" width="5.8" height="5.8" fill="#273bbc"/><rect x="420.5" y="134.4" width="5.8" height="5.8" fill="#2933b2"/><rect x="425.9" y="134.4" width="5.8" height="5.8" fill="#2c2aa7"/><rect x="431.3" y="134.4" width="5.8" height="5.8" fill="#2e239f"/><rect x="436.7" y="134.4" width="5.8" height="5.8" fill="#301e98"/><rect x="442.1" y="134.4" width="5.8" height="5.8" fill="#311e97"/><rect x="447.5" y="134.4" width="5.8" height="5.8" fill="#341d94"/><rect x="452.9" y="134.4" width="5.8" height="5.8" fill="#351c92"/><rect x="458.3" y="134.4" width="5.8" height="5.8" fill="#381b8e"/><rect x="463.7" y="134.4" width="5.8" height="5.8" fill="#381b8e"/><rect x="469.1" y="134.4" width="5.8" height="5.8" fill="#371b8f"/><rect x="474.5" y="134.4" width="5.8" height="5.8" fill="#3a1a8c"/><rect x="479.9" y="134.4" width="5.8" height="5.8" fill="#3a1a8d"/><rect x="485.3" y="134.4" width="9.9" height="5.8" fill="#3a1a8c"/><rect x="75.3" y="139.8" width="10.8" height="5.8" fill="#3a1a8c"/><rect x="85.7" y="139.8" width="5.8" height="5.8" fill="#381b8e"/><rect x="91.1" y="139.8" width="5.8" height="5.8" fill="#3a1a8c"/><rect x="96.5" y="139.8" width="5.8" height="5.8" fill="#391a8d"/><rect x="101.9" y="139.8" width="5.8" height="5.8" fill="#3a1a8c"/><rect x="107.3" y="139.8" width="5.8" height="5.8" fill="#3a1a8c"/><rect x="112.7" y="139.8" width="5.8" height="5.8" fill="#391b8e"/><rect x="118.1" y="139.8" width="5.8" height="5.8" fill="#3a1a8c"/><rect x="123.5" y="139.8" width="5.8" height="5.8" fill="#3a1a8c"/><rect x="128.9" y="139.8" width="5.8" height="5.8" fill="#3a1a8c"/><rect x="134.3" y="139.8" width="5.8" height="5.8" fill="#3a1a8c"/><rect x="139.7" y="139.8" width="5.8" height="5.8" fill="#391a8d"/><rect x="145.1" y="139.8" width="5.8" height="5.8" fill="#3a1a8c"/><rect x="150.5" y="139.8" width="5.8" height="5.8" fill="#3a1a8c"/><rect x="155.9" y="139.8" width="5.8" height="5.8" fill="#381b8f"/><rect x="161.3" y="139.8" width="5.8" height="5.8" fill="#381b8e"/><rect x="166.7" y="139.8" width="5.8" height="5.8" fill="#3a1a8c"/><rect x="172.1" y="139.8" width="5.8" height="5.8" fill="#391a8d"/><rect x="177.5" y="139.8" width="5.8" height="5.8" fill="#381b8f"/><rect x="182.9" y="139.8" width="5.8" height="5.8" fill="#361c91"/><rect x="188.3" y="139.8" width="5.8" height="5.8" fill="#351c92"/><rect x="193.7" y="139.8" width="5.8" height="5.8" fill="#331d94"/><rect x="199.1" y="139.8" width="5.8" height="5.8" fill="#321d95"/><rect x="204.5" y="139.8" width="5.8" height="5.8" fill="#331d94"/><rect x="209.9" y="139.8" width="5.8" height="5.8" fill="#321d96"/><rect x="215.3" y="139.8" width="5.8" height="5.8" fill="#301e97"/><rect x="220.7" y="139.8" width="5.8" height="5.8" fill="#2f229c"/><rect x="226.1" y="139.8" width="5.8" height="5.8" fill="#2e239e"/><rect x="231.5" y="139.8" width="5.8" height="5.8" fill="#2b2dab"/><rect x="236.9" y="139.8" width="5.8" height="5.8" fill="#2933b2"/><rect x="242.3" y="139.8" width="5.8" height="5.8" fill="#263fc0"/><rect x="247.7" y="139.8" width="5.8" height="5.8" fill="#263ec0"/><rect x="253.1" y="139.8" width="5.8" height="5.8" fill="#2852ce"/><rect x="258.5" y="139.8" width="5.8" height="5.8" fill="#274fcc"/><rect x="263.9" y="139.8" width="5.8" height="5.8" fill="#2961d8"/><rect x="269.3" y="139.8" width="5.8" height="5.8" fill="#2964da"/><rect x="274.7" y="139.8" width="5.8" height="5.8" fill="#2966db"/><rect x="280.1" y="139.8" width="5.8" height="5.8" fill="#2b70e2"/><rect x="285.5" y="139.8" width="5.8" height="5.8" fill="#2a6bdf"/><rect x="290.9" y="139.8" width="5.8" height="5.8" fill="#2a68dd"/><rect x="296.3" y="139.8" width="5.8" height="5.8" fill="#2a6ee1"/><rect x="301.7" y="139.8" width="5.8" height="5.8" fill="#2a6ee1"/><rect x="307.1" y="139.8" width="5.8" height="5.8" fill="#2a6ade"/><rect x="312.5" y="139.8" width="5.8" height="5.8" fill="#2966db"/><rect x="317.9" y="139.8" width="5.8" height="5.8" fill="#2966dc"/><rect x="323.3" y="139.8" width="5.8" height="5.8" fill="#2966db"/><rect x="328.7" y="139.8" width="5.8" height="5.8" fill="#2a69de"/><rect x="334.1" y="139.8" width="5.8" height="5.8" fill="#2962d9"/><rect x="339.5" y="139.8" width="5.8" height="5.8" fill="#2963d9"/><rect x="344.9" y="139.8" width="5.8" height="5.8" fill="#295fd6"/><rect x="350.3" y="139.8" width="5.8" height="5.8" fill="#274ecb"/><rect x="355.7" y="139.8" width="5.8" height="5.8" fill="#2640c2"/><rect x="361.1" y="139.8" width="5.8" height="5.8" fill="#263dbf"/><rect x="366.5" y="139.8" width="5.8" height="5.8" fill="#2837b7"/><rect x="371.9" y="139.8" width="5.8" height="5.8" fill="#2b2eac"/><rect x="377.3" y="139.8" width="5.8" height="5.8" fill="#2c2aa6"/><rect x="382.7" y="139.8" width="5.8" height="5.8" fill="#2f229d"/><rect x="388.1" y="139.8" width="5.8" height="5.8" fill="#2f209a"/><rect x="393.5" y="139.8" width="5.8" height="5.8" fill="#321d95"/><rect x="398.9" y="139.8" width="5.8" height="5.8" fill="#321d95"/><rect x="404.3" y="139.8" width="5.8" height="5.8" fill="#341d94"/><rect x="409.7" y="139.8" width="5.8" height="5.8" fill="#361b90"/><rect x="415.1" y="139.8" width="5.8" height="5.8" fill="#341d94"/><rect x="420.5" y="139.8" width="5.8" height="5.8" fill="#371b90"/><rect x="425.9" y="139.8" width="5.8" height="5.8" fill="#351c92"/><rect x="431.3" y="139.8" width="5.8" height="5.8" fill="#361c91"/><rect x="436.7" y="139.8" width="5.8" height="5.8" fill="#361c91"/><rect x="442.1" y="139.8" width="5.8" height="5.8" fill="#3a1a8c"/><rect x="447.5" y="139.8" width="5.8" height="5.8" fill="#391a8d"/><rect x="452.9" y="139.8" width="5.8" height="5.8" fill="#381b8f"/><rect x="458.3" y="139.8" width="5.8" height="5.8" fill="#3a1a8c"/><rect x="463.7" y="139.8" width="5.8" height="5.8" fill="#3a1a8c"/><rect x="469.1" y="139.8" width="5.8" height="5.8" fill="#3a1a8c"/><rect x="474.5" y="139.8" width="5.8" height="5.8" fill="#3a1a8c"/><rect x="479.9" y="139.8" width="5.8" height="5.8" fill="#381b8e"/><rect x="485.3" y="139.8" width="9.9" height="5.8" fill="#391a8d"/><rect x="75.3" y="145.2" width="10.8" height="5.8" fill="#3a1a8c"/><rect x="85.7" y="145.2" width="5.8" height="5.8" fill="#381b8e"/><rect x="91.1" y="145.2" width="5.8" height="5.8" fill="#3a1a8c"/><rect x="96.5" y="145.2" width="5.8" height="5.8" fill="#3a1a8c"/><rect x="101.9" y="145.2" width="5.8" height="5.8" fill="#391a8d"/><rect x="107.3" y="145.2" width="5.8" height="5.8" fill="#3a1a8c"/><rect x="112.7" y="145.2" width="5.8" height="5.8" fill="#3a1a8c"/><rect x="118.1" y="145.2" width="5.8" height="5.8" fill="#3a1a8c"/><rect x="123.5" y="145.2" width="5.8" height="5.8" fill="#3a1a8c"/><rect x="128.9" y="145.2" width="5.8" height="5.8" fill="#381b8e"/><rect x="134.3" y="145.2" width="5.8" height="5.8" fill="#391a8d"/><rect x="139.7" y="145.2" width="5.8" height="5.8" fill="#3a1a8c"/><rect x="145.1" y="145.2" width="5.8" height="5.8" fill="#3a1a8c"/><rect x="150.5" y="145.2" width="5.8" height="5.8" fill="#3a1a8c"/><rect x="155.9" y="145.2" width="5.8" height="5.8" fill="#3a1a8c"/><rect x="161.3" y="145.2" width="5.8" height="5.8" fill="#3a1a8c"/><rect x="166.7" y="145.2" width="5.8" height="5.8" fill="#3a1a8c"/><rect x="172.1" y="145.2" width="5.8" height="5.8" fill="#381b8e"/><rect x="177.5" y="145.2" width="5.8" height="5.8" fill="#381b8e"/><rect x="182.9" y="145.2" width="5.8" height="5.8" fill="#3a1a8c"/><rect x="188.3" y="145.2" width="5.8" height="5.8" fill="#3a1a8c"/><rect x="193.7" y="145.2" width="5.8" height="5.8" fill="#391a8d"/><rect x="199.1" y="145.2" width="5.8" height="5.8" fill="#381b8f"/><rect x="204.5" y="145.2" width="5.8" height="5.8" fill="#3a1a8c"/><rect x="209.9" y="145.2" width="5.8" height="5.8" fill="#391a8d"/><rect x="215.3" y="145.2" width="5.8" height="5.8" fill="#381b8e"/><rect x="220.7" y="145.2" width="5.8" height="5.8" fill="#3a1a8c"/><rect x="226.1" y="145.2" width="5.8" height="5.8" fill="#3a1a8c"/><rect x="231.5" y="145.2" width="5.8" height="5.8" fill="#371b90"/><rect x="236.9" y="145.2" width="5.8" height="5.8" fill="#371b8f"/><rect x="242.3" y="145.2" width="5.8" height="5.8" fill="#381b8e"/><rect x="247.7" y="145.2" width="5.8" height="5.8" fill="#391a8d"/><rect x="253.1" y="145.2" width="5.8" height="5.8" fill="#351c92"/><rect x="258.5" y="145.2" width="5.8" height="5.8" fill="#361c91"/><rect x="263.9" y="145.2" width="5.8" height="5.8" fill="#351c92"/><rect x="269.3" y="145.2" width="5.8" height="5.8" fill="#341c93"/><rect x="274.7" y="145.2" width="5.8" height="5.8" fill="#341c93"/><rect x="280.1" y="145.2" width="5.8" height="5.8" fill="#361c91"/><rect x="285.5" y="145.2" width="5.8" height="5.8" fill="#371b90"/><rect x="290.9" y="145.2" width="5.8" height="5.8" fill="#361b90"/><rect x="296.3" y="145.2" width="5.8" height="5.8" fill="#351c91"/><rect x="301.7" y="145.2" width="5.8" height="5.8" fill="#361c91"/><rect x="307.1" y="145.2" width="5.8" height="5.8" fill="#371b90"/><rect x="312.5" y="145.2" width="5.8" height="5.8" fill="#371b90"/><rect x="317.9" y="145.2" width="5.8" height="5.8" fill="#351c92"/><rect x="323.3" y="145.2" width="5.8" height="5.8" fill="#351c92"/><rect x="328.7" y="145.2" width="5.8" height="5.8" fill="#361b90"/><rect x="334.1" y="145.2" width="5.8" height="5.8" fill="#341d94"/><rect x="339.5" y="145.2" width="5.8" height="5.8" fill="#351c92"/><rect x="344.9" y="145.2" width="5.8" height="5.8" fill="#381b8f"/><rect x="350.3" y="145.2" width="5.8" height="5.8" fill="#371b90"/><rect x="355.7" y="145.2" width="5.8" height="5.8" fill="#361c91"/><rect x="361.1" y="145.2" width="5.8" height="5.8" fill="#391b8e"/><rect x="366.5" y="145.2" width="5.8" height="5.8" fill="#371b8f"/><rect x="371.9" y="145.2" width="5.8" height="5.8" fill="#3a1a8c"/><rect x="377.3" y="145.2" width="5.8" height="5.8" fill="#391a8d"/><rect x="382.7" y="145.2" width="5.8" height="5.8" fill="#381b8f"/><rect x="388.1" y="145.2" width="5.8" height="5.8" fill="#391a8d"/><rect x="393.5" y="145.2" width="5.8" height="5.8" fill="#391b8e"/><rect x="398.9" y="145.2" width="5.8" height="5.8" fill="#3a1a8c"/><rect x="404.3" y="145.2" width="5.8" height="5.8" fill="#3a1a8c"/><rect x="409.7" y="145.2" width="5.8" height="5.8" fill="#391a8d"/><rect x="415.1" y="145.2" width="5.8" height="5.8" fill="#3a1a8c"/><rect x="420.5" y="145.2" width="5.8" height="5.8" fill="#391a8d"/><rect x="425.9" y="145.2" width="5.8" height="5.8" fill="#3a1a8c"/><rect x="431.3" y="145.2" width="5.8" height="5.8" fill="#381b8f"/><rect x="436.7" y="145.2" width="5.8" height="5.8" fill="#3a1a8c"/><rect x="442.1" y="145.2" width="5.8" height="5.8" fill="#3a1a8c"/><rect x="447.5" y="145.2" width="5.8" height="5.8" fill="#3a1a8c"/><rect x="452.9" y="145.2" width="5.8" height="5.8" fill="#3a1a8c"/><rect x="458.3" y="145.2" width="5.8" height="5.8" fill="#391a8d"/><rect x="463.7" y="145.2" width="5.8" height="5.8" fill="#3a1a8c"/><rect x="469.1" y="145.2" width="5.8" height="5.8" fill="#3a1a8c"/><rect x="474.5" y="145.2" width="5.8" height="5.8" fill="#3a1a8c"/><rect x="479.9" y="145.2" width="5.8" height="5.8" fill="#3a1a8c"/><rect x="485.3" y="145.2" width="9.9" height="5.8" fill="#391b8e"/><rect x="75.3" y="150.6" width="10.8" height="10.6" fill="#3a1a8d"/><rect x="85.7" y="150.6" width="5.8" height="10.6" fill="#391a8d"/><rect x="91.1" y="150.6" width="5.8" height="10.6" fill="#3a1a8c"/><rect x="96.5" y="150.6" width="5.8" height="10.6" fill="#3a1a8c"/><rect x="101.9" y="150.6" width="5.8" height="10.6" fill="#391a8d"/><rect x="107.3" y="150.6" width="5.8" height="10.6" fill="#3a1a8c"/><rect x="112.7" y="150.6" width="5.8" height="10.6" fill="#391a8d"/><rect x="118.1" y="150.6" width="5.8" height="10.6" fill="#3a1a8c"/><rect x="123.5" y="150.6" width="5.8" height="10.6" fill="#3a1a8c"/><rect x="128.9" y="150.6" width="5.8" height="10.6" fill="#3a1a8c"/><rect x="134.3" y="150.6" width="5.8" height="10.6" fill="#3a1a8c"/><rect x="139.7" y="150.6" width="5.8" height="10.6" fill="#381b8e"/><rect x="145.1" y="150.6" width="5.8" height="10.6" fill="#3a1a8c"/><rect x="150.5" y="150.6" width="5.8" height="10.6" fill="#3a1a8c"/><rect x="155.9" y="150.6" width="5.8" height="10.6" fill="#3a1a8c"/><rect x="161.3" y="150.6" width="5.8" height="10.6" fill="#3a1a8c"/><rect x="166.7" y="150.6" width="5.8" height="10.6" fill="#3a1a8c"/><rect x="172.1" y="150.6" width="5.8" height="10.6" fill="#381b8e"/><rect x="177.5" y="150.6" width="5.8" height="10.6" fill="#3a1a8c"/><rect x="182.9" y="150.6" width="5.8" height="10.6" fill="#381b8e"/><rect x="188.3" y="150.6" width="5.8" height="10.6" fill="#3a1a8c"/><rect x="193.7" y="150.6" width="5.8" height="10.6" fill="#391a8d"/><rect x="199.1" y="150.6" width="5.8" height="10.6" fill="#3a1a8c"/><rect x="204.5" y="150.6" width="5.8" height="10.6" fill="#3a1a8c"/><rect x="209.9" y="150.6" width="5.8" height="10.6" fill="#381b8e"/><rect x="215.3" y="150.6" width="5.8" height="10.6" fill="#391b8e"/><rect x="220.7" y="150.6" width="5.8" height="10.6" fill="#3a1a8c"/><rect x="226.1" y="150.6" width="5.8" height="10.6" fill="#381b8e"/><rect x="231.5" y="150.6" width="5.8" height="10.6" fill="#391b8e"/><rect x="236.9" y="150.6" width="5.8" height="10.6" fill="#3a1a8c"/><rect x="242.3" y="150.6" width="5.8" height="10.6" fill="#391a8d"/><rect x="247.7" y="150.6" width="5.8" height="10.6" fill="#381b8f"/><rect x="253.1" y="150.6" width="5.8" height="10.6" fill="#391a8d"/><rect x="258.5" y="150.6" width="5.8" height="10.6" fill="#371b8f"/><rect x="263.9" y="150.6" width="5.8" height="10.6" fill="#3a1a8c"/><rect x="269.3" y="150.6" width="5.8" height="10.6" fill="#391a8d"/><rect x="274.7" y="150.6" width="5.8" height="10.6" fill="#381b8f"/><rect x="280.1" y="150.6" width="5.8" height="10.6" fill="#3a1a8c"/><rect x="285.5" y="150.6" width="5.8" height="10.6" fill="#391a8d"/><rect x="290.9" y="150.6" width="5.8" height="10.6" fill="#371b8f"/><rect x="296.3" y="150.6" width="5.8" height="10.6" fill="#391a8d"/><rect x="301.7" y="150.6" width="5.8" height="10.6" fill="#381b8f"/><rect x="307.1" y="150.6" width="5.8" height="10.6" fill="#3a1a8c"/><rect x="312.5" y="150.6" width="5.8" height="10.6" fill="#3a1a8c"/><rect x="317.9" y="150.6" width="5.8" height="10.6" fill="#391a8d"/><rect x="323.3" y="150.6" width="5.8" height="10.6" fill="#3a1a8c"/><rect x="328.7" y="150.6" width="5.8" height="10.6" fill="#371b90"/><rect x="334.1" y="150.6" width="5.8" height="10.6" fill="#3a1a8c"/><rect x="339.5" y="150.6" width="5.8" height="10.6" fill="#391b8e"/><rect x="344.9" y="150.6" width="5.8" height="10.6" fill="#3a1a8c"/><rect x="350.3" y="150.6" width="5.8" height="10.6" fill="#391a8d"/><rect x="355.7" y="150.6" width="5.8" height="10.6" fill="#3a1a8c"/><rect x="361.1" y="150.6" width="5.8" height="10.6" fill="#3a1a8c"/><rect x="366.5" y="150.6" width="5.8" height="10.6" fill="#3a1a8c"/><rect x="371.9" y="150.6" width="5.8" height="10.6" fill="#3a1a8c"/><rect x="377.3" y="150.6" width="5.8" height="10.6" fill="#381b8e"/><rect x="382.7" y="150.6" width="5.8" height="10.6" fill="#3a1a8c"/><rect x="388.1" y="150.6" width="5.8" height="10.6" fill="#3a1a8c"/><rect x="393.5" y="150.6" width="5.8" height="10.6" fill="#3a1a8c"/><rect x="398.9" y="150.6" width="5.8" height="10.6" fill="#3a1a8c"/><rect x="404.3" y="150.6" width="5.8" height="10.6" fill="#3a1a8c"/><rect x="409.7" y="150.6" width="5.8" height="10.6" fill="#3a1a8c"/><rect x="415.1" y="150.6" width="5.8" height="10.6" fill="#391a8d"/><rect x="420.5" y="150.6" width="5.8" height="10.6" fill="#3a1a8c"/><rect x="425.9" y="150.6" width="5.8" height="10.6" fill="#3a1a8c"/><rect x="431.3" y="150.6" width="5.8" height="10.6" fill="#391a8d"/><rect x="436.7" y="150.6" width="5.8" height="10.6" fill="#3a1a8c"/><rect x="442.1" y="150.6" width="5.8" height="10.6" fill="#3a1a8c"/><rect x="447.5" y="150.6" width="5.8" height="10.6" fill="#391b8e"/><rect x="452.9" y="150.6" width="5.8" height="10.6" fill="#3a1a8c"/><rect x="458.3" y="150.6" width="5.8" height="10.6" fill="#3a1a8c"/><rect x="463.7" y="150.6" width="5.8" height="10.6" fill="#391b8e"/><rect x="469.1" y="150.6" width="5.8" height="10.6" fill="#391a8d"/><rect x="474.5" y="150.6" width="5.8" height="10.6" fill="#3a1a8c"/><rect x="479.9" y="150.6" width="5.8" height="10.6" fill="#3a1a8c"/><rect x="485.3" y="150.6" width="9.9" height="10.6" fill="#391a8d"/></g></g>
<g font-family="'Liberation Serif', 'Times New Roman', serif" fill="#0c0c0c" stroke="#0c0c0c" stroke-width="0.3">
<text x="1.5" y="26.5" font-size="17.4">T = 280 nK</text>
<text x="-0.5" y="77.3" font-size="17.4">T = 287 nK</text>
<text x="5" y="138.5" font-size="17.2">T=180 nK</text>
<text x="494.2" y="29.6" font-size="21.2">(a)</text>
<text x="495" y="85.3" font-size="21.2">(b)</text>
<text x="496.3" y="139.8" font-size="21.2">(c)</text>
<text x="494.2" y="261.8" font-size="21.2">(d)</text>
<text x="75.3" y="187.5" font-size="20.5" text-anchor="end" textLength="27.7" lengthAdjust="spacingAndGlyphs">120</text>
<text x="75.3" y="218.0" font-size="20.5" text-anchor="end" textLength="18.4" lengthAdjust="spacingAndGlyphs">80</text>
<text x="75.3" y="248.5" font-size="20.5" text-anchor="end" textLength="18.4" lengthAdjust="spacingAndGlyphs">40</text>
<text x="69.0" y="279.0" font-size="20.5" text-anchor="end" textLength="9.2" lengthAdjust="spacingAndGlyphs">0</text>
<text x="75.3" y="309.5" font-size="20.5" text-anchor="end" textLength="24.6" lengthAdjust="spacingAndGlyphs">-40</text>
<text x="75.3" y="340.0" font-size="20.5" text-anchor="end" textLength="24.6" lengthAdjust="spacingAndGlyphs">-80</text>
<text x="113.6" y="364.6" font-size="20.5" text-anchor="middle" textLength="27.7" lengthAdjust="spacingAndGlyphs">140</text>
<text x="174.1" y="364.6" font-size="20.5" text-anchor="middle" textLength="27.7" lengthAdjust="spacingAndGlyphs">150</text>
<text x="234.6" y="364.6" font-size="20.5" text-anchor="middle" textLength="27.7" lengthAdjust="spacingAndGlyphs">160</text>
<text x="295.1" y="364.6" font-size="20.5" text-anchor="middle" textLength="27.7" lengthAdjust="spacingAndGlyphs">170</text>
<text x="355.6" y="364.6" font-size="20.5" text-anchor="middle" textLength="27.7" lengthAdjust="spacingAndGlyphs">180</text>
<text x="416.1" y="364.6" font-size="20.5" text-anchor="middle" textLength="27.7" lengthAdjust="spacingAndGlyphs">190</text>
<text x="476.6" y="364.6" font-size="20.5" text-anchor="middle" textLength="27.7" lengthAdjust="spacingAndGlyphs">200</text>
<text x="127.5" y="388.9" font-size="22" textLength="328.5" lengthAdjust="spacingAndGlyphs">longitudinal position in pixels (6 μm)</text>
<text transform="translate(35.1,320.3) rotate(-90)" font-size="21.8" textLength="136.5" lengthAdjust="spacingAndGlyphs">roughness (nK)</text>
<text x="103.7" y="191.2" font-size="17.6" textLength="121.3" lengthAdjust="spacingAndGlyphs">negative currents</text>
<text x="252.5" y="191.2" font-size="17.6" textLength="115.5" lengthAdjust="spacingAndGlyphs">positive currents</text>
<text x="398.7" y="191.2" font-size="17.6" textLength="85" lengthAdjust="spacingAndGlyphs">AC currents</text>
</g>
<rect x="82.5" y="175.5" width="407.2" height="168.0" fill="none" stroke="#2a2a2a" stroke-width="1.4"/>
<path d="M82.5 334.60h7 M82.5 319.35h4 M82.5 304.10h7 M82.5 288.85h4 M82.5 273.60h7 M82.5 258.35h4 M82.5 243.10h7 M82.5 227.85h4 M82.5 212.60h7 M82.5 197.35h4 M82.5 182.10h7 M117.50 343.5v-7 M178.00 343.5v-7 M238.50 343.5v-7 M299.00 343.5v-7 M359.50 343.5v-7 M420.00 343.5v-7 M480.50 343.5v-7" stroke="#2a2a2a" stroke-width="1.3" fill="none"/>
<polyline points="117.3,257.0 123.3,253.2 129.4,255.5 135.4,256.2 141.4,270.0 147.4,271.2 153.5,273.0 159.5,281.2 165.5,275.8 171.6,265.0 177.6,262.5 183.6,288.0 189.7,302.0 195.7,314.5 201.7,324.5 207.8,322.0 213.8,295.8 219.8,251.0 225.8,205.5 231.9,215.0 237.9,242.5 243.9,275.0 250.0,284.0 256.0,291.0 262.0,293.8 268.1,295.5 274.1,280.0 280.1,275.0 286.1,258.8 292.2,238.8 298.2,220.0 304.2,249.8 310.3,257.0 316.3,246.2 322.3,232.5 328.4,245.8 334.4,297.0 340.4,317.0 346.4,317.0 352.5,301.2 358.5,313.8 364.5,330.8 370.6,313.8 376.6,267.2 382.6,238.2 388.7,249.5 394.7,270.0 400.7,271.2 406.7,270.0 412.8,252.0 418.8,254.5" fill="none" stroke="#a8a4b4" stroke-width="0.8" stroke-dasharray="1.5 1"/>
<polyline points="117.3,277.0 123.3,274.2 129.4,281.5 135.4,282.0 141.4,285.8 153.5,283.0 159.5,285.8 165.5,286.5 171.6,271.8 177.6,268.2 183.6,269.8 189.7,251.8 195.7,239.0 201.7,251.8 207.8,255.8 213.8,264.5 219.8,275.8 225.8,298.8 231.9,310.5 237.9,307.0 243.9,289.5 250.0,275.2 256.0,260.5 262.0,242.0 268.1,235.0 274.1,247.5 280.1,275.5 286.1,283.5 292.2,278.5 298.2,282.0 304.2,284.5 310.3,282.8 316.3,273.8 322.3,273.5 328.4,287.5 334.4,295.5 340.4,295.0 346.4,282.8 352.5,265.5 358.5,243.8 364.5,248.0 370.6,258.0 376.6,266.0 382.6,262.8 388.7,274.8 394.7,296.8 400.7,275.2 406.7,275.2 412.8,255.0" fill="none" stroke="#7a7472" stroke-width="0.8" stroke-dasharray="3 1.5"/>
<polyline points="207.8,277.8 213.8,269.8 219.8,275.8 225.8,270.0 231.9,270.0 237.9,272.0 243.9,270.0 250.0,269.5 256.0,265.5 262.0,268.8 268.1,275.5 274.1,273.8 280.1,276.2 286.1,276.2 292.2,278.5 298.2,281.2 304.2,282.2 310.3,277.0 316.3,273.0 322.3,273.0 328.4,273.8 334.4,275.0 340.4,270.0 346.4,264.5 352.5,266.2 358.5,267.0 364.5,267.0 370.6,276.2 376.6,273.8 382.6,276.2 388.7,269.5 394.7,261.2 400.7,269.5 406.7,280.8 412.8,283.8" fill="none" stroke="#8fc98f" stroke-width="0.6" opacity="0.6"/>
<circle cx="117.3" cy="257.0" r="2.4" fill="#83a1d6" stroke="#4867ae" stroke-width="1.2"/>
<circle cx="123.3" cy="253.2" r="2.4" fill="#83a1d6" stroke="#4867ae" stroke-width="1.2"/>
<circle cx="129.4" cy="255.5" r="2.4" fill="#83a1d6" stroke="#4867ae" stroke-width="1.2"/>
<circle cx="135.4" cy="256.2" r="2.4" fill="#83a1d6" stroke="#4867ae" stroke-width="1.2"/>
<circle cx="141.4" cy="270.0" r="2.4" fill="#83a1d6" stroke="#4867ae" stroke-width="1.2"/>
<circle cx="147.4" cy="271.2" r="2.4" fill="#83a1d6" stroke="#4867ae" stroke-width="1.2"/>
<circle cx="153.5" cy="273.0" r="2.4" fill="#83a1d6" stroke="#4867ae" stroke-width="1.2"/>
<circle cx="159.5" cy="281.2" r="2.4" fill="#83a1d6" stroke="#4867ae" stroke-width="1.2"/>
<circle cx="165.5" cy="275.8" r="2.4" fill="#83a1d6" stroke="#4867ae" stroke-width="1.2"/>
<circle cx="171.6" cy="265.0" r="2.4" fill="#83a1d6" stroke="#4867ae" stroke-width="1.2"/>
<circle cx="177.6" cy="262.5" r="2.4" fill="#83a1d6" stroke="#4867ae" stroke-width="1.2"/>
<circle cx="183.6" cy="288.0" r="2.4" fill="#83a1d6" stroke="#4867ae" stroke-width="1.2"/>
<circle cx="189.7" cy="302.0" r="2.4" fill="#83a1d6" stroke="#4867ae" stroke-width="1.2"/>
<circle cx="195.7" cy="314.5" r="2.4" fill="#83a1d6" stroke="#4867ae" stroke-width="1.2"/>
<circle cx="201.7" cy="324.5" r="2.4" fill="#83a1d6" stroke="#4867ae" stroke-width="1.2"/>
<circle cx="207.8" cy="322.0" r="2.4" fill="#83a1d6" stroke="#4867ae" stroke-width="1.2"/>
<circle cx="213.8" cy="295.8" r="2.4" fill="#83a1d6" stroke="#4867ae" stroke-width="1.2"/>
<circle cx="219.8" cy="251.0" r="2.4" fill="#83a1d6" stroke="#4867ae" stroke-width="1.2"/>
<circle cx="225.8" cy="205.5" r="2.4" fill="#83a1d6" stroke="#4867ae" stroke-width="1.2"/>
<circle cx="231.9" cy="215.0" r="2.4" fill="#83a1d6" stroke="#4867ae" stroke-width="1.2"/>
<circle cx="237.9" cy="242.5" r="2.4" fill="#83a1d6" stroke="#4867ae" stroke-width="1.2"/>
<circle cx="243.9" cy="275.0" r="2.4" fill="#83a1d6" stroke="#4867ae" stroke-width="1.2"/>
<circle cx="250.0" cy="284.0" r="2.4" fill="#83a1d6" stroke="#4867ae" stroke-width="1.2"/>
<circle cx="256.0" cy="291.0" r="2.4" fill="#83a1d6" stroke="#4867ae" stroke-width="1.2"/>
<circle cx="262.0" cy="293.8" r="2.4" fill="#83a1d6" stroke="#4867ae" stroke-width="1.2"/>
<circle cx="268.1" cy="295.5" r="2.4" fill="#83a1d6" stroke="#4867ae" stroke-width="1.2"/>
<circle cx="274.1" cy="280.0" r="2.4" fill="#83a1d6" stroke="#4867ae" stroke-width="1.2"/>
<circle cx="280.1" cy="275.0" r="2.4" fill="#83a1d6" stroke="#4867ae" stroke-width="1.2"/>
<circle cx="286.1" cy="258.8" r="2.4" fill="#83a1d6" stroke="#4867ae" stroke-width="1.2"/>
<circle cx="292.2" cy="238.8" r="2.4" fill="#83a1d6" stroke="#4867ae" stroke-width="1.2"/>
<circle cx="298.2" cy="220.0" r="2.4" fill="#83a1d6" stroke="#4867ae" stroke-width="1.2"/>
<circle cx="304.2" cy="249.8" r="2.4" fill="#83a1d6" stroke="#4867ae" stroke-width="1.2"/>
<circle cx="310.3" cy="257.0" r="2.4" fill="#83a1d6" stroke="#4867ae" stroke-width="1.2"/>
<circle cx="316.3" cy="246.2" r="2.4" fill="#83a1d6" stroke="#4867ae" stroke-width="1.2"/>
<circle cx="322.3" cy="232.5" r="2.4" fill="#83a1d6" stroke="#4867ae" stroke-width="1.2"/>
<circle cx="328.4" cy="245.8" r="2.4" fill="#83a1d6" stroke="#4867ae" stroke-width="1.2"/>
<circle cx="334.4" cy="297.0" r="2.4" fill="#83a1d6" stroke="#4867ae" stroke-width="1.2"/>
<circle cx="340.4" cy="317.0" r="2.4" fill="#83a1d6" stroke="#4867ae" stroke-width="1.2"/>
<circle cx="346.4" cy="317.0" r="2.4" fill="#83a1d6" stroke="#4867ae" stroke-width="1.2"/>
<circle cx="352.5" cy="301.2" r="2.4" fill="#83a1d6" stroke="#4867ae" stroke-width="1.2"/>
<circle cx="358.5" cy="313.8" r="2.4" fill="#83a1d6" stroke="#4867ae" stroke-width="1.2"/>
<circle cx="364.5" cy="330.8" r="2.4" fill="#83a1d6" stroke="#4867ae" stroke-width="1.2"/>
<circle cx="370.6" cy="313.8" r="2.4" fill="#83a1d6" stroke="#4867ae" stroke-width="1.2"/>
<circle cx="376.6" cy="267.2" r="2.4" fill="#83a1d6" stroke="#4867ae" stroke-width="1.2"/>
<circle cx="382.6" cy="238.2" r="2.4" fill="#83a1d6" stroke="#4867ae" stroke-width="1.2"/>
<circle cx="388.7" cy="249.5" r="2.4" fill="#83a1d6" stroke="#4867ae" stroke-width="1.2"/>
<circle cx="394.7" cy="270.0" r="2.4" fill="#83a1d6" stroke="#4867ae" stroke-width="1.2"/>
<circle cx="400.7" cy="271.2" r="2.4" fill="#83a1d6" stroke="#4867ae" stroke-width="1.2"/>
<circle cx="406.7" cy="270.0" r="2.4" fill="#83a1d6" stroke="#4867ae" stroke-width="1.2"/>
<circle cx="412.8" cy="252.0" r="2.4" fill="#83a1d6" stroke="#4867ae" stroke-width="1.2"/>
<circle cx="418.8" cy="254.5" r="2.4" fill="#83a1d6" stroke="#4867ae" stroke-width="1.2"/>
<circle cx="117.3" cy="277.0" r="2.4" fill="#fff" stroke="#0a0a0a" stroke-width="1.5"/>
<circle cx="123.3" cy="274.2" r="2.4" fill="#fff" stroke="#0a0a0a" stroke-width="1.5"/>
<circle cx="129.4" cy="281.5" r="2.4" fill="#fff" stroke="#0a0a0a" stroke-width="1.5"/>
<circle cx="135.4" cy="282.0" r="2.4" fill="#fff" stroke="#0a0a0a" stroke-width="1.5"/>
<circle cx="141.4" cy="285.8" r="2.4" fill="#fff" stroke="#0a0a0a" stroke-width="1.5"/>
<circle cx="153.5" cy="283.0" r="2.4" fill="#fff" stroke="#0a0a0a" stroke-width="1.5"/>
<circle cx="159.5" cy="285.8" r="2.4" fill="#fff" stroke="#0a0a0a" stroke-width="1.5"/>
<circle cx="165.5" cy="286.5" r="2.4" fill="#fff" stroke="#0a0a0a" stroke-width="1.5"/>
<circle cx="171.6" cy="271.8" r="2.4" fill="#fff" stroke="#0a0a0a" stroke-width="1.5"/>
<circle cx="177.6" cy="268.2" r="2.4" fill="#fff" stroke="#0a0a0a" stroke-width="1.5"/>
<circle cx="183.6" cy="269.8" r="2.4" fill="#fff" stroke="#0a0a0a" stroke-width="1.5"/>
<circle cx="189.7" cy="251.8" r="2.4" fill="#fff" stroke="#0a0a0a" stroke-width="1.5"/>
<circle cx="195.7" cy="239.0" r="2.4" fill="#fff" stroke="#0a0a0a" stroke-width="1.5"/>
<circle cx="201.7" cy="251.8" r="2.4" fill="#fff" stroke="#0a0a0a" stroke-width="1.5"/>
<circle cx="207.8" cy="255.8" r="2.4" fill="#fff" stroke="#0a0a0a" stroke-width="1.5"/>
<circle cx="213.8" cy="264.5" r="2.4" fill="#fff" stroke="#0a0a0a" stroke-width="1.5"/>
<circle cx="219.8" cy="275.8" r="2.4" fill="#fff" stroke="#0a0a0a" stroke-width="1.5"/>
<circle cx="225.8" cy="298.8" r="2.4" fill="#fff" stroke="#0a0a0a" stroke-width="1.5"/>
<circle cx="231.9" cy="310.5" r="2.4" fill="#fff" stroke="#0a0a0a" stroke-width="1.5"/>
<circle cx="237.9" cy="307.0" r="2.4" fill="#fff" stroke="#0a0a0a" stroke-width="1.5"/>
<circle cx="243.9" cy="289.5" r="2.4" fill="#fff" stroke="#0a0a0a" stroke-width="1.5"/>
<circle cx="250.0" cy="275.2" r="2.4" fill="#fff" stroke="#0a0a0a" stroke-width="1.5"/>
<circle cx="256.0" cy="260.5" r="2.4" fill="#fff" stroke="#0a0a0a" stroke-width="1.5"/>
<circle cx="262.0" cy="242.0" r="2.4" fill="#fff" stroke="#0a0a0a" stroke-width="1.5"/>
<circle cx="268.1" cy="235.0" r="2.4" fill="#fff" stroke="#0a0a0a" stroke-width="1.5"/>
<circle cx="274.1" cy="247.5" r="2.4" fill="#fff" stroke="#0a0a0a" stroke-width="1.5"/>
<circle cx="280.1" cy="275.5" r="2.4" fill="#fff" stroke="#0a0a0a" stroke-width="1.5"/>
<circle cx="286.1" cy="283.5" r="2.4" fill="#fff" stroke="#0a0a0a" stroke-width="1.5"/>
<circle cx="292.2" cy="278.5" r="2.4" fill="#fff" stroke="#0a0a0a" stroke-width="1.5"/>
<circle cx="298.2" cy="282.0" r="2.4" fill="#fff" stroke="#0a0a0a" stroke-width="1.5"/>
<circle cx="304.2" cy="284.5" r="2.4" fill="#fff" stroke="#0a0a0a" stroke-width="1.5"/>
<circle cx="310.3" cy="282.8" r="2.4" fill="#fff" stroke="#0a0a0a" stroke-width="1.5"/>
<circle cx="316.3" cy="273.8" r="2.4" fill="#fff" stroke="#0a0a0a" stroke-width="1.5"/>
<circle cx="322.3" cy="273.5" r="2.4" fill="#fff" stroke="#0a0a0a" stroke-width="1.5"/>
<circle cx="328.4" cy="287.5" r="2.4" fill="#fff" stroke="#0a0a0a" stroke-width="1.5"/>
<circle cx="340.4" cy="295.0" r="2.4" fill="#fff" stroke="#0a0a0a" stroke-width="1.5"/>
<circle cx="346.4" cy="282.8" r="2.4" fill="#fff" stroke="#0a0a0a" stroke-width="1.5"/>
<circle cx="352.5" cy="265.5" r="2.4" fill="#fff" stroke="#0a0a0a" stroke-width="1.5"/>
<circle cx="358.5" cy="243.8" r="2.4" fill="#fff" stroke="#0a0a0a" stroke-width="1.5"/>
<circle cx="364.5" cy="248.0" r="2.4" fill="#fff" stroke="#0a0a0a" stroke-width="1.5"/>
<circle cx="370.6" cy="258.0" r="2.4" fill="#fff" stroke="#0a0a0a" stroke-width="1.5"/>
<circle cx="382.6" cy="262.8" r="2.4" fill="#fff" stroke="#0a0a0a" stroke-width="1.5"/>
<circle cx="388.7" cy="274.8" r="2.4" fill="#fff" stroke="#0a0a0a" stroke-width="1.5"/>
<circle cx="394.7" cy="296.8" r="2.4" fill="#fff" stroke="#0a0a0a" stroke-width="1.5"/>
<circle cx="400.7" cy="275.2" r="2.4" fill="#fff" stroke="#0a0a0a" stroke-width="1.5"/>
<circle cx="406.7" cy="275.2" r="2.4" fill="#fff" stroke="#0a0a0a" stroke-width="1.5"/>
<circle cx="412.8" cy="255.0" r="2.4" fill="#fff" stroke="#0a0a0a" stroke-width="1.5"/>
<rect x="205.2" y="275.2" width="5" height="5" fill="#d4f2d0" fill-opacity="0.55" stroke="#2f9f3a" stroke-width="1.1"/>
<rect x="211.3" y="267.2" width="5" height="5" fill="#d4f2d0" fill-opacity="0.55" stroke="#2f9f3a" stroke-width="1.1"/>
<rect x="217.3" y="273.2" width="5" height="5" fill="#d4f2d0" fill-opacity="0.55" stroke="#2f9f3a" stroke-width="1.1"/>
<rect x="223.3" y="267.5" width="5" height="5" fill="#d4f2d0" fill-opacity="0.55" stroke="#2f9f3a" stroke-width="1.1"/>
<rect x="229.4" y="267.5" width="5" height="5" fill="#d4f2d0" fill-opacity="0.55" stroke="#2f9f3a" stroke-width="1.1"/>
<rect x="235.4" y="269.5" width="5" height="5" fill="#d4f2d0" fill-opacity="0.55" stroke="#2f9f3a" stroke-width="1.1"/>
<rect x="241.4" y="267.5" width="5" height="5" fill="#d4f2d0" fill-opacity="0.55" stroke="#2f9f3a" stroke-width="1.1"/>
<rect x="247.5" y="267.0" width="5" height="5" fill="#d4f2d0" fill-opacity="0.55" stroke="#2f9f3a" stroke-width="1.1"/>
<rect x="253.5" y="263.0" width="5" height="5" fill="#d4f2d0" fill-opacity="0.55" stroke="#2f9f3a" stroke-width="1.1"/>
<rect x="259.5" y="266.2" width="5" height="5" fill="#d4f2d0" fill-opacity="0.55" stroke="#2f9f3a" stroke-width="1.1"/>
<rect x="265.6" y="273.0" width="5" height="5" fill="#d4f2d0" fill-opacity="0.55" stroke="#2f9f3a" stroke-width="1.1"/>
<rect x="271.6" y="271.2" width="5" height="5" fill="#d4f2d0" fill-opacity="0.55" stroke="#2f9f3a" stroke-width="1.1"/>
<rect x="277.6" y="273.8" width="5" height="5" fill="#d4f2d0" fill-opacity="0.55" stroke="#2f9f3a" stroke-width="1.1"/>
<rect x="283.6" y="273.8" width="5" height="5" fill="#d4f2d0" fill-opacity="0.55" stroke="#2f9f3a" stroke-width="1.1"/>
<rect x="289.7" y="276.0" width="5" height="5" fill="#d4f2d0" fill-opacity="0.55" stroke="#2f9f3a" stroke-width="1.1"/>
<rect x="295.7" y="278.8" width="5" height="5" fill="#d4f2d0" fill-opacity="0.55" stroke="#2f9f3a" stroke-width="1.1"/>
<rect x="301.7" y="279.8" width="5" height="5" fill="#d4f2d0" fill-opacity="0.55" stroke="#2f9f3a" stroke-width="1.1"/>
<rect x="307.8" y="274.5" width="5" height="5" fill="#d4f2d0" fill-opacity="0.55" stroke="#2f9f3a" stroke-width="1.1"/>
<rect x="313.8" y="270.5" width="5" height="5" fill="#d4f2d0" fill-opacity="0.55" stroke="#2f9f3a" stroke-width="1.1"/>
<rect x="319.8" y="270.5" width="5" height="5" fill="#d4f2d0" fill-opacity="0.55" stroke="#2f9f3a" stroke-width="1.1"/>
<rect x="325.9" y="271.2" width="5" height="5" fill="#d4f2d0" fill-opacity="0.55" stroke="#2f9f3a" stroke-width="1.1"/>
<rect x="331.9" y="272.5" width="5" height="5" fill="#d4f2d0" fill-opacity="0.55" stroke="#2f9f3a" stroke-width="1.1"/>
<rect x="337.9" y="267.5" width="5" height="5" fill="#d4f2d0" fill-opacity="0.55" stroke="#2f9f3a" stroke-width="1.1"/>
<rect x="343.9" y="262.0" width="5" height="5" fill="#d4f2d0" fill-opacity="0.55" stroke="#2f9f3a" stroke-width="1.1"/>
<rect x="350.0" y="263.8" width="5" height="5" fill="#d4f2d0" fill-opacity="0.55" stroke="#2f9f3a" stroke-width="1.1"/>
<rect x="356.0" y="264.5" width="5" height="5" fill="#d4f2d0" fill-opacity="0.55" stroke="#2f9f3a" stroke-width="1.1"/>
<rect x="362.0" y="264.5" width="5" height="5" fill="#d4f2d0" fill-opacity="0.55" stroke="#2f9f3a" stroke-width="1.1"/>
<rect x="368.1" y="273.8" width="5" height="5" fill="#d4f2d0" fill-opacity="0.55" stroke="#2f9f3a" stroke-width="1.1"/>
<rect x="374.1" y="271.2" width="5" height="5" fill="#d4f2d0" fill-opacity="0.55" stroke="#2f9f3a" stroke-width="1.1"/>
<rect x="380.1" y="273.8" width="5" height="5" fill="#d4f2d0" fill-opacity="0.55" stroke="#2f9f3a" stroke-width="1.1"/>
<rect x="386.2" y="267.0" width="5" height="5" fill="#d4f2d0" fill-opacity="0.55" stroke="#2f9f3a" stroke-width="1.1"/>
<rect x="392.2" y="258.8" width="5" height="5" fill="#d4f2d0" fill-opacity="0.55" stroke="#2f9f3a" stroke-width="1.1"/>
<rect x="398.2" y="267.0" width="5" height="5" fill="#d4f2d0" fill-opacity="0.55" stroke="#2f9f3a" stroke-width="1.1"/>
<rect x="404.2" y="278.2" width="5" height="5" fill="#d4f2d0" fill-opacity="0.55" stroke="#2f9f3a" stroke-width="1.1"/>
<rect x="410.3" y="281.2" width="5" height="5" fill="#d4f2d0" fill-opacity="0.55" stroke="#2f9f3a" stroke-width="1.1"/>
<rect x="98" y="185.9" width="3.8" height="3.8" rx="1" fill="#6f7fba" stroke="#9aa5d4" stroke-width="1.1"/>
<circle cx="246" cy="187.5" r="2.1" fill="none" stroke="#111" stroke-width="1.2"/>
<rect x="387.5" y="184" width="4" height="4" fill="#eef8ec" stroke="#5a9a6a" stroke-width="0.9"/>
</svg>
</body></html>
